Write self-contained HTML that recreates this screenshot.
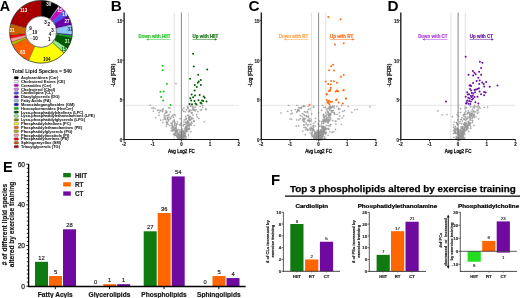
<!DOCTYPE html>
<html><head><meta charset="utf-8"><style>
html,body{margin:0;padding:0;background:#fff;}
body{width:520px;height:298px;overflow:hidden;}
svg{display:block;font-family:"Liberation Sans", sans-serif;filter:blur(0.3px);}
</style></head><body>
<svg width="520" height="298" viewBox="0 0 520 298">
<rect width="520" height="298" fill="#fff"/>
<text x="-0.30" y="10.80" font-size="14.3" text-anchor="start" font-weight="bold" fill="#000" >A</text>
<path d="M41.000,0.400 A31.4,31.4 0 0 1 58.875,5.985 L49.881,18.975 A15.6,15.6 0 0 0 41.000,16.200 Z" fill="#000000" stroke="#222" stroke-width="0.25"/>
<path d="M58.875,5.985 A31.4,31.4 0 0 1 59.765,6.624 L50.323,19.292 A15.6,15.6 0 0 0 49.881,18.975 Z" fill="#ffffff" stroke="#222" stroke-width="0.25"/>
<path d="M59.765,6.624 A31.4,31.4 0 0 1 63.852,10.265 L52.353,21.101 A15.6,15.6 0 0 0 50.323,19.292 Z" fill="#cc00cc" stroke="#222" stroke-width="0.25"/>
<path d="M63.852,10.265 A31.4,31.4 0 0 1 64.335,10.789 L52.593,21.362 A15.6,15.6 0 0 0 52.353,21.101 Z" fill="#e080f0" stroke="#222" stroke-width="0.25"/>
<path d="M64.335,10.789 A31.4,31.4 0 0 1 67.830,15.487 L54.330,23.696 A15.6,15.6 0 0 0 52.593,21.362 Z" fill="#5050ff" stroke="#222" stroke-width="0.25"/>
<path d="M67.830,15.487 A31.4,31.4 0 0 1 71.595,24.737 L56.200,28.291 A15.6,15.6 0 0 0 54.330,23.696 Z" fill="#6a00a8" stroke="#222" stroke-width="0.25"/>
<path d="M71.595,24.737 A31.4,31.4 0 0 1 72.255,34.810 L56.528,33.295 A15.6,15.6 0 0 0 56.200,28.291 Z" fill="#90c4f8" stroke="#222" stroke-width="0.25"/>
<path d="M72.266,34.700 A31.4,31.4 0 0 1 72.138,35.844 L56.470,33.809 A15.6,15.6 0 0 0 56.533,33.241 Z" fill="#1414c8" stroke="#222" stroke-width="0.25"/>
<path d="M72.138,35.844 A31.4,31.4 0 0 1 71.834,37.738 L56.319,34.750 A15.6,15.6 0 0 0 56.470,33.809 Z" fill="#00c400" stroke="#222" stroke-width="0.25"/>
<path d="M71.834,37.738 A31.4,31.4 0 0 1 67.629,48.439 L54.230,40.067 A15.6,15.6 0 0 0 56.319,34.750 Z" fill="#005a00" stroke="#222" stroke-width="0.25"/>
<path d="M67.629,48.439 A31.4,31.4 0 0 1 64.113,53.054 L52.483,42.359 A15.6,15.6 0 0 0 54.230,40.067 Z" fill="#90ee90" stroke="#222" stroke-width="0.25"/>
<path d="M64.113,53.054 A31.4,31.4 0 0 1 63.852,53.335 L52.353,42.499 A15.6,15.6 0 0 0 52.483,42.359 Z" fill="#8a8a00" stroke="#222" stroke-width="0.25"/>
<path d="M63.852,53.335 A31.4,31.4 0 0 1 28.479,60.596 L34.780,46.106 A15.6,15.6 0 0 0 52.353,42.499 Z" fill="#ffff00" stroke="#222" stroke-width="0.25"/>
<path d="M28.479,60.596 A31.4,31.4 0 0 1 12.542,45.070 L26.862,38.393 A15.6,15.6 0 0 0 34.780,46.106 Z" fill="#ff6000" stroke="#222" stroke-width="0.25"/>
<path d="M12.542,45.070 A31.4,31.4 0 0 1 11.258,41.867 L26.224,36.802 A15.6,15.6 0 0 0 26.862,38.393 Z" fill="#b8b800" stroke="#222" stroke-width="0.25"/>
<path d="M11.258,41.867 A31.4,31.4 0 0 1 10.286,38.328 L25.741,35.043 A15.6,15.6 0 0 0 26.224,36.802 Z" fill="#ff9aa8" stroke="#222" stroke-width="0.25"/>
<path d="M10.286,38.328 A31.4,31.4 0 0 1 9.772,35.082 L25.485,33.431 A15.6,15.6 0 0 0 25.741,35.043 Z" fill="#ff0000" stroke="#222" stroke-width="0.25"/>
<path d="M9.772,35.082 A31.4,31.4 0 0 1 10.628,23.832 L25.911,27.841 A15.6,15.6 0 0 0 25.485,33.431 Z" fill="#c86400" stroke="#222" stroke-width="0.25"/>
<path d="M10.628,23.832 A31.4,31.4 0 0 1 41.000,0.400 L41.000,16.200 A15.6,15.6 0 0 0 25.911,27.841 Z" fill="#a80000" stroke="#222" stroke-width="0.25"/>
<circle cx="41.0" cy="31.8" r="31.4" fill="none" stroke="#111" stroke-width="0.5"/>
<circle cx="41.0" cy="31.8" r="15.6" fill="#fff" stroke="#111" stroke-width="0.5"/>
<text x="23.60" y="12.10" font-size="4.5" text-anchor="middle" font-weight="bold" fill="#fff" >113</text>
<text x="48.80" y="6.00" font-size="4.5" text-anchor="middle" font-weight="bold" fill="#fff" >30</text>
<text x="60.00" y="12.00" font-size="4.5" text-anchor="middle" font-weight="bold" fill="#fff" >15</text>
<text x="64.70" y="16.10" font-size="4.5" text-anchor="middle" font-weight="bold" fill="#fff" >16</text>
<text x="67.00" y="22.50" font-size="4.5" text-anchor="middle" font-weight="bold" fill="#fff" >27</text>
<text x="70.00" y="31.40" font-size="4.5" text-anchor="middle" font-weight="bold" fill="#1a2a5a" >31</text>
<text x="67.30" y="43.40" font-size="4.5" text-anchor="middle" font-weight="bold" fill="#b8f0b8" >31</text>
<text x="63.80" y="51.10" font-size="4.5" text-anchor="middle" font-weight="bold" fill="#1a5a1a" >15</text>
<text x="46.70" y="60.50" font-size="4.5" text-anchor="middle" font-weight="bold" fill="#000" >104</text>
<text x="22.50" y="54.00" font-size="4.5" text-anchor="middle" font-weight="bold" fill="#fff" >63</text>
<text x="12.00" y="31.50" font-size="4.5" text-anchor="middle" font-weight="bold" fill="#fff" >31</text>
<text x="45.50" y="24.05" font-size="4.5" text-anchor="middle" font-weight="bold" fill="#111" stroke="#111" stroke-width="0.04" >3</text>
<text x="48.70" y="26.25" font-size="4.5" text-anchor="middle" font-weight="bold" fill="#111" stroke="#111" stroke-width="0.04" >2</text>
<text x="52.50" y="32.05" font-size="4.5" text-anchor="middle" font-weight="bold" fill="#111" stroke="#111" stroke-width="0.04" >3</text>
<text x="50.10" y="35.65" font-size="4.5" text-anchor="middle" font-weight="bold" fill="#111" stroke="#111" stroke-width="0.04" >4</text>
<text x="49.20" y="40.75" font-size="4.5" text-anchor="middle" font-weight="bold" fill="#111" stroke="#111" stroke-width="0.04" >1</text>
<text x="30.50" y="30.35" font-size="4.5" text-anchor="middle" font-weight="bold" fill="#111" stroke="#111" stroke-width="0.04" >9</text>
<text x="34.70" y="34.15" font-size="4.5" text-anchor="middle" font-weight="bold" fill="#111" stroke="#111" stroke-width="0.04" >10</text>
<text x="35.30" y="39.95" font-size="4.5" text-anchor="middle" font-weight="bold" fill="#111" stroke="#111" stroke-width="0.04" >10</text>
<line x1="46.50" y1="21.40" x2="50.30" y2="18.10" stroke="#777" stroke-width="0.35" />
<line x1="49.80" y1="23.50" x2="52.40" y2="20.80" stroke="#777" stroke-width="0.35" />
<line x1="53.50" y1="31.00" x2="56.20" y2="31.60" stroke="#777" stroke-width="0.35" />
<line x1="51.40" y1="34.20" x2="56.20" y2="33.70" stroke="#777" stroke-width="0.35" />
<line x1="50.30" y1="39.10" x2="54.00" y2="42.30" stroke="#777" stroke-width="0.35" />
<line x1="29.40" y1="30.00" x2="26.10" y2="32.10" stroke="#777" stroke-width="0.35" />
<line x1="32.60" y1="33.70" x2="27.20" y2="35.80" stroke="#777" stroke-width="0.35" />
<line x1="32.60" y1="38.50" x2="28.30" y2="38.00" stroke="#777" stroke-width="0.35" />
<text x="42.00" y="72.70" font-size="5.05" text-anchor="middle" font-weight="bold" fill="#111" stroke="#111" stroke-width="0.05" >Total Lipid Species = 540</text>
<rect x="14.2" y="76.50" width="4.2" height="2.4" rx="0.6" fill="#000000" stroke="#333" stroke-width="0.35"/>
<text x="21.00" y="79.05" font-size="3.95" text-anchor="start" font-weight="bold" fill="#111" stroke="#111" stroke-width="0.04" >Acylcarnitines (Car)</text>
<rect x="14.2" y="80.33" width="4.2" height="2.4" rx="0.6" fill="#ffffff" stroke="#333" stroke-width="0.35"/>
<text x="21.00" y="82.88" font-size="3.95" text-anchor="start" font-weight="bold" fill="#111" stroke="#111" stroke-width="0.04" >Cholesterol Esters (CE)</text>
<rect x="14.2" y="84.16" width="4.2" height="2.4" rx="0.6" fill="#cc00cc" stroke="#333" stroke-width="0.35"/>
<text x="21.00" y="86.71" font-size="3.95" text-anchor="start" font-weight="bold" fill="#111" stroke="#111" stroke-width="0.04" >Ceramides (Cer)</text>
<rect x="14.2" y="87.99" width="4.2" height="2.4" rx="0.6" fill="#e080f0" stroke="#333" stroke-width="0.35"/>
<text x="21.00" y="90.54" font-size="3.95" text-anchor="start" font-weight="bold" fill="#111" stroke="#111" stroke-width="0.04" >Cholesterol (Chol)</text>
<rect x="14.2" y="91.82" width="4.2" height="2.4" rx="0.6" fill="#5050ff" stroke="#333" stroke-width="0.35"/>
<text x="21.00" y="94.37" font-size="3.95" text-anchor="start" font-weight="bold" fill="#111" stroke="#111" stroke-width="0.04" >Cardiolipins (CL)</text>
<rect x="14.2" y="95.65" width="4.2" height="2.4" rx="0.6" fill="#6a00a8" stroke="#333" stroke-width="0.35"/>
<text x="21.00" y="98.20" font-size="3.95" text-anchor="start" font-weight="bold" fill="#111" stroke="#111" stroke-width="0.04" >Diacylglycerols (DG)</text>
<rect x="14.2" y="99.48" width="4.2" height="2.4" rx="0.6" fill="#90c4f8" stroke="#333" stroke-width="0.35"/>
<text x="21.00" y="102.03" font-size="3.95" text-anchor="start" font-weight="bold" fill="#111" stroke="#111" stroke-width="0.04" >Fatty Acids (FA)</text>
<rect x="14.2" y="103.31" width="4.2" height="2.4" rx="0.6" fill="#1414c8" stroke="#333" stroke-width="0.35"/>
<text x="21.00" y="105.86" font-size="3.95" text-anchor="start" font-weight="bold" fill="#111" stroke="#111" stroke-width="0.04" >Monosialogangliosides (GM)</text>
<rect x="14.2" y="107.14" width="4.2" height="2.4" rx="0.6" fill="#00c400" stroke="#333" stroke-width="0.35"/>
<text x="21.00" y="109.69" font-size="3.95" text-anchor="start" font-weight="bold" fill="#111" stroke="#111" stroke-width="0.04" >Hexosylceramides (HexCer)</text>
<rect x="14.2" y="110.97" width="4.2" height="2.4" rx="0.6" fill="#005a00" stroke="#333" stroke-width="0.35"/>
<text x="21.00" y="113.52" font-size="3.95" text-anchor="start" font-weight="bold" fill="#111" stroke="#111" stroke-width="0.04" >Lyso-phosphatidylcholines (LPC)</text>
<rect x="14.2" y="114.80" width="4.2" height="2.4" rx="0.6" fill="#90ee90" stroke="#333" stroke-width="0.35"/>
<text x="21.00" y="117.35" font-size="3.95" text-anchor="start" font-weight="bold" fill="#111" stroke="#111" stroke-width="0.04" >Lyso-phosphatidylethanolamines (LPE)</text>
<rect x="14.2" y="118.63" width="4.2" height="2.4" rx="0.6" fill="#8a8a00" stroke="#333" stroke-width="0.35"/>
<text x="21.00" y="121.18" font-size="3.95" text-anchor="start" font-weight="bold" fill="#111" stroke="#111" stroke-width="0.04" >Lyso-phosphatidylglycerols (LPG)</text>
<rect x="14.2" y="122.46" width="4.2" height="2.4" rx="0.6" fill="#ffff00" stroke="#333" stroke-width="0.35"/>
<text x="21.00" y="125.01" font-size="3.95" text-anchor="start" font-weight="bold" fill="#111" stroke="#111" stroke-width="0.04" >Phosphatidylcholines (PC)</text>
<rect x="14.2" y="126.29" width="4.2" height="2.4" rx="0.6" fill="#ff6000" stroke="#333" stroke-width="0.35"/>
<text x="21.00" y="128.84" font-size="3.95" text-anchor="start" font-weight="bold" fill="#111" stroke="#111" stroke-width="0.04" >Phosphatidylethanolamines (PE)</text>
<rect x="14.2" y="130.12" width="4.2" height="2.4" rx="0.6" fill="#b8b800" stroke="#333" stroke-width="0.35"/>
<text x="21.00" y="132.67" font-size="3.95" text-anchor="start" font-weight="bold" fill="#111" stroke="#111" stroke-width="0.04" >Phosphatidylglycerols (PG)</text>
<rect x="14.2" y="133.95" width="4.2" height="2.4" rx="0.6" fill="#ff9aa8" stroke="#333" stroke-width="0.35"/>
<text x="21.00" y="136.50" font-size="3.95" text-anchor="start" font-weight="bold" fill="#111" stroke="#111" stroke-width="0.04" >Phosphatidylinositols (PI)</text>
<rect x="14.2" y="137.78" width="4.2" height="2.4" rx="0.6" fill="#ff0000" stroke="#333" stroke-width="0.35"/>
<text x="21.00" y="140.33" font-size="3.95" text-anchor="start" font-weight="bold" fill="#111" stroke="#111" stroke-width="0.04" >Phosphatidylserines (PS)</text>
<rect x="14.2" y="141.61" width="4.2" height="2.4" rx="0.6" fill="#c86400" stroke="#333" stroke-width="0.35"/>
<text x="21.00" y="144.16" font-size="3.95" text-anchor="start" font-weight="bold" fill="#111" stroke="#111" stroke-width="0.04" >Sphingomyelins (SM)</text>
<rect x="14.2" y="145.44" width="4.2" height="2.4" rx="0.6" fill="#a80000" stroke="#333" stroke-width="0.35"/>
<text x="21.00" y="147.99" font-size="3.95" text-anchor="start" font-weight="bold" fill="#111" stroke="#111" stroke-width="0.04" >Triacylglycerols (TG)</text>
<text x="110.70" y="11.40" font-size="15.3" text-anchor="start" font-weight="bold" fill="#000" >B</text>
<line x1="174.24" y1="12.60" x2="174.24" y2="139.50" stroke="#d4d4d4" stroke-width="0.7" />
<line x1="188.56" y1="12.60" x2="188.56" y2="139.50" stroke="#d4d4d4" stroke-width="0.7" />
<line x1="124.10" y1="105.30" x2="238.70" y2="105.30" stroke="#c8c8c8" stroke-width="0.5" />
<circle cx="182.42" cy="129.12" r="0.62" fill="#b0b0b0" stroke="#858585" stroke-width="0.32"/>
<circle cx="184.72" cy="128.66" r="0.62" fill="#b0b0b0" stroke="#858585" stroke-width="0.32"/>
<circle cx="185.68" cy="127.16" r="0.62" fill="#b0b0b0" stroke="#858585" stroke-width="0.32"/>
<circle cx="186.13" cy="127.01" r="0.62" fill="#b0b0b0" stroke="#858585" stroke-width="0.32"/>
<circle cx="188.71" cy="122.45" r="0.62" fill="#b0b0b0" stroke="#858585" stroke-width="0.32"/>
<circle cx="183.81" cy="133.80" r="0.62" fill="#b0b0b0" stroke="#858585" stroke-width="0.32"/>
<circle cx="182.98" cy="138.57" r="0.62" fill="#b0b0b0" stroke="#858585" stroke-width="0.32"/>
<circle cx="181.50" cy="139.21" r="0.62" fill="#b0b0b0" stroke="#858585" stroke-width="0.32"/>
<circle cx="200.18" cy="106.31" r="0.62" fill="#b0b0b0" stroke="#858585" stroke-width="0.32"/>
<circle cx="187.45" cy="123.03" r="0.62" fill="#b0b0b0" stroke="#858585" stroke-width="0.32"/>
<circle cx="184.01" cy="137.37" r="0.62" fill="#b0b0b0" stroke="#858585" stroke-width="0.32"/>
<circle cx="182.51" cy="139.00" r="0.62" fill="#b0b0b0" stroke="#858585" stroke-width="0.32"/>
<circle cx="183.29" cy="136.67" r="0.62" fill="#b0b0b0" stroke="#858585" stroke-width="0.32"/>
<circle cx="186.58" cy="128.72" r="0.62" fill="#b0b0b0" stroke="#858585" stroke-width="0.32"/>
<circle cx="186.96" cy="129.53" r="0.62" fill="#b0b0b0" stroke="#858585" stroke-width="0.32"/>
<circle cx="186.08" cy="122.03" r="0.62" fill="#b0b0b0" stroke="#858585" stroke-width="0.32"/>
<circle cx="185.53" cy="127.45" r="0.62" fill="#b0b0b0" stroke="#858585" stroke-width="0.32"/>
<circle cx="183.02" cy="134.50" r="0.62" fill="#b0b0b0" stroke="#858585" stroke-width="0.32"/>
<circle cx="202.68" cy="105.52" r="0.62" fill="#b0b0b0" stroke="#858585" stroke-width="0.32"/>
<circle cx="189.45" cy="119.19" r="0.62" fill="#b0b0b0" stroke="#858585" stroke-width="0.32"/>
<circle cx="184.57" cy="133.46" r="0.62" fill="#b0b0b0" stroke="#858585" stroke-width="0.32"/>
<circle cx="183.01" cy="138.87" r="0.62" fill="#b0b0b0" stroke="#858585" stroke-width="0.32"/>
<circle cx="185.73" cy="116.63" r="0.62" fill="#b0b0b0" stroke="#858585" stroke-width="0.32"/>
<circle cx="186.88" cy="131.31" r="0.62" fill="#b0b0b0" stroke="#858585" stroke-width="0.32"/>
<circle cx="193.89" cy="107.52" r="0.62" fill="#b0b0b0" stroke="#858585" stroke-width="0.32"/>
<circle cx="183.42" cy="136.23" r="0.62" fill="#b0b0b0" stroke="#858585" stroke-width="0.32"/>
<circle cx="182.54" cy="109.89" r="0.62" fill="#b0b0b0" stroke="#858585" stroke-width="0.32"/>
<circle cx="186.13" cy="130.96" r="0.62" fill="#b0b0b0" stroke="#858585" stroke-width="0.32"/>
<circle cx="181.73" cy="138.83" r="0.62" fill="#b0b0b0" stroke="#858585" stroke-width="0.32"/>
<circle cx="182.61" cy="134.72" r="0.62" fill="#b0b0b0" stroke="#858585" stroke-width="0.32"/>
<circle cx="181.72" cy="138.62" r="0.62" fill="#b0b0b0" stroke="#858585" stroke-width="0.32"/>
<circle cx="197.14" cy="116.99" r="0.62" fill="#b0b0b0" stroke="#858585" stroke-width="0.32"/>
<circle cx="182.77" cy="138.12" r="0.62" fill="#b0b0b0" stroke="#858585" stroke-width="0.32"/>
<circle cx="182.73" cy="139.00" r="0.62" fill="#b0b0b0" stroke="#858585" stroke-width="0.32"/>
<circle cx="192.83" cy="115.24" r="0.62" fill="#b0b0b0" stroke="#858585" stroke-width="0.32"/>
<circle cx="187.88" cy="129.29" r="0.62" fill="#b0b0b0" stroke="#858585" stroke-width="0.32"/>
<circle cx="183.23" cy="136.66" r="0.62" fill="#b0b0b0" stroke="#858585" stroke-width="0.32"/>
<circle cx="187.32" cy="121.89" r="0.62" fill="#b0b0b0" stroke="#858585" stroke-width="0.32"/>
<circle cx="182.31" cy="138.14" r="0.62" fill="#b0b0b0" stroke="#858585" stroke-width="0.32"/>
<circle cx="184.35" cy="134.72" r="0.62" fill="#b0b0b0" stroke="#858585" stroke-width="0.32"/>
<circle cx="195.20" cy="106.88" r="0.62" fill="#b0b0b0" stroke="#858585" stroke-width="0.32"/>
<circle cx="189.58" cy="111.12" r="0.62" fill="#b0b0b0" stroke="#858585" stroke-width="0.32"/>
<circle cx="182.01" cy="136.20" r="0.62" fill="#b0b0b0" stroke="#858585" stroke-width="0.32"/>
<circle cx="191.59" cy="121.97" r="0.62" fill="#b0b0b0" stroke="#858585" stroke-width="0.32"/>
<circle cx="183.13" cy="138.42" r="0.62" fill="#b0b0b0" stroke="#858585" stroke-width="0.32"/>
<circle cx="183.83" cy="135.02" r="0.62" fill="#b0b0b0" stroke="#858585" stroke-width="0.32"/>
<circle cx="189.40" cy="116.34" r="0.62" fill="#b0b0b0" stroke="#858585" stroke-width="0.32"/>
<circle cx="182.98" cy="138.82" r="0.62" fill="#b0b0b0" stroke="#858585" stroke-width="0.32"/>
<circle cx="182.16" cy="138.58" r="0.62" fill="#b0b0b0" stroke="#858585" stroke-width="0.32"/>
<circle cx="187.15" cy="123.60" r="0.62" fill="#b0b0b0" stroke="#858585" stroke-width="0.32"/>
<circle cx="181.64" cy="131.77" r="0.62" fill="#b0b0b0" stroke="#858585" stroke-width="0.32"/>
<circle cx="187.74" cy="128.03" r="0.62" fill="#b0b0b0" stroke="#858585" stroke-width="0.32"/>
<circle cx="188.55" cy="124.65" r="0.62" fill="#b0b0b0" stroke="#858585" stroke-width="0.32"/>
<circle cx="182.63" cy="137.44" r="0.62" fill="#b0b0b0" stroke="#858585" stroke-width="0.32"/>
<circle cx="194.11" cy="109.98" r="0.62" fill="#b0b0b0" stroke="#858585" stroke-width="0.32"/>
<circle cx="182.67" cy="136.68" r="0.62" fill="#b0b0b0" stroke="#858585" stroke-width="0.32"/>
<circle cx="191.89" cy="117.82" r="0.62" fill="#b0b0b0" stroke="#858585" stroke-width="0.32"/>
<circle cx="192.70" cy="107.92" r="0.62" fill="#b0b0b0" stroke="#858585" stroke-width="0.32"/>
<circle cx="189.44" cy="111.25" r="0.62" fill="#b0b0b0" stroke="#858585" stroke-width="0.32"/>
<circle cx="182.23" cy="138.36" r="0.62" fill="#b0b0b0" stroke="#858585" stroke-width="0.32"/>
<circle cx="182.78" cy="139.24" r="0.62" fill="#b0b0b0" stroke="#858585" stroke-width="0.32"/>
<circle cx="189.07" cy="119.33" r="0.62" fill="#b0b0b0" stroke="#858585" stroke-width="0.32"/>
<circle cx="184.50" cy="135.06" r="0.62" fill="#b0b0b0" stroke="#858585" stroke-width="0.32"/>
<circle cx="182.82" cy="134.08" r="0.62" fill="#b0b0b0" stroke="#858585" stroke-width="0.32"/>
<circle cx="183.11" cy="136.99" r="0.62" fill="#b0b0b0" stroke="#858585" stroke-width="0.32"/>
<circle cx="183.24" cy="135.78" r="0.62" fill="#b0b0b0" stroke="#858585" stroke-width="0.32"/>
<circle cx="189.17" cy="125.23" r="0.62" fill="#b0b0b0" stroke="#858585" stroke-width="0.32"/>
<circle cx="182.85" cy="134.44" r="0.62" fill="#b0b0b0" stroke="#858585" stroke-width="0.32"/>
<circle cx="193.28" cy="109.54" r="0.62" fill="#b0b0b0" stroke="#858585" stroke-width="0.32"/>
<circle cx="184.17" cy="134.74" r="0.62" fill="#b0b0b0" stroke="#858585" stroke-width="0.32"/>
<circle cx="186.89" cy="129.35" r="0.62" fill="#b0b0b0" stroke="#858585" stroke-width="0.32"/>
<circle cx="185.34" cy="131.86" r="0.62" fill="#b0b0b0" stroke="#858585" stroke-width="0.32"/>
<circle cx="188.99" cy="124.74" r="0.62" fill="#b0b0b0" stroke="#858585" stroke-width="0.32"/>
<circle cx="195.19" cy="110.82" r="0.62" fill="#b0b0b0" stroke="#858585" stroke-width="0.32"/>
<circle cx="190.70" cy="106.39" r="0.62" fill="#b0b0b0" stroke="#858585" stroke-width="0.32"/>
<circle cx="184.92" cy="124.26" r="0.62" fill="#b0b0b0" stroke="#858585" stroke-width="0.32"/>
<circle cx="183.05" cy="137.71" r="0.62" fill="#b0b0b0" stroke="#858585" stroke-width="0.32"/>
<circle cx="193.11" cy="109.89" r="0.62" fill="#b0b0b0" stroke="#858585" stroke-width="0.32"/>
<circle cx="190.04" cy="119.49" r="0.62" fill="#b0b0b0" stroke="#858585" stroke-width="0.32"/>
<circle cx="188.39" cy="122.20" r="0.62" fill="#b0b0b0" stroke="#858585" stroke-width="0.32"/>
<circle cx="186.19" cy="128.08" r="0.62" fill="#b0b0b0" stroke="#858585" stroke-width="0.32"/>
<circle cx="190.86" cy="105.43" r="0.62" fill="#b0b0b0" stroke="#858585" stroke-width="0.32"/>
<circle cx="181.50" cy="138.80" r="0.62" fill="#b0b0b0" stroke="#858585" stroke-width="0.32"/>
<circle cx="191.04" cy="110.38" r="0.62" fill="#b0b0b0" stroke="#858585" stroke-width="0.32"/>
<circle cx="188.57" cy="117.92" r="0.62" fill="#b0b0b0" stroke="#858585" stroke-width="0.32"/>
<circle cx="186.57" cy="109.65" r="0.62" fill="#b0b0b0" stroke="#858585" stroke-width="0.32"/>
<circle cx="183.69" cy="132.38" r="0.62" fill="#b0b0b0" stroke="#858585" stroke-width="0.32"/>
<circle cx="185.21" cy="111.78" r="0.62" fill="#b0b0b0" stroke="#858585" stroke-width="0.32"/>
<circle cx="186.37" cy="130.31" r="0.62" fill="#b0b0b0" stroke="#858585" stroke-width="0.32"/>
<circle cx="183.40" cy="124.72" r="0.62" fill="#b0b0b0" stroke="#858585" stroke-width="0.32"/>
<circle cx="186.00" cy="122.65" r="0.62" fill="#b0b0b0" stroke="#858585" stroke-width="0.32"/>
<circle cx="190.19" cy="123.30" r="0.62" fill="#b0b0b0" stroke="#858585" stroke-width="0.32"/>
<circle cx="181.21" cy="138.73" r="0.62" fill="#b0b0b0" stroke="#858585" stroke-width="0.32"/>
<circle cx="183.62" cy="111.36" r="0.62" fill="#b0b0b0" stroke="#858585" stroke-width="0.32"/>
<circle cx="186.34" cy="118.31" r="0.62" fill="#b0b0b0" stroke="#858585" stroke-width="0.32"/>
<circle cx="190.04" cy="124.40" r="0.62" fill="#b0b0b0" stroke="#858585" stroke-width="0.32"/>
<circle cx="186.23" cy="129.53" r="0.62" fill="#b0b0b0" stroke="#858585" stroke-width="0.32"/>
<circle cx="189.21" cy="117.34" r="0.62" fill="#b0b0b0" stroke="#858585" stroke-width="0.32"/>
<circle cx="181.78" cy="139.32" r="0.62" fill="#b0b0b0" stroke="#858585" stroke-width="0.32"/>
<circle cx="182.95" cy="135.73" r="0.62" fill="#b0b0b0" stroke="#858585" stroke-width="0.32"/>
<circle cx="185.68" cy="119.60" r="0.62" fill="#b0b0b0" stroke="#858585" stroke-width="0.32"/>
<circle cx="193.23" cy="109.39" r="0.62" fill="#b0b0b0" stroke="#858585" stroke-width="0.32"/>
<circle cx="184.74" cy="135.09" r="0.62" fill="#b0b0b0" stroke="#858585" stroke-width="0.32"/>
<circle cx="189.30" cy="120.46" r="0.62" fill="#b0b0b0" stroke="#858585" stroke-width="0.32"/>
<circle cx="184.34" cy="136.39" r="0.62" fill="#b0b0b0" stroke="#858585" stroke-width="0.32"/>
<circle cx="193.72" cy="121.22" r="0.62" fill="#b0b0b0" stroke="#858585" stroke-width="0.32"/>
<circle cx="187.03" cy="129.48" r="0.62" fill="#b0b0b0" stroke="#858585" stroke-width="0.32"/>
<circle cx="187.51" cy="120.97" r="0.62" fill="#b0b0b0" stroke="#858585" stroke-width="0.32"/>
<circle cx="181.87" cy="136.48" r="0.62" fill="#b0b0b0" stroke="#858585" stroke-width="0.32"/>
<circle cx="195.93" cy="109.69" r="0.62" fill="#b0b0b0" stroke="#858585" stroke-width="0.32"/>
<circle cx="188.85" cy="111.34" r="0.62" fill="#b0b0b0" stroke="#858585" stroke-width="0.32"/>
<circle cx="185.53" cy="133.43" r="0.62" fill="#b0b0b0" stroke="#858585" stroke-width="0.32"/>
<circle cx="181.43" cy="137.79" r="0.62" fill="#b0b0b0" stroke="#858585" stroke-width="0.32"/>
<circle cx="192.04" cy="112.84" r="0.62" fill="#b0b0b0" stroke="#858585" stroke-width="0.32"/>
<circle cx="191.78" cy="119.05" r="0.62" fill="#b0b0b0" stroke="#858585" stroke-width="0.32"/>
<circle cx="182.91" cy="137.13" r="0.62" fill="#b0b0b0" stroke="#858585" stroke-width="0.32"/>
<circle cx="185.80" cy="129.18" r="0.62" fill="#b0b0b0" stroke="#858585" stroke-width="0.32"/>
<circle cx="186.61" cy="130.42" r="0.62" fill="#b0b0b0" stroke="#858585" stroke-width="0.32"/>
<circle cx="186.27" cy="122.62" r="0.62" fill="#b0b0b0" stroke="#858585" stroke-width="0.32"/>
<circle cx="191.84" cy="113.29" r="0.62" fill="#b0b0b0" stroke="#858585" stroke-width="0.32"/>
<circle cx="192.68" cy="106.32" r="0.62" fill="#b0b0b0" stroke="#858585" stroke-width="0.32"/>
<circle cx="182.40" cy="139.31" r="0.62" fill="#b0b0b0" stroke="#858585" stroke-width="0.32"/>
<circle cx="197.75" cy="111.69" r="0.62" fill="#b0b0b0" stroke="#858585" stroke-width="0.32"/>
<circle cx="188.45" cy="124.80" r="0.62" fill="#b0b0b0" stroke="#858585" stroke-width="0.32"/>
<circle cx="184.44" cy="133.64" r="0.62" fill="#b0b0b0" stroke="#858585" stroke-width="0.32"/>
<circle cx="182.73" cy="137.79" r="0.62" fill="#b0b0b0" stroke="#858585" stroke-width="0.32"/>
<circle cx="189.21" cy="129.04" r="0.62" fill="#b0b0b0" stroke="#858585" stroke-width="0.32"/>
<circle cx="183.98" cy="135.56" r="0.62" fill="#b0b0b0" stroke="#858585" stroke-width="0.32"/>
<circle cx="183.95" cy="137.70" r="0.62" fill="#b0b0b0" stroke="#858585" stroke-width="0.32"/>
<circle cx="186.62" cy="129.33" r="0.62" fill="#b0b0b0" stroke="#858585" stroke-width="0.32"/>
<circle cx="185.95" cy="122.45" r="0.62" fill="#b0b0b0" stroke="#858585" stroke-width="0.32"/>
<circle cx="187.75" cy="107.50" r="0.62" fill="#b0b0b0" stroke="#858585" stroke-width="0.32"/>
<circle cx="190.18" cy="120.19" r="0.62" fill="#b0b0b0" stroke="#858585" stroke-width="0.32"/>
<circle cx="184.11" cy="136.92" r="0.62" fill="#b0b0b0" stroke="#858585" stroke-width="0.32"/>
<circle cx="181.37" cy="139.46" r="0.62" fill="#b0b0b0" stroke="#858585" stroke-width="0.32"/>
<circle cx="183.43" cy="136.92" r="0.62" fill="#b0b0b0" stroke="#858585" stroke-width="0.32"/>
<circle cx="183.05" cy="134.65" r="0.62" fill="#b0b0b0" stroke="#858585" stroke-width="0.32"/>
<circle cx="189.38" cy="126.70" r="0.62" fill="#b0b0b0" stroke="#858585" stroke-width="0.32"/>
<circle cx="188.28" cy="123.08" r="0.62" fill="#b0b0b0" stroke="#858585" stroke-width="0.32"/>
<circle cx="187.77" cy="115.47" r="0.62" fill="#b0b0b0" stroke="#858585" stroke-width="0.32"/>
<circle cx="200.34" cy="110.08" r="0.62" fill="#b0b0b0" stroke="#858585" stroke-width="0.32"/>
<circle cx="193.26" cy="118.56" r="0.62" fill="#b0b0b0" stroke="#858585" stroke-width="0.32"/>
<circle cx="181.83" cy="137.90" r="0.62" fill="#b0b0b0" stroke="#858585" stroke-width="0.32"/>
<circle cx="194.48" cy="109.90" r="0.62" fill="#b0b0b0" stroke="#858585" stroke-width="0.32"/>
<circle cx="182.44" cy="131.61" r="0.62" fill="#b0b0b0" stroke="#858585" stroke-width="0.32"/>
<circle cx="188.26" cy="115.25" r="0.62" fill="#b0b0b0" stroke="#858585" stroke-width="0.32"/>
<circle cx="187.96" cy="108.21" r="0.62" fill="#b0b0b0" stroke="#858585" stroke-width="0.32"/>
<circle cx="183.70" cy="136.34" r="0.62" fill="#b0b0b0" stroke="#858585" stroke-width="0.32"/>
<circle cx="191.51" cy="118.58" r="0.62" fill="#b0b0b0" stroke="#858585" stroke-width="0.32"/>
<circle cx="186.08" cy="118.77" r="0.62" fill="#b0b0b0" stroke="#858585" stroke-width="0.32"/>
<circle cx="185.60" cy="136.14" r="0.62" fill="#b0b0b0" stroke="#858585" stroke-width="0.32"/>
<circle cx="187.33" cy="106.55" r="0.62" fill="#b0b0b0" stroke="#858585" stroke-width="0.32"/>
<circle cx="187.56" cy="126.08" r="0.62" fill="#b0b0b0" stroke="#858585" stroke-width="0.32"/>
<circle cx="189.74" cy="109.90" r="0.62" fill="#b0b0b0" stroke="#858585" stroke-width="0.32"/>
<circle cx="191.17" cy="112.50" r="0.62" fill="#b0b0b0" stroke="#858585" stroke-width="0.32"/>
<circle cx="186.43" cy="129.52" r="0.62" fill="#b0b0b0" stroke="#858585" stroke-width="0.32"/>
<circle cx="187.56" cy="125.58" r="0.62" fill="#b0b0b0" stroke="#858585" stroke-width="0.32"/>
<circle cx="181.64" cy="139.34" r="0.62" fill="#b0b0b0" stroke="#858585" stroke-width="0.32"/>
<circle cx="196.61" cy="114.68" r="0.62" fill="#b0b0b0" stroke="#858585" stroke-width="0.32"/>
<circle cx="183.73" cy="137.05" r="0.62" fill="#b0b0b0" stroke="#858585" stroke-width="0.32"/>
<circle cx="184.82" cy="132.89" r="0.62" fill="#b0b0b0" stroke="#858585" stroke-width="0.32"/>
<circle cx="182.55" cy="137.55" r="0.62" fill="#b0b0b0" stroke="#858585" stroke-width="0.32"/>
<circle cx="186.22" cy="126.84" r="0.62" fill="#b0b0b0" stroke="#858585" stroke-width="0.32"/>
<circle cx="184.24" cy="119.98" r="0.62" fill="#b0b0b0" stroke="#858585" stroke-width="0.32"/>
<circle cx="183.91" cy="108.14" r="0.62" fill="#b0b0b0" stroke="#858585" stroke-width="0.32"/>
<circle cx="182.65" cy="138.64" r="0.62" fill="#b0b0b0" stroke="#858585" stroke-width="0.32"/>
<circle cx="182.76" cy="135.95" r="0.62" fill="#b0b0b0" stroke="#858585" stroke-width="0.32"/>
<circle cx="189.53" cy="118.28" r="0.62" fill="#b0b0b0" stroke="#858585" stroke-width="0.32"/>
<circle cx="183.86" cy="122.09" r="0.62" fill="#b0b0b0" stroke="#858585" stroke-width="0.32"/>
<circle cx="186.84" cy="125.21" r="0.62" fill="#b0b0b0" stroke="#858585" stroke-width="0.32"/>
<circle cx="181.75" cy="132.01" r="0.62" fill="#b0b0b0" stroke="#858585" stroke-width="0.32"/>
<circle cx="206.07" cy="109.74" r="0.62" fill="#b0b0b0" stroke="#858585" stroke-width="0.32"/>
<circle cx="188.48" cy="135.07" r="0.62" fill="#b0b0b0" stroke="#858585" stroke-width="0.32"/>
<circle cx="179.42" cy="124.77" r="0.62" fill="#b0b0b0" stroke="#858585" stroke-width="0.32"/>
<circle cx="191.88" cy="122.97" r="0.62" fill="#b0b0b0" stroke="#858585" stroke-width="0.32"/>
<circle cx="194.15" cy="125.54" r="0.62" fill="#b0b0b0" stroke="#858585" stroke-width="0.32"/>
<circle cx="204.26" cy="121.75" r="0.62" fill="#b0b0b0" stroke="#858585" stroke-width="0.32"/>
<circle cx="191.18" cy="125.07" r="0.62" fill="#b0b0b0" stroke="#858585" stroke-width="0.32"/>
<circle cx="188.83" cy="129.12" r="0.62" fill="#b0b0b0" stroke="#858585" stroke-width="0.32"/>
<circle cx="183.37" cy="125.97" r="0.62" fill="#b0b0b0" stroke="#858585" stroke-width="0.32"/>
<circle cx="198.81" cy="118.41" r="0.62" fill="#b0b0b0" stroke="#858585" stroke-width="0.32"/>
<circle cx="189.42" cy="128.67" r="0.62" fill="#b0b0b0" stroke="#858585" stroke-width="0.32"/>
<circle cx="202.70" cy="107.30" r="0.62" fill="#b0b0b0" stroke="#858585" stroke-width="0.32"/>
<circle cx="186.87" cy="126.61" r="0.62" fill="#b0b0b0" stroke="#858585" stroke-width="0.32"/>
<circle cx="180.58" cy="137.17" r="0.62" fill="#b0b0b0" stroke="#858585" stroke-width="0.32"/>
<circle cx="201.60" cy="109.74" r="0.62" fill="#b0b0b0" stroke="#858585" stroke-width="0.32"/>
<circle cx="187.34" cy="126.49" r="0.62" fill="#b0b0b0" stroke="#858585" stroke-width="0.32"/>
<circle cx="193.94" cy="121.26" r="0.62" fill="#b0b0b0" stroke="#858585" stroke-width="0.32"/>
<circle cx="205.89" cy="108.68" r="0.62" fill="#b0b0b0" stroke="#858585" stroke-width="0.32"/>
<circle cx="184.82" cy="139.25" r="0.62" fill="#b0b0b0" stroke="#858585" stroke-width="0.32"/>
<circle cx="185.09" cy="135.45" r="0.62" fill="#b0b0b0" stroke="#858585" stroke-width="0.32"/>
<circle cx="190.94" cy="131.68" r="0.62" fill="#b0b0b0" stroke="#858585" stroke-width="0.32"/>
<circle cx="185.53" cy="130.62" r="0.62" fill="#b0b0b0" stroke="#858585" stroke-width="0.32"/>
<circle cx="190.62" cy="116.81" r="0.62" fill="#b0b0b0" stroke="#858585" stroke-width="0.32"/>
<circle cx="182.35" cy="137.27" r="0.62" fill="#b0b0b0" stroke="#858585" stroke-width="0.32"/>
<circle cx="184.51" cy="135.35" r="0.62" fill="#b0b0b0" stroke="#858585" stroke-width="0.32"/>
<circle cx="185.13" cy="124.55" r="0.62" fill="#b0b0b0" stroke="#858585" stroke-width="0.32"/>
<circle cx="188.94" cy="128.69" r="0.62" fill="#b0b0b0" stroke="#858585" stroke-width="0.32"/>
<circle cx="190.99" cy="124.59" r="0.62" fill="#b0b0b0" stroke="#858585" stroke-width="0.32"/>
<circle cx="194.10" cy="120.75" r="0.62" fill="#b0b0b0" stroke="#858585" stroke-width="0.32"/>
<circle cx="177.54" cy="121.80" r="0.62" fill="#b0b0b0" stroke="#858585" stroke-width="0.32"/>
<circle cx="172.19" cy="122.76" r="0.62" fill="#b0b0b0" stroke="#858585" stroke-width="0.32"/>
<circle cx="165.00" cy="113.56" r="0.62" fill="#b0b0b0" stroke="#858585" stroke-width="0.32"/>
<circle cx="159.07" cy="115.36" r="0.62" fill="#b0b0b0" stroke="#858585" stroke-width="0.32"/>
<circle cx="166.80" cy="111.73" r="0.62" fill="#b0b0b0" stroke="#858585" stroke-width="0.32"/>
<circle cx="160.10" cy="110.93" r="0.62" fill="#b0b0b0" stroke="#858585" stroke-width="0.32"/>
<circle cx="174.31" cy="135.12" r="0.62" fill="#b0b0b0" stroke="#858585" stroke-width="0.32"/>
<circle cx="178.73" cy="137.18" r="0.62" fill="#b0b0b0" stroke="#858585" stroke-width="0.32"/>
<circle cx="177.48" cy="134.56" r="0.62" fill="#b0b0b0" stroke="#858585" stroke-width="0.32"/>
<circle cx="179.99" cy="137.97" r="0.62" fill="#b0b0b0" stroke="#858585" stroke-width="0.32"/>
<circle cx="174.09" cy="114.52" r="0.62" fill="#b0b0b0" stroke="#858585" stroke-width="0.32"/>
<circle cx="177.79" cy="137.35" r="0.62" fill="#b0b0b0" stroke="#858585" stroke-width="0.32"/>
<circle cx="174.88" cy="129.77" r="0.62" fill="#b0b0b0" stroke="#858585" stroke-width="0.32"/>
<circle cx="178.09" cy="135.56" r="0.62" fill="#b0b0b0" stroke="#858585" stroke-width="0.32"/>
<circle cx="160.59" cy="120.20" r="0.62" fill="#b0b0b0" stroke="#858585" stroke-width="0.32"/>
<circle cx="180.56" cy="137.58" r="0.62" fill="#b0b0b0" stroke="#858585" stroke-width="0.32"/>
<circle cx="172.70" cy="126.43" r="0.62" fill="#b0b0b0" stroke="#858585" stroke-width="0.32"/>
<circle cx="174.18" cy="120.08" r="0.62" fill="#b0b0b0" stroke="#858585" stroke-width="0.32"/>
<circle cx="177.38" cy="135.86" r="0.62" fill="#b0b0b0" stroke="#858585" stroke-width="0.32"/>
<circle cx="179.54" cy="139.06" r="0.62" fill="#b0b0b0" stroke="#858585" stroke-width="0.32"/>
<circle cx="176.22" cy="124.86" r="0.62" fill="#b0b0b0" stroke="#858585" stroke-width="0.32"/>
<circle cx="178.71" cy="136.89" r="0.62" fill="#b0b0b0" stroke="#858585" stroke-width="0.32"/>
<circle cx="177.27" cy="135.97" r="0.62" fill="#b0b0b0" stroke="#858585" stroke-width="0.32"/>
<circle cx="152.07" cy="108.18" r="0.62" fill="#b0b0b0" stroke="#858585" stroke-width="0.32"/>
<circle cx="162.76" cy="110.76" r="0.62" fill="#b0b0b0" stroke="#858585" stroke-width="0.32"/>
<circle cx="162.71" cy="109.77" r="0.62" fill="#b0b0b0" stroke="#858585" stroke-width="0.32"/>
<circle cx="173.44" cy="127.87" r="0.62" fill="#b0b0b0" stroke="#858585" stroke-width="0.32"/>
<circle cx="176.04" cy="127.71" r="0.62" fill="#b0b0b0" stroke="#858585" stroke-width="0.32"/>
<circle cx="176.43" cy="126.10" r="0.62" fill="#b0b0b0" stroke="#858585" stroke-width="0.32"/>
<circle cx="179.40" cy="139.39" r="0.62" fill="#b0b0b0" stroke="#858585" stroke-width="0.32"/>
<circle cx="167.68" cy="119.51" r="0.62" fill="#b0b0b0" stroke="#858585" stroke-width="0.32"/>
<circle cx="175.23" cy="128.14" r="0.62" fill="#b0b0b0" stroke="#858585" stroke-width="0.32"/>
<circle cx="170.73" cy="118.08" r="0.62" fill="#b0b0b0" stroke="#858585" stroke-width="0.32"/>
<circle cx="177.81" cy="136.45" r="0.62" fill="#b0b0b0" stroke="#858585" stroke-width="0.32"/>
<circle cx="166.39" cy="126.20" r="0.62" fill="#b0b0b0" stroke="#858585" stroke-width="0.32"/>
<circle cx="166.10" cy="115.70" r="0.62" fill="#b0b0b0" stroke="#858585" stroke-width="0.32"/>
<circle cx="165.33" cy="119.38" r="0.62" fill="#b0b0b0" stroke="#858585" stroke-width="0.32"/>
<circle cx="177.32" cy="129.72" r="0.62" fill="#b0b0b0" stroke="#858585" stroke-width="0.32"/>
<circle cx="181.12" cy="123.19" r="0.62" fill="#b0b0b0" stroke="#858585" stroke-width="0.32"/>
<circle cx="167.37" cy="115.58" r="0.62" fill="#b0b0b0" stroke="#858585" stroke-width="0.32"/>
<circle cx="174.56" cy="134.04" r="0.62" fill="#b0b0b0" stroke="#858585" stroke-width="0.32"/>
<circle cx="171.57" cy="116.61" r="0.62" fill="#b0b0b0" stroke="#858585" stroke-width="0.32"/>
<circle cx="175.30" cy="115.20" r="0.62" fill="#b0b0b0" stroke="#858585" stroke-width="0.32"/>
<circle cx="159.19" cy="112.64" r="0.62" fill="#b0b0b0" stroke="#858585" stroke-width="0.32"/>
<circle cx="168.51" cy="119.74" r="0.62" fill="#b0b0b0" stroke="#858585" stroke-width="0.32"/>
<circle cx="178.80" cy="129.68" r="0.62" fill="#b0b0b0" stroke="#858585" stroke-width="0.32"/>
<circle cx="165.20" cy="118.71" r="0.62" fill="#b0b0b0" stroke="#858585" stroke-width="0.32"/>
<circle cx="172.45" cy="127.65" r="0.62" fill="#b0b0b0" stroke="#858585" stroke-width="0.32"/>
<circle cx="180.69" cy="139.41" r="0.62" fill="#b0b0b0" stroke="#858585" stroke-width="0.32"/>
<circle cx="166.55" cy="122.32" r="0.62" fill="#b0b0b0" stroke="#858585" stroke-width="0.32"/>
<circle cx="175.12" cy="134.75" r="0.62" fill="#b0b0b0" stroke="#858585" stroke-width="0.32"/>
<circle cx="176.84" cy="131.76" r="0.62" fill="#b0b0b0" stroke="#858585" stroke-width="0.32"/>
<circle cx="174.28" cy="121.03" r="0.62" fill="#b0b0b0" stroke="#858585" stroke-width="0.32"/>
<circle cx="176.16" cy="130.19" r="0.62" fill="#b0b0b0" stroke="#858585" stroke-width="0.32"/>
<circle cx="168.64" cy="107.78" r="0.62" fill="#b0b0b0" stroke="#858585" stroke-width="0.32"/>
<circle cx="173.33" cy="117.23" r="0.62" fill="#b0b0b0" stroke="#858585" stroke-width="0.32"/>
<circle cx="155.17" cy="108.60" r="0.62" fill="#b0b0b0" stroke="#858585" stroke-width="0.32"/>
<circle cx="167.51" cy="118.10" r="0.62" fill="#b0b0b0" stroke="#858585" stroke-width="0.32"/>
<circle cx="177.49" cy="134.09" r="0.62" fill="#b0b0b0" stroke="#858585" stroke-width="0.32"/>
<circle cx="177.63" cy="135.70" r="0.62" fill="#b0b0b0" stroke="#858585" stroke-width="0.32"/>
<circle cx="173.73" cy="130.62" r="0.62" fill="#b0b0b0" stroke="#858585" stroke-width="0.32"/>
<circle cx="162.48" cy="111.61" r="0.62" fill="#b0b0b0" stroke="#858585" stroke-width="0.32"/>
<circle cx="180.50" cy="124.92" r="0.62" fill="#b0b0b0" stroke="#858585" stroke-width="0.32"/>
<circle cx="172.16" cy="124.30" r="0.62" fill="#b0b0b0" stroke="#858585" stroke-width="0.32"/>
<circle cx="169.94" cy="107.98" r="0.62" fill="#b0b0b0" stroke="#858585" stroke-width="0.32"/>
<circle cx="180.81" cy="138.38" r="0.62" fill="#b0b0b0" stroke="#858585" stroke-width="0.32"/>
<circle cx="171.10" cy="123.26" r="0.62" fill="#b0b0b0" stroke="#858585" stroke-width="0.32"/>
<circle cx="166.01" cy="110.63" r="0.62" fill="#b0b0b0" stroke="#858585" stroke-width="0.32"/>
<circle cx="179.18" cy="136.57" r="0.62" fill="#b0b0b0" stroke="#858585" stroke-width="0.32"/>
<circle cx="172.75" cy="126.77" r="0.62" fill="#b0b0b0" stroke="#858585" stroke-width="0.32"/>
<circle cx="162.86" cy="122.78" r="0.62" fill="#b0b0b0" stroke="#858585" stroke-width="0.32"/>
<circle cx="172.19" cy="129.21" r="0.62" fill="#b0b0b0" stroke="#858585" stroke-width="0.32"/>
<circle cx="174.91" cy="125.71" r="0.62" fill="#b0b0b0" stroke="#858585" stroke-width="0.32"/>
<circle cx="177.62" cy="133.28" r="0.62" fill="#b0b0b0" stroke="#858585" stroke-width="0.32"/>
<circle cx="172.96" cy="121.20" r="0.62" fill="#b0b0b0" stroke="#858585" stroke-width="0.32"/>
<circle cx="170.10" cy="118.93" r="0.62" fill="#b0b0b0" stroke="#858585" stroke-width="0.32"/>
<circle cx="175.00" cy="132.98" r="0.62" fill="#b0b0b0" stroke="#858585" stroke-width="0.32"/>
<circle cx="179.62" cy="138.97" r="0.62" fill="#b0b0b0" stroke="#858585" stroke-width="0.32"/>
<circle cx="178.39" cy="136.65" r="0.62" fill="#b0b0b0" stroke="#858585" stroke-width="0.32"/>
<circle cx="170.34" cy="111.94" r="0.62" fill="#b0b0b0" stroke="#858585" stroke-width="0.32"/>
<circle cx="155.65" cy="117.74" r="0.62" fill="#b0b0b0" stroke="#858585" stroke-width="0.32"/>
<circle cx="158.76" cy="110.05" r="0.62" fill="#b0b0b0" stroke="#858585" stroke-width="0.32"/>
<circle cx="178.48" cy="138.43" r="0.62" fill="#b0b0b0" stroke="#858585" stroke-width="0.32"/>
<circle cx="175.07" cy="127.36" r="0.62" fill="#b0b0b0" stroke="#858585" stroke-width="0.32"/>
<circle cx="163.09" cy="108.88" r="0.62" fill="#b0b0b0" stroke="#858585" stroke-width="0.32"/>
<circle cx="157.35" cy="110.34" r="0.62" fill="#b0b0b0" stroke="#858585" stroke-width="0.32"/>
<circle cx="180.24" cy="118.70" r="0.62" fill="#b0b0b0" stroke="#858585" stroke-width="0.32"/>
<circle cx="164.11" cy="115.12" r="0.62" fill="#b0b0b0" stroke="#858585" stroke-width="0.32"/>
<circle cx="167.34" cy="123.04" r="0.62" fill="#b0b0b0" stroke="#858585" stroke-width="0.32"/>
<circle cx="171.26" cy="128.08" r="0.62" fill="#b0b0b0" stroke="#858585" stroke-width="0.32"/>
<circle cx="176.04" cy="135.49" r="0.62" fill="#b0b0b0" stroke="#858585" stroke-width="0.32"/>
<circle cx="178.35" cy="137.39" r="0.62" fill="#b0b0b0" stroke="#858585" stroke-width="0.32"/>
<circle cx="175.45" cy="128.50" r="0.62" fill="#b0b0b0" stroke="#858585" stroke-width="0.32"/>
<circle cx="178.64" cy="133.94" r="0.62" fill="#b0b0b0" stroke="#858585" stroke-width="0.32"/>
<circle cx="176.64" cy="123.80" r="0.62" fill="#b0b0b0" stroke="#858585" stroke-width="0.32"/>
<circle cx="169.80" cy="125.58" r="0.62" fill="#b0b0b0" stroke="#858585" stroke-width="0.32"/>
<circle cx="153.49" cy="107.88" r="0.62" fill="#b0b0b0" stroke="#858585" stroke-width="0.32"/>
<circle cx="178.09" cy="134.58" r="0.62" fill="#b0b0b0" stroke="#858585" stroke-width="0.32"/>
<circle cx="177.35" cy="137.62" r="0.62" fill="#b0b0b0" stroke="#858585" stroke-width="0.32"/>
<circle cx="174.64" cy="122.28" r="0.62" fill="#b0b0b0" stroke="#858585" stroke-width="0.32"/>
<circle cx="175.88" cy="131.12" r="0.62" fill="#b0b0b0" stroke="#858585" stroke-width="0.32"/>
<circle cx="166.79" cy="124.40" r="0.62" fill="#b0b0b0" stroke="#858585" stroke-width="0.32"/>
<circle cx="175.17" cy="123.47" r="0.62" fill="#b0b0b0" stroke="#858585" stroke-width="0.32"/>
<circle cx="179.79" cy="135.84" r="0.62" fill="#b0b0b0" stroke="#858585" stroke-width="0.32"/>
<circle cx="173.38" cy="134.30" r="0.62" fill="#b0b0b0" stroke="#858585" stroke-width="0.32"/>
<circle cx="166.91" cy="112.69" r="0.62" fill="#b0b0b0" stroke="#858585" stroke-width="0.32"/>
<circle cx="179.02" cy="139.02" r="0.62" fill="#b0b0b0" stroke="#858585" stroke-width="0.32"/>
<circle cx="173.56" cy="129.06" r="0.62" fill="#b0b0b0" stroke="#858585" stroke-width="0.32"/>
<circle cx="167.02" cy="122.34" r="0.62" fill="#b0b0b0" stroke="#858585" stroke-width="0.32"/>
<circle cx="178.63" cy="138.45" r="0.62" fill="#b0b0b0" stroke="#858585" stroke-width="0.32"/>
<circle cx="179.86" cy="138.18" r="0.62" fill="#b0b0b0" stroke="#858585" stroke-width="0.32"/>
<circle cx="174.70" cy="122.06" r="0.62" fill="#b0b0b0" stroke="#858585" stroke-width="0.32"/>
<circle cx="176.76" cy="130.69" r="0.62" fill="#b0b0b0" stroke="#858585" stroke-width="0.32"/>
<circle cx="175.48" cy="131.59" r="0.62" fill="#b0b0b0" stroke="#858585" stroke-width="0.32"/>
<circle cx="167.34" cy="117.87" r="0.62" fill="#b0b0b0" stroke="#858585" stroke-width="0.32"/>
<circle cx="179.27" cy="137.49" r="0.62" fill="#b0b0b0" stroke="#858585" stroke-width="0.32"/>
<circle cx="172.74" cy="115.41" r="0.62" fill="#b0b0b0" stroke="#858585" stroke-width="0.32"/>
<circle cx="179.52" cy="135.25" r="0.62" fill="#b0b0b0" stroke="#858585" stroke-width="0.32"/>
<circle cx="174.56" cy="129.09" r="0.62" fill="#b0b0b0" stroke="#858585" stroke-width="0.32"/>
<circle cx="171.13" cy="130.82" r="0.62" fill="#b0b0b0" stroke="#858585" stroke-width="0.32"/>
<circle cx="166.69" cy="121.25" r="0.62" fill="#b0b0b0" stroke="#858585" stroke-width="0.32"/>
<circle cx="172.29" cy="124.97" r="0.62" fill="#b0b0b0" stroke="#858585" stroke-width="0.32"/>
<circle cx="164.15" cy="117.82" r="0.62" fill="#b0b0b0" stroke="#858585" stroke-width="0.32"/>
<circle cx="176.41" cy="130.81" r="0.62" fill="#b0b0b0" stroke="#858585" stroke-width="0.32"/>
<circle cx="178.82" cy="137.97" r="0.62" fill="#b0b0b0" stroke="#858585" stroke-width="0.32"/>
<circle cx="179.59" cy="138.25" r="0.62" fill="#b0b0b0" stroke="#858585" stroke-width="0.32"/>
<circle cx="176.81" cy="124.43" r="0.62" fill="#b0b0b0" stroke="#858585" stroke-width="0.32"/>
<circle cx="176.11" cy="132.90" r="0.62" fill="#b0b0b0" stroke="#858585" stroke-width="0.32"/>
<circle cx="164.81" cy="116.71" r="0.62" fill="#b0b0b0" stroke="#858585" stroke-width="0.32"/>
<circle cx="168.68" cy="120.94" r="0.62" fill="#b0b0b0" stroke="#858585" stroke-width="0.32"/>
<circle cx="179.87" cy="138.28" r="0.62" fill="#b0b0b0" stroke="#858585" stroke-width="0.32"/>
<circle cx="163.11" cy="119.77" r="0.62" fill="#b0b0b0" stroke="#858585" stroke-width="0.32"/>
<circle cx="175.55" cy="133.36" r="0.62" fill="#b0b0b0" stroke="#858585" stroke-width="0.32"/>
<circle cx="165.50" cy="118.58" r="0.62" fill="#b0b0b0" stroke="#858585" stroke-width="0.32"/>
<circle cx="172.68" cy="130.90" r="0.62" fill="#b0b0b0" stroke="#858585" stroke-width="0.32"/>
<circle cx="168.17" cy="124.25" r="0.62" fill="#b0b0b0" stroke="#858585" stroke-width="0.32"/>
<circle cx="153.31" cy="111.10" r="0.62" fill="#b0b0b0" stroke="#858585" stroke-width="0.32"/>
<circle cx="176.23" cy="128.65" r="0.62" fill="#b0b0b0" stroke="#858585" stroke-width="0.32"/>
<circle cx="168.44" cy="115.65" r="0.62" fill="#b0b0b0" stroke="#858585" stroke-width="0.32"/>
<circle cx="172.76" cy="129.87" r="0.62" fill="#b0b0b0" stroke="#858585" stroke-width="0.32"/>
<circle cx="160.89" cy="110.45" r="0.62" fill="#b0b0b0" stroke="#858585" stroke-width="0.32"/>
<circle cx="176.42" cy="131.04" r="0.62" fill="#b0b0b0" stroke="#858585" stroke-width="0.32"/>
<circle cx="176.80" cy="130.93" r="0.62" fill="#b0b0b0" stroke="#858585" stroke-width="0.32"/>
<circle cx="173.16" cy="130.25" r="0.62" fill="#b0b0b0" stroke="#858585" stroke-width="0.32"/>
<circle cx="180.34" cy="135.71" r="0.62" fill="#b0b0b0" stroke="#858585" stroke-width="0.32"/>
<circle cx="174.46" cy="125.24" r="0.62" fill="#b0b0b0" stroke="#858585" stroke-width="0.32"/>
<circle cx="169.19" cy="114.35" r="0.62" fill="#b0b0b0" stroke="#858585" stroke-width="0.32"/>
<circle cx="169.03" cy="117.34" r="0.62" fill="#b0b0b0" stroke="#858585" stroke-width="0.32"/>
<circle cx="165.61" cy="112.60" r="0.62" fill="#b0b0b0" stroke="#858585" stroke-width="0.32"/>
<circle cx="172.07" cy="126.09" r="0.62" fill="#b0b0b0" stroke="#858585" stroke-width="0.32"/>
<circle cx="175.56" cy="134.32" r="0.62" fill="#b0b0b0" stroke="#858585" stroke-width="0.32"/>
<circle cx="178.92" cy="133.30" r="0.62" fill="#b0b0b0" stroke="#858585" stroke-width="0.32"/>
<circle cx="184.67" cy="131.85" r="0.62" fill="#b0b0b0" stroke="#858585" stroke-width="0.32"/>
<circle cx="182.96" cy="132.00" r="0.62" fill="#b0b0b0" stroke="#858585" stroke-width="0.32"/>
<circle cx="185.36" cy="138.70" r="0.62" fill="#b0b0b0" stroke="#858585" stroke-width="0.32"/>
<circle cx="183.76" cy="130.94" r="0.62" fill="#b0b0b0" stroke="#858585" stroke-width="0.32"/>
<circle cx="180.73" cy="138.69" r="0.62" fill="#b0b0b0" stroke="#858585" stroke-width="0.32"/>
<circle cx="180.61" cy="132.40" r="0.62" fill="#b0b0b0" stroke="#858585" stroke-width="0.32"/>
<circle cx="181.74" cy="133.32" r="0.62" fill="#b0b0b0" stroke="#858585" stroke-width="0.32"/>
<circle cx="183.51" cy="132.22" r="0.62" fill="#b0b0b0" stroke="#858585" stroke-width="0.32"/>
<circle cx="181.92" cy="134.54" r="0.62" fill="#b0b0b0" stroke="#858585" stroke-width="0.32"/>
<circle cx="179.12" cy="136.29" r="0.62" fill="#b0b0b0" stroke="#858585" stroke-width="0.32"/>
<circle cx="180.28" cy="130.29" r="0.62" fill="#b0b0b0" stroke="#858585" stroke-width="0.32"/>
<circle cx="179.03" cy="134.39" r="0.62" fill="#b0b0b0" stroke="#858585" stroke-width="0.32"/>
<circle cx="180.20" cy="132.64" r="0.62" fill="#b0b0b0" stroke="#858585" stroke-width="0.32"/>
<circle cx="176.16" cy="135.59" r="0.62" fill="#b0b0b0" stroke="#858585" stroke-width="0.32"/>
<circle cx="179.16" cy="131.64" r="0.62" fill="#b0b0b0" stroke="#858585" stroke-width="0.32"/>
<circle cx="177.31" cy="131.83" r="0.62" fill="#b0b0b0" stroke="#858585" stroke-width="0.32"/>
<circle cx="186.65" cy="131.57" r="0.62" fill="#b0b0b0" stroke="#858585" stroke-width="0.32"/>
<circle cx="177.51" cy="133.41" r="0.62" fill="#b0b0b0" stroke="#858585" stroke-width="0.32"/>
<circle cx="180.53" cy="134.51" r="0.62" fill="#b0b0b0" stroke="#858585" stroke-width="0.32"/>
<circle cx="177.19" cy="135.49" r="0.62" fill="#b0b0b0" stroke="#858585" stroke-width="0.32"/>
<circle cx="184.26" cy="135.50" r="0.62" fill="#b0b0b0" stroke="#858585" stroke-width="0.32"/>
<circle cx="185.06" cy="130.07" r="0.62" fill="#b0b0b0" stroke="#858585" stroke-width="0.32"/>
<circle cx="182.55" cy="135.93" r="0.62" fill="#b0b0b0" stroke="#858585" stroke-width="0.32"/>
<circle cx="183.20" cy="135.46" r="0.62" fill="#b0b0b0" stroke="#858585" stroke-width="0.32"/>
<circle cx="182.57" cy="136.72" r="0.62" fill="#b0b0b0" stroke="#858585" stroke-width="0.32"/>
<circle cx="181.52" cy="136.56" r="0.62" fill="#b0b0b0" stroke="#858585" stroke-width="0.32"/>
<circle cx="179.02" cy="138.41" r="0.62" fill="#b0b0b0" stroke="#858585" stroke-width="0.32"/>
<circle cx="178.11" cy="137.79" r="0.62" fill="#b0b0b0" stroke="#858585" stroke-width="0.32"/>
<circle cx="178.39" cy="138.91" r="0.62" fill="#b0b0b0" stroke="#858585" stroke-width="0.32"/>
<circle cx="182.56" cy="130.85" r="0.62" fill="#b0b0b0" stroke="#858585" stroke-width="0.32"/>
<circle cx="182.96" cy="139.15" r="0.62" fill="#b0b0b0" stroke="#858585" stroke-width="0.32"/>
<circle cx="182.73" cy="137.43" r="0.62" fill="#b0b0b0" stroke="#858585" stroke-width="0.32"/>
<circle cx="180.98" cy="137.26" r="0.62" fill="#b0b0b0" stroke="#858585" stroke-width="0.32"/>
<circle cx="178.29" cy="137.37" r="0.62" fill="#b0b0b0" stroke="#858585" stroke-width="0.32"/>
<circle cx="181.38" cy="137.74" r="0.62" fill="#b0b0b0" stroke="#858585" stroke-width="0.32"/>
<circle cx="183.24" cy="132.29" r="0.62" fill="#b0b0b0" stroke="#858585" stroke-width="0.32"/>
<circle cx="177.15" cy="136.53" r="0.62" fill="#b0b0b0" stroke="#858585" stroke-width="0.32"/>
<circle cx="180.27" cy="134.94" r="0.62" fill="#b0b0b0" stroke="#858585" stroke-width="0.32"/>
<circle cx="186.03" cy="137.02" r="0.62" fill="#b0b0b0" stroke="#858585" stroke-width="0.32"/>
<circle cx="177.97" cy="136.24" r="0.62" fill="#b0b0b0" stroke="#858585" stroke-width="0.32"/>
<circle cx="184.54" cy="134.29" r="0.62" fill="#b0b0b0" stroke="#858585" stroke-width="0.32"/>
<circle cx="180.90" cy="137.40" r="0.62" fill="#b0b0b0" stroke="#858585" stroke-width="0.32"/>
<circle cx="186.07" cy="139.03" r="0.62" fill="#b0b0b0" stroke="#858585" stroke-width="0.32"/>
<circle cx="176.00" cy="83.70" r="0.62" fill="#b0b0b0" stroke="#858585" stroke-width="0.32"/>
<circle cx="150.20" cy="105.20" r="0.62" fill="#b0b0b0" stroke="#858585" stroke-width="0.32"/>
<line x1="181.40" y1="12.60" x2="181.40" y2="139.50" stroke="#6a6a6a" stroke-width="0.8" />
<circle cx="193.10" cy="53.70" r="1.0" fill="#005c00"/>
<circle cx="193.80" cy="66.60" r="1.0" fill="#005c00"/>
<circle cx="207.20" cy="69.60" r="1.0" fill="#005c00"/>
<circle cx="198.20" cy="74.70" r="1.0" fill="#005c00"/>
<circle cx="190.10" cy="78.70" r="1.0" fill="#005c00"/>
<circle cx="200.80" cy="79.90" r="1.0" fill="#005c00"/>
<circle cx="198.80" cy="81.50" r="1.0" fill="#005c00"/>
<circle cx="197.80" cy="82.70" r="1.0" fill="#005c00"/>
<circle cx="194.80" cy="84.90" r="1.0" fill="#005c00"/>
<circle cx="200.80" cy="84.90" r="1.0" fill="#005c00"/>
<circle cx="196.80" cy="87.10" r="1.0" fill="#005c00"/>
<circle cx="194.60" cy="90.60" r="1.0" fill="#005c00"/>
<circle cx="191.60" cy="94.50" r="1.0" fill="#005c00"/>
<circle cx="199.70" cy="95.00" r="1.0" fill="#005c00"/>
<circle cx="195.00" cy="95.60" r="1.0" fill="#005c00"/>
<circle cx="193.10" cy="97.30" r="1.0" fill="#005c00"/>
<circle cx="190.30" cy="98.30" r="1.0" fill="#005c00"/>
<circle cx="203.70" cy="96.60" r="1.0" fill="#005c00"/>
<circle cx="204.70" cy="97.80" r="1.0" fill="#005c00"/>
<circle cx="191.20" cy="100.50" r="1.0" fill="#005c00"/>
<circle cx="194.50" cy="101.00" r="1.0" fill="#005c00"/>
<circle cx="198.50" cy="100.20" r="1.0" fill="#005c00"/>
<circle cx="202.00" cy="100.50" r="1.0" fill="#005c00"/>
<circle cx="189.50" cy="104.00" r="1.0" fill="#005c00"/>
<circle cx="195.50" cy="103.50" r="1.0" fill="#005c00"/>
<circle cx="192.00" cy="104.20" r="1.0" fill="#005c00"/>
<circle cx="196.50" cy="104.50" r="1.0" fill="#005c00"/>
<circle cx="206.50" cy="101.50" r="1.0" fill="#005c00"/>
<circle cx="203.20" cy="101.00" r="1.0" fill="#005c00"/>
<circle cx="200.50" cy="102.70" r="1.0" fill="#005c00"/>
<circle cx="201.50" cy="103.50" r="1.0" fill="#005c00"/>
<circle cx="162.60" cy="65.80" r="1.0" fill="#14c814"/>
<circle cx="162.60" cy="70.30" r="1.0" fill="#14c814"/>
<circle cx="166.90" cy="83.70" r="1.0" fill="#14c814"/>
<circle cx="160.40" cy="91.80" r="1.0" fill="#14c814"/>
<circle cx="163.60" cy="91.40" r="1.0" fill="#14c814"/>
<circle cx="161.10" cy="97.10" r="1.0" fill="#14c814"/>
<circle cx="163.20" cy="100.50" r="1.0" fill="#14c814"/>
<circle cx="170.50" cy="105.00" r="1.0" fill="#14c814"/>
<line x1="124.10" y1="12.60" x2="124.10" y2="140.10" stroke="#1a1a1a" stroke-width="1.35" />
<line x1="123.60" y1="139.50" x2="239.00" y2="139.50" stroke="#111" stroke-width="1.2" />
<line x1="122.40" y1="139.50" x2="124.10" y2="139.50" stroke="#222" stroke-width="0.75" />
<text x="122.20" y="141.80" font-size="4.5" text-anchor="end" font-weight="bold" fill="#333" stroke="#333" stroke-width="0.16" >0</text>
<line x1="122.40" y1="99.85" x2="124.10" y2="99.85" stroke="#222" stroke-width="0.75" />
<text x="122.20" y="102.15" font-size="4.5" text-anchor="end" font-weight="bold" fill="#333" stroke="#333" stroke-width="0.16" >5</text>
<line x1="122.40" y1="60.20" x2="124.10" y2="60.20" stroke="#222" stroke-width="0.75" />
<text x="122.20" y="62.50" font-size="4.5" text-anchor="end" font-weight="bold" fill="#333" stroke="#333" stroke-width="0.16" >10</text>
<line x1="122.40" y1="20.55" x2="124.10" y2="20.55" stroke="#222" stroke-width="0.75" />
<text x="122.20" y="22.85" font-size="4.5" text-anchor="end" font-weight="bold" fill="#333" stroke="#333" stroke-width="0.16" >15</text>
<line x1="124.10" y1="139.50" x2="124.10" y2="141.50" stroke="#222" stroke-width="0.9" />
<text x="124.10" y="146.20" font-size="4.5" text-anchor="middle" font-weight="bold" fill="#222" stroke="#222" stroke-width="0.15" >-2</text>
<line x1="152.75" y1="139.50" x2="152.75" y2="141.50" stroke="#222" stroke-width="0.9" />
<text x="152.75" y="146.20" font-size="4.5" text-anchor="middle" font-weight="bold" fill="#222" stroke="#222" stroke-width="0.15" >-1</text>
<line x1="181.40" y1="139.50" x2="181.40" y2="141.50" stroke="#222" stroke-width="0.9" />
<text x="181.40" y="146.20" font-size="4.5" text-anchor="middle" font-weight="bold" fill="#222" stroke="#222" stroke-width="0.15" >0</text>
<line x1="210.05" y1="139.50" x2="210.05" y2="141.50" stroke="#222" stroke-width="0.9" />
<text x="210.05" y="146.20" font-size="4.5" text-anchor="middle" font-weight="bold" fill="#222" stroke="#222" stroke-width="0.15" >1</text>
<line x1="238.70" y1="139.50" x2="238.70" y2="141.50" stroke="#222" stroke-width="0.9" />
<text x="238.70" y="146.20" font-size="4.5" text-anchor="middle" font-weight="bold" fill="#222" stroke="#222" stroke-width="0.15" >2</text>
<text x="181.40" y="153.10" font-size="4.6" text-anchor="middle" font-weight="normal" fill="#111" stroke="#111" stroke-width="0.3" >Avg Log2 FC</text>
<text transform="translate(114.50,75.3) rotate(-90)" font-size="4.6" text-anchor="middle" font-weight="normal" fill="#111" stroke="#111" stroke-width="0.28">-Log (FDR)</text>
<text x="170.40" y="37.80" font-size="4.45" text-anchor="end" font-weight="bold" fill="#2ac42a" stroke="#2ac42a" stroke-width="0.16" >Down with HIIT</text>
<line x1="147.80" y1="39.40" x2="170.40" y2="39.40" stroke="#2ac42a" stroke-width="0.55" />
<path d="M146.30,39.4 l2.4,-1.2 l0,2.4 z" fill="#2ac42a"/>
<text x="192.60" y="37.80" font-size="4.45" text-anchor="start" font-weight="bold" fill="#127212" stroke="#127212" stroke-width="0.16" >Up with HIIT</text>
<line x1="192.60" y1="39.40" x2="215.70" y2="39.40" stroke="#127212" stroke-width="0.55" />
<path d="M217.20,39.4 l-2.4,-1.2 l0,2.4 z" fill="#127212"/>
<text x="248.40" y="11.40" font-size="15.3" text-anchor="start" font-weight="bold" fill="#000" >C</text>
<line x1="311.44" y1="12.60" x2="311.44" y2="139.50" stroke="#d4d4d4" stroke-width="0.7" />
<line x1="325.76" y1="12.60" x2="325.76" y2="139.50" stroke="#d4d4d4" stroke-width="0.7" />
<line x1="261.30" y1="105.30" x2="375.90" y2="105.30" stroke="#c8c8c8" stroke-width="0.5" />
<circle cx="321.95" cy="129.15" r="0.62" fill="#b0b0b0" stroke="#858585" stroke-width="0.32"/>
<circle cx="319.35" cy="137.99" r="0.62" fill="#b0b0b0" stroke="#858585" stroke-width="0.32"/>
<circle cx="319.43" cy="139.48" r="0.62" fill="#b0b0b0" stroke="#858585" stroke-width="0.32"/>
<circle cx="330.62" cy="115.14" r="0.62" fill="#b0b0b0" stroke="#858585" stroke-width="0.32"/>
<circle cx="323.52" cy="120.64" r="0.62" fill="#b0b0b0" stroke="#858585" stroke-width="0.32"/>
<circle cx="323.97" cy="121.90" r="0.62" fill="#b0b0b0" stroke="#858585" stroke-width="0.32"/>
<circle cx="319.88" cy="137.94" r="0.62" fill="#b0b0b0" stroke="#858585" stroke-width="0.32"/>
<circle cx="331.20" cy="110.38" r="0.62" fill="#b0b0b0" stroke="#858585" stroke-width="0.32"/>
<circle cx="319.98" cy="139.13" r="0.62" fill="#b0b0b0" stroke="#858585" stroke-width="0.32"/>
<circle cx="325.45" cy="120.80" r="0.62" fill="#b0b0b0" stroke="#858585" stroke-width="0.32"/>
<circle cx="319.80" cy="133.52" r="0.62" fill="#b0b0b0" stroke="#858585" stroke-width="0.32"/>
<circle cx="320.40" cy="139.44" r="0.62" fill="#b0b0b0" stroke="#858585" stroke-width="0.32"/>
<circle cx="320.52" cy="139.11" r="0.62" fill="#b0b0b0" stroke="#858585" stroke-width="0.32"/>
<circle cx="319.61" cy="138.76" r="0.62" fill="#b0b0b0" stroke="#858585" stroke-width="0.32"/>
<circle cx="334.03" cy="106.10" r="0.62" fill="#b0b0b0" stroke="#858585" stroke-width="0.32"/>
<circle cx="322.59" cy="130.89" r="0.62" fill="#b0b0b0" stroke="#858585" stroke-width="0.32"/>
<circle cx="319.85" cy="138.11" r="0.62" fill="#b0b0b0" stroke="#858585" stroke-width="0.32"/>
<circle cx="321.47" cy="137.62" r="0.62" fill="#b0b0b0" stroke="#858585" stroke-width="0.32"/>
<circle cx="328.40" cy="120.37" r="0.62" fill="#b0b0b0" stroke="#858585" stroke-width="0.32"/>
<circle cx="329.36" cy="114.89" r="0.62" fill="#b0b0b0" stroke="#858585" stroke-width="0.32"/>
<circle cx="320.75" cy="131.61" r="0.62" fill="#b0b0b0" stroke="#858585" stroke-width="0.32"/>
<circle cx="324.75" cy="129.08" r="0.62" fill="#b0b0b0" stroke="#858585" stroke-width="0.32"/>
<circle cx="324.80" cy="132.11" r="0.62" fill="#b0b0b0" stroke="#858585" stroke-width="0.32"/>
<circle cx="332.86" cy="107.16" r="0.62" fill="#b0b0b0" stroke="#858585" stroke-width="0.32"/>
<circle cx="329.31" cy="106.68" r="0.62" fill="#b0b0b0" stroke="#858585" stroke-width="0.32"/>
<circle cx="321.04" cy="132.76" r="0.62" fill="#b0b0b0" stroke="#858585" stroke-width="0.32"/>
<circle cx="325.88" cy="120.66" r="0.62" fill="#b0b0b0" stroke="#858585" stroke-width="0.32"/>
<circle cx="320.52" cy="136.14" r="0.62" fill="#b0b0b0" stroke="#858585" stroke-width="0.32"/>
<circle cx="319.59" cy="132.75" r="0.62" fill="#b0b0b0" stroke="#858585" stroke-width="0.32"/>
<circle cx="323.55" cy="128.25" r="0.62" fill="#b0b0b0" stroke="#858585" stroke-width="0.32"/>
<circle cx="320.06" cy="139.39" r="0.62" fill="#b0b0b0" stroke="#858585" stroke-width="0.32"/>
<circle cx="322.08" cy="127.56" r="0.62" fill="#b0b0b0" stroke="#858585" stroke-width="0.32"/>
<circle cx="320.00" cy="136.43" r="0.62" fill="#b0b0b0" stroke="#858585" stroke-width="0.32"/>
<circle cx="329.39" cy="116.97" r="0.62" fill="#b0b0b0" stroke="#858585" stroke-width="0.32"/>
<circle cx="319.66" cy="138.61" r="0.62" fill="#b0b0b0" stroke="#858585" stroke-width="0.32"/>
<circle cx="326.07" cy="120.41" r="0.62" fill="#b0b0b0" stroke="#858585" stroke-width="0.32"/>
<circle cx="319.72" cy="139.33" r="0.62" fill="#b0b0b0" stroke="#858585" stroke-width="0.32"/>
<circle cx="328.15" cy="122.93" r="0.62" fill="#b0b0b0" stroke="#858585" stroke-width="0.32"/>
<circle cx="319.45" cy="139.20" r="0.62" fill="#b0b0b0" stroke="#858585" stroke-width="0.32"/>
<circle cx="321.57" cy="135.00" r="0.62" fill="#b0b0b0" stroke="#858585" stroke-width="0.32"/>
<circle cx="325.60" cy="129.09" r="0.62" fill="#b0b0b0" stroke="#858585" stroke-width="0.32"/>
<circle cx="329.86" cy="107.78" r="0.62" fill="#b0b0b0" stroke="#858585" stroke-width="0.32"/>
<circle cx="321.15" cy="137.54" r="0.62" fill="#b0b0b0" stroke="#858585" stroke-width="0.32"/>
<circle cx="320.22" cy="137.12" r="0.62" fill="#b0b0b0" stroke="#858585" stroke-width="0.32"/>
<circle cx="327.82" cy="118.05" r="0.62" fill="#b0b0b0" stroke="#858585" stroke-width="0.32"/>
<circle cx="321.18" cy="135.35" r="0.62" fill="#b0b0b0" stroke="#858585" stroke-width="0.32"/>
<circle cx="326.48" cy="117.02" r="0.62" fill="#b0b0b0" stroke="#858585" stroke-width="0.32"/>
<circle cx="320.11" cy="139.48" r="0.62" fill="#b0b0b0" stroke="#858585" stroke-width="0.32"/>
<circle cx="318.56" cy="139.30" r="0.62" fill="#b0b0b0" stroke="#858585" stroke-width="0.32"/>
<circle cx="322.51" cy="105.48" r="0.62" fill="#b0b0b0" stroke="#858585" stroke-width="0.32"/>
<circle cx="325.61" cy="128.12" r="0.62" fill="#b0b0b0" stroke="#858585" stroke-width="0.32"/>
<circle cx="328.61" cy="116.24" r="0.62" fill="#b0b0b0" stroke="#858585" stroke-width="0.32"/>
<circle cx="327.17" cy="114.10" r="0.62" fill="#b0b0b0" stroke="#858585" stroke-width="0.32"/>
<circle cx="322.99" cy="127.26" r="0.62" fill="#b0b0b0" stroke="#858585" stroke-width="0.32"/>
<circle cx="322.49" cy="129.05" r="0.62" fill="#b0b0b0" stroke="#858585" stroke-width="0.32"/>
<circle cx="328.50" cy="108.26" r="0.62" fill="#b0b0b0" stroke="#858585" stroke-width="0.32"/>
<circle cx="331.87" cy="110.98" r="0.62" fill="#b0b0b0" stroke="#858585" stroke-width="0.32"/>
<circle cx="332.52" cy="112.05" r="0.62" fill="#b0b0b0" stroke="#858585" stroke-width="0.32"/>
<circle cx="322.61" cy="135.09" r="0.62" fill="#b0b0b0" stroke="#858585" stroke-width="0.32"/>
<circle cx="325.40" cy="120.41" r="0.62" fill="#b0b0b0" stroke="#858585" stroke-width="0.32"/>
<circle cx="327.34" cy="120.02" r="0.62" fill="#b0b0b0" stroke="#858585" stroke-width="0.32"/>
<circle cx="321.97" cy="135.67" r="0.62" fill="#b0b0b0" stroke="#858585" stroke-width="0.32"/>
<circle cx="325.91" cy="120.96" r="0.62" fill="#b0b0b0" stroke="#858585" stroke-width="0.32"/>
<circle cx="327.84" cy="111.38" r="0.62" fill="#b0b0b0" stroke="#858585" stroke-width="0.32"/>
<circle cx="322.92" cy="130.98" r="0.62" fill="#b0b0b0" stroke="#858585" stroke-width="0.32"/>
<circle cx="336.73" cy="106.51" r="0.62" fill="#b0b0b0" stroke="#858585" stroke-width="0.32"/>
<circle cx="320.99" cy="126.02" r="0.62" fill="#b0b0b0" stroke="#858585" stroke-width="0.32"/>
<circle cx="323.99" cy="107.45" r="0.62" fill="#b0b0b0" stroke="#858585" stroke-width="0.32"/>
<circle cx="323.81" cy="117.50" r="0.62" fill="#b0b0b0" stroke="#858585" stroke-width="0.32"/>
<circle cx="332.95" cy="110.64" r="0.62" fill="#b0b0b0" stroke="#858585" stroke-width="0.32"/>
<circle cx="325.33" cy="116.15" r="0.62" fill="#b0b0b0" stroke="#858585" stroke-width="0.32"/>
<circle cx="321.59" cy="132.60" r="0.62" fill="#b0b0b0" stroke="#858585" stroke-width="0.32"/>
<circle cx="326.74" cy="118.63" r="0.62" fill="#b0b0b0" stroke="#858585" stroke-width="0.32"/>
<circle cx="326.65" cy="119.78" r="0.62" fill="#b0b0b0" stroke="#858585" stroke-width="0.32"/>
<circle cx="332.90" cy="110.50" r="0.62" fill="#b0b0b0" stroke="#858585" stroke-width="0.32"/>
<circle cx="321.61" cy="110.15" r="0.62" fill="#b0b0b0" stroke="#858585" stroke-width="0.32"/>
<circle cx="324.79" cy="126.97" r="0.62" fill="#b0b0b0" stroke="#858585" stroke-width="0.32"/>
<circle cx="319.40" cy="138.67" r="0.62" fill="#b0b0b0" stroke="#858585" stroke-width="0.32"/>
<circle cx="320.84" cy="133.05" r="0.62" fill="#b0b0b0" stroke="#858585" stroke-width="0.32"/>
<circle cx="332.90" cy="120.71" r="0.62" fill="#b0b0b0" stroke="#858585" stroke-width="0.32"/>
<circle cx="323.55" cy="126.72" r="0.62" fill="#b0b0b0" stroke="#858585" stroke-width="0.32"/>
<circle cx="323.49" cy="126.99" r="0.62" fill="#b0b0b0" stroke="#858585" stroke-width="0.32"/>
<circle cx="324.94" cy="120.20" r="0.62" fill="#b0b0b0" stroke="#858585" stroke-width="0.32"/>
<circle cx="323.41" cy="131.41" r="0.62" fill="#b0b0b0" stroke="#858585" stroke-width="0.32"/>
<circle cx="321.49" cy="133.89" r="0.62" fill="#b0b0b0" stroke="#858585" stroke-width="0.32"/>
<circle cx="319.67" cy="138.77" r="0.62" fill="#b0b0b0" stroke="#858585" stroke-width="0.32"/>
<circle cx="320.96" cy="134.20" r="0.62" fill="#b0b0b0" stroke="#858585" stroke-width="0.32"/>
<circle cx="321.64" cy="121.99" r="0.62" fill="#b0b0b0" stroke="#858585" stroke-width="0.32"/>
<circle cx="330.08" cy="108.89" r="0.62" fill="#b0b0b0" stroke="#858585" stroke-width="0.32"/>
<circle cx="324.01" cy="128.69" r="0.62" fill="#b0b0b0" stroke="#858585" stroke-width="0.32"/>
<circle cx="324.22" cy="130.21" r="0.62" fill="#b0b0b0" stroke="#858585" stroke-width="0.32"/>
<circle cx="323.75" cy="133.39" r="0.62" fill="#b0b0b0" stroke="#858585" stroke-width="0.32"/>
<circle cx="319.86" cy="136.06" r="0.62" fill="#b0b0b0" stroke="#858585" stroke-width="0.32"/>
<circle cx="320.97" cy="139.49" r="0.62" fill="#b0b0b0" stroke="#858585" stroke-width="0.32"/>
<circle cx="321.98" cy="132.84" r="0.62" fill="#b0b0b0" stroke="#858585" stroke-width="0.32"/>
<circle cx="324.09" cy="130.58" r="0.62" fill="#b0b0b0" stroke="#858585" stroke-width="0.32"/>
<circle cx="321.83" cy="136.47" r="0.62" fill="#b0b0b0" stroke="#858585" stroke-width="0.32"/>
<circle cx="324.95" cy="120.31" r="0.62" fill="#b0b0b0" stroke="#858585" stroke-width="0.32"/>
<circle cx="319.34" cy="137.64" r="0.62" fill="#b0b0b0" stroke="#858585" stroke-width="0.32"/>
<circle cx="330.28" cy="113.56" r="0.62" fill="#b0b0b0" stroke="#858585" stroke-width="0.32"/>
<circle cx="319.10" cy="135.79" r="0.62" fill="#b0b0b0" stroke="#858585" stroke-width="0.32"/>
<circle cx="330.78" cy="114.11" r="0.62" fill="#b0b0b0" stroke="#858585" stroke-width="0.32"/>
<circle cx="319.29" cy="136.31" r="0.62" fill="#b0b0b0" stroke="#858585" stroke-width="0.32"/>
<circle cx="321.92" cy="131.78" r="0.62" fill="#b0b0b0" stroke="#858585" stroke-width="0.32"/>
<circle cx="322.31" cy="121.39" r="0.62" fill="#b0b0b0" stroke="#858585" stroke-width="0.32"/>
<circle cx="319.38" cy="126.25" r="0.62" fill="#b0b0b0" stroke="#858585" stroke-width="0.32"/>
<circle cx="323.63" cy="121.07" r="0.62" fill="#b0b0b0" stroke="#858585" stroke-width="0.32"/>
<circle cx="323.43" cy="133.93" r="0.62" fill="#b0b0b0" stroke="#858585" stroke-width="0.32"/>
<circle cx="322.71" cy="128.26" r="0.62" fill="#b0b0b0" stroke="#858585" stroke-width="0.32"/>
<circle cx="320.74" cy="138.10" r="0.62" fill="#b0b0b0" stroke="#858585" stroke-width="0.32"/>
<circle cx="320.17" cy="136.35" r="0.62" fill="#b0b0b0" stroke="#858585" stroke-width="0.32"/>
<circle cx="319.71" cy="139.25" r="0.62" fill="#b0b0b0" stroke="#858585" stroke-width="0.32"/>
<circle cx="326.55" cy="115.47" r="0.62" fill="#b0b0b0" stroke="#858585" stroke-width="0.32"/>
<circle cx="330.82" cy="124.49" r="0.62" fill="#b0b0b0" stroke="#858585" stroke-width="0.32"/>
<circle cx="324.74" cy="131.97" r="0.62" fill="#b0b0b0" stroke="#858585" stroke-width="0.32"/>
<circle cx="319.80" cy="133.97" r="0.62" fill="#b0b0b0" stroke="#858585" stroke-width="0.32"/>
<circle cx="319.31" cy="138.26" r="0.62" fill="#b0b0b0" stroke="#858585" stroke-width="0.32"/>
<circle cx="321.56" cy="124.10" r="0.62" fill="#b0b0b0" stroke="#858585" stroke-width="0.32"/>
<circle cx="323.96" cy="116.38" r="0.62" fill="#b0b0b0" stroke="#858585" stroke-width="0.32"/>
<circle cx="321.99" cy="135.47" r="0.62" fill="#b0b0b0" stroke="#858585" stroke-width="0.32"/>
<circle cx="321.52" cy="131.41" r="0.62" fill="#b0b0b0" stroke="#858585" stroke-width="0.32"/>
<circle cx="323.64" cy="131.64" r="0.62" fill="#b0b0b0" stroke="#858585" stroke-width="0.32"/>
<circle cx="329.68" cy="115.30" r="0.62" fill="#b0b0b0" stroke="#858585" stroke-width="0.32"/>
<circle cx="321.75" cy="135.68" r="0.62" fill="#b0b0b0" stroke="#858585" stroke-width="0.32"/>
<circle cx="329.97" cy="106.97" r="0.62" fill="#b0b0b0" stroke="#858585" stroke-width="0.32"/>
<circle cx="328.81" cy="113.93" r="0.62" fill="#b0b0b0" stroke="#858585" stroke-width="0.32"/>
<circle cx="331.32" cy="112.03" r="0.62" fill="#b0b0b0" stroke="#858585" stroke-width="0.32"/>
<circle cx="324.54" cy="118.68" r="0.62" fill="#b0b0b0" stroke="#858585" stroke-width="0.32"/>
<circle cx="323.18" cy="134.39" r="0.62" fill="#b0b0b0" stroke="#858585" stroke-width="0.32"/>
<circle cx="334.71" cy="114.04" r="0.62" fill="#b0b0b0" stroke="#858585" stroke-width="0.32"/>
<circle cx="320.92" cy="136.67" r="0.62" fill="#b0b0b0" stroke="#858585" stroke-width="0.32"/>
<circle cx="321.43" cy="134.31" r="0.62" fill="#b0b0b0" stroke="#858585" stroke-width="0.32"/>
<circle cx="319.92" cy="139.47" r="0.62" fill="#b0b0b0" stroke="#858585" stroke-width="0.32"/>
<circle cx="328.59" cy="119.53" r="0.62" fill="#b0b0b0" stroke="#858585" stroke-width="0.32"/>
<circle cx="321.79" cy="134.62" r="0.62" fill="#b0b0b0" stroke="#858585" stroke-width="0.32"/>
<circle cx="322.39" cy="134.21" r="0.62" fill="#b0b0b0" stroke="#858585" stroke-width="0.32"/>
<circle cx="328.02" cy="112.60" r="0.62" fill="#b0b0b0" stroke="#858585" stroke-width="0.32"/>
<circle cx="325.62" cy="120.89" r="0.62" fill="#b0b0b0" stroke="#858585" stroke-width="0.32"/>
<circle cx="321.78" cy="126.92" r="0.62" fill="#b0b0b0" stroke="#858585" stroke-width="0.32"/>
<circle cx="327.02" cy="122.32" r="0.62" fill="#b0b0b0" stroke="#858585" stroke-width="0.32"/>
<circle cx="323.27" cy="115.61" r="0.62" fill="#b0b0b0" stroke="#858585" stroke-width="0.32"/>
<circle cx="323.31" cy="129.41" r="0.62" fill="#b0b0b0" stroke="#858585" stroke-width="0.32"/>
<circle cx="323.59" cy="123.05" r="0.62" fill="#b0b0b0" stroke="#858585" stroke-width="0.32"/>
<circle cx="325.41" cy="127.65" r="0.62" fill="#b0b0b0" stroke="#858585" stroke-width="0.32"/>
<circle cx="325.69" cy="119.56" r="0.62" fill="#b0b0b0" stroke="#858585" stroke-width="0.32"/>
<circle cx="328.08" cy="128.55" r="0.62" fill="#b0b0b0" stroke="#858585" stroke-width="0.32"/>
<circle cx="325.74" cy="112.94" r="0.62" fill="#b0b0b0" stroke="#858585" stroke-width="0.32"/>
<circle cx="319.65" cy="121.00" r="0.62" fill="#b0b0b0" stroke="#858585" stroke-width="0.32"/>
<circle cx="321.00" cy="130.77" r="0.62" fill="#b0b0b0" stroke="#858585" stroke-width="0.32"/>
<circle cx="330.11" cy="117.80" r="0.62" fill="#b0b0b0" stroke="#858585" stroke-width="0.32"/>
<circle cx="329.99" cy="113.75" r="0.62" fill="#b0b0b0" stroke="#858585" stroke-width="0.32"/>
<circle cx="320.28" cy="138.53" r="0.62" fill="#b0b0b0" stroke="#858585" stroke-width="0.32"/>
<circle cx="320.06" cy="138.85" r="0.62" fill="#b0b0b0" stroke="#858585" stroke-width="0.32"/>
<circle cx="321.13" cy="135.80" r="0.62" fill="#b0b0b0" stroke="#858585" stroke-width="0.32"/>
<circle cx="319.74" cy="138.46" r="0.62" fill="#b0b0b0" stroke="#858585" stroke-width="0.32"/>
<circle cx="325.49" cy="107.26" r="0.62" fill="#b0b0b0" stroke="#858585" stroke-width="0.32"/>
<circle cx="331.06" cy="107.53" r="0.62" fill="#b0b0b0" stroke="#858585" stroke-width="0.32"/>
<circle cx="318.35" cy="139.39" r="0.62" fill="#b0b0b0" stroke="#858585" stroke-width="0.32"/>
<circle cx="321.90" cy="136.30" r="0.62" fill="#b0b0b0" stroke="#858585" stroke-width="0.32"/>
<circle cx="320.27" cy="136.77" r="0.62" fill="#b0b0b0" stroke="#858585" stroke-width="0.32"/>
<circle cx="323.93" cy="117.67" r="0.62" fill="#b0b0b0" stroke="#858585" stroke-width="0.32"/>
<circle cx="322.42" cy="134.10" r="0.62" fill="#b0b0b0" stroke="#858585" stroke-width="0.32"/>
<circle cx="322.20" cy="135.98" r="0.62" fill="#b0b0b0" stroke="#858585" stroke-width="0.32"/>
<circle cx="334.39" cy="107.94" r="0.62" fill="#b0b0b0" stroke="#858585" stroke-width="0.32"/>
<circle cx="332.87" cy="106.12" r="0.62" fill="#b0b0b0" stroke="#858585" stroke-width="0.32"/>
<circle cx="318.88" cy="132.78" r="0.62" fill="#b0b0b0" stroke="#858585" stroke-width="0.32"/>
<circle cx="322.96" cy="134.58" r="0.62" fill="#b0b0b0" stroke="#858585" stroke-width="0.32"/>
<circle cx="324.45" cy="121.57" r="0.62" fill="#b0b0b0" stroke="#858585" stroke-width="0.32"/>
<circle cx="319.85" cy="139.47" r="0.62" fill="#b0b0b0" stroke="#858585" stroke-width="0.32"/>
<circle cx="330.83" cy="118.85" r="0.62" fill="#b0b0b0" stroke="#858585" stroke-width="0.32"/>
<circle cx="328.97" cy="114.40" r="0.62" fill="#b0b0b0" stroke="#858585" stroke-width="0.32"/>
<circle cx="321.02" cy="132.20" r="0.62" fill="#b0b0b0" stroke="#858585" stroke-width="0.32"/>
<circle cx="334.04" cy="112.59" r="0.62" fill="#b0b0b0" stroke="#858585" stroke-width="0.32"/>
<circle cx="320.58" cy="137.01" r="0.62" fill="#b0b0b0" stroke="#858585" stroke-width="0.32"/>
<circle cx="323.14" cy="123.45" r="0.62" fill="#b0b0b0" stroke="#858585" stroke-width="0.32"/>
<circle cx="320.71" cy="136.24" r="0.62" fill="#b0b0b0" stroke="#858585" stroke-width="0.32"/>
<circle cx="321.83" cy="132.09" r="0.62" fill="#b0b0b0" stroke="#858585" stroke-width="0.32"/>
<circle cx="323.62" cy="126.74" r="0.62" fill="#b0b0b0" stroke="#858585" stroke-width="0.32"/>
<circle cx="331.03" cy="107.97" r="0.62" fill="#b0b0b0" stroke="#858585" stroke-width="0.32"/>
<circle cx="321.55" cy="131.04" r="0.62" fill="#b0b0b0" stroke="#858585" stroke-width="0.32"/>
<circle cx="319.99" cy="138.61" r="0.62" fill="#b0b0b0" stroke="#858585" stroke-width="0.32"/>
<circle cx="319.31" cy="137.44" r="0.62" fill="#b0b0b0" stroke="#858585" stroke-width="0.32"/>
<circle cx="322.05" cy="126.47" r="0.62" fill="#b0b0b0" stroke="#858585" stroke-width="0.32"/>
<circle cx="321.25" cy="132.30" r="0.62" fill="#b0b0b0" stroke="#858585" stroke-width="0.32"/>
<circle cx="319.01" cy="134.27" r="0.62" fill="#b0b0b0" stroke="#858585" stroke-width="0.32"/>
<circle cx="325.42" cy="133.70" r="0.62" fill="#b0b0b0" stroke="#858585" stroke-width="0.32"/>
<circle cx="322.64" cy="128.16" r="0.62" fill="#b0b0b0" stroke="#858585" stroke-width="0.32"/>
<circle cx="322.83" cy="131.64" r="0.62" fill="#b0b0b0" stroke="#858585" stroke-width="0.32"/>
<circle cx="320.34" cy="136.80" r="0.62" fill="#b0b0b0" stroke="#858585" stroke-width="0.32"/>
<circle cx="323.22" cy="133.15" r="0.62" fill="#b0b0b0" stroke="#858585" stroke-width="0.32"/>
<circle cx="329.70" cy="108.72" r="0.62" fill="#b0b0b0" stroke="#858585" stroke-width="0.32"/>
<circle cx="328.43" cy="122.06" r="0.62" fill="#b0b0b0" stroke="#858585" stroke-width="0.32"/>
<circle cx="320.32" cy="131.72" r="0.62" fill="#b0b0b0" stroke="#858585" stroke-width="0.32"/>
<circle cx="319.84" cy="138.97" r="0.62" fill="#b0b0b0" stroke="#858585" stroke-width="0.32"/>
<circle cx="328.00" cy="121.47" r="0.62" fill="#b0b0b0" stroke="#858585" stroke-width="0.32"/>
<circle cx="330.18" cy="115.17" r="0.62" fill="#b0b0b0" stroke="#858585" stroke-width="0.32"/>
<circle cx="330.50" cy="105.97" r="0.62" fill="#b0b0b0" stroke="#858585" stroke-width="0.32"/>
<circle cx="322.10" cy="130.39" r="0.62" fill="#b0b0b0" stroke="#858585" stroke-width="0.32"/>
<circle cx="321.83" cy="134.98" r="0.62" fill="#b0b0b0" stroke="#858585" stroke-width="0.32"/>
<circle cx="320.11" cy="136.98" r="0.62" fill="#b0b0b0" stroke="#858585" stroke-width="0.32"/>
<circle cx="325.18" cy="120.49" r="0.62" fill="#b0b0b0" stroke="#858585" stroke-width="0.32"/>
<circle cx="322.70" cy="126.41" r="0.62" fill="#b0b0b0" stroke="#858585" stroke-width="0.32"/>
<circle cx="313.93" cy="107.20" r="0.62" fill="#b0b0b0" stroke="#858585" stroke-width="0.32"/>
<circle cx="329.00" cy="129.42" r="0.62" fill="#b0b0b0" stroke="#858585" stroke-width="0.32"/>
<circle cx="322.62" cy="126.89" r="0.62" fill="#b0b0b0" stroke="#858585" stroke-width="0.32"/>
<circle cx="343.72" cy="115.98" r="0.62" fill="#b0b0b0" stroke="#858585" stroke-width="0.32"/>
<circle cx="319.06" cy="134.19" r="0.62" fill="#b0b0b0" stroke="#858585" stroke-width="0.32"/>
<circle cx="327.00" cy="125.60" r="0.62" fill="#b0b0b0" stroke="#858585" stroke-width="0.32"/>
<circle cx="323.21" cy="119.54" r="0.62" fill="#b0b0b0" stroke="#858585" stroke-width="0.32"/>
<circle cx="321.48" cy="130.62" r="0.62" fill="#b0b0b0" stroke="#858585" stroke-width="0.32"/>
<circle cx="332.24" cy="132.17" r="0.62" fill="#b0b0b0" stroke="#858585" stroke-width="0.32"/>
<circle cx="337.31" cy="114.41" r="0.62" fill="#b0b0b0" stroke="#858585" stroke-width="0.32"/>
<circle cx="335.48" cy="129.46" r="0.62" fill="#b0b0b0" stroke="#858585" stroke-width="0.32"/>
<circle cx="321.47" cy="136.57" r="0.62" fill="#b0b0b0" stroke="#858585" stroke-width="0.32"/>
<circle cx="328.49" cy="112.46" r="0.62" fill="#b0b0b0" stroke="#858585" stroke-width="0.32"/>
<circle cx="325.38" cy="133.61" r="0.62" fill="#b0b0b0" stroke="#858585" stroke-width="0.32"/>
<circle cx="328.15" cy="128.67" r="0.62" fill="#b0b0b0" stroke="#858585" stroke-width="0.32"/>
<circle cx="322.24" cy="137.41" r="0.62" fill="#b0b0b0" stroke="#858585" stroke-width="0.32"/>
<circle cx="325.86" cy="132.15" r="0.62" fill="#b0b0b0" stroke="#858585" stroke-width="0.32"/>
<circle cx="339.37" cy="112.66" r="0.62" fill="#b0b0b0" stroke="#858585" stroke-width="0.32"/>
<circle cx="320.41" cy="129.82" r="0.62" fill="#b0b0b0" stroke="#858585" stroke-width="0.32"/>
<circle cx="338.64" cy="108.34" r="0.62" fill="#b0b0b0" stroke="#858585" stroke-width="0.32"/>
<circle cx="323.02" cy="136.70" r="0.62" fill="#b0b0b0" stroke="#858585" stroke-width="0.32"/>
<circle cx="357.17" cy="109.35" r="0.62" fill="#b0b0b0" stroke="#858585" stroke-width="0.32"/>
<circle cx="327.94" cy="108.39" r="0.62" fill="#b0b0b0" stroke="#858585" stroke-width="0.32"/>
<circle cx="322.57" cy="135.60" r="0.62" fill="#b0b0b0" stroke="#858585" stroke-width="0.32"/>
<circle cx="338.49" cy="109.31" r="0.62" fill="#b0b0b0" stroke="#858585" stroke-width="0.32"/>
<circle cx="323.55" cy="114.34" r="0.62" fill="#b0b0b0" stroke="#858585" stroke-width="0.32"/>
<circle cx="317.41" cy="133.56" r="0.62" fill="#b0b0b0" stroke="#858585" stroke-width="0.32"/>
<circle cx="321.01" cy="137.60" r="0.62" fill="#b0b0b0" stroke="#858585" stroke-width="0.32"/>
<circle cx="335.81" cy="121.28" r="0.62" fill="#b0b0b0" stroke="#858585" stroke-width="0.32"/>
<circle cx="351.87" cy="112.35" r="0.62" fill="#b0b0b0" stroke="#858585" stroke-width="0.32"/>
<circle cx="329.98" cy="120.25" r="0.62" fill="#b0b0b0" stroke="#858585" stroke-width="0.32"/>
<circle cx="328.72" cy="125.87" r="0.62" fill="#b0b0b0" stroke="#858585" stroke-width="0.32"/>
<circle cx="324.46" cy="130.49" r="0.62" fill="#b0b0b0" stroke="#858585" stroke-width="0.32"/>
<circle cx="339.91" cy="108.89" r="0.62" fill="#b0b0b0" stroke="#858585" stroke-width="0.32"/>
<circle cx="318.75" cy="124.85" r="0.62" fill="#b0b0b0" stroke="#858585" stroke-width="0.32"/>
<circle cx="329.67" cy="109.92" r="0.62" fill="#b0b0b0" stroke="#858585" stroke-width="0.32"/>
<circle cx="318.27" cy="123.84" r="0.62" fill="#b0b0b0" stroke="#858585" stroke-width="0.32"/>
<circle cx="323.81" cy="130.05" r="0.62" fill="#b0b0b0" stroke="#858585" stroke-width="0.32"/>
<circle cx="354.70" cy="109.75" r="0.62" fill="#b0b0b0" stroke="#858585" stroke-width="0.32"/>
<circle cx="330.50" cy="124.64" r="0.62" fill="#b0b0b0" stroke="#858585" stroke-width="0.32"/>
<circle cx="335.62" cy="121.09" r="0.62" fill="#b0b0b0" stroke="#858585" stroke-width="0.32"/>
<circle cx="326.45" cy="128.89" r="0.62" fill="#b0b0b0" stroke="#858585" stroke-width="0.32"/>
<circle cx="334.49" cy="114.00" r="0.62" fill="#b0b0b0" stroke="#858585" stroke-width="0.32"/>
<circle cx="323.81" cy="114.94" r="0.62" fill="#b0b0b0" stroke="#858585" stroke-width="0.32"/>
<circle cx="339.30" cy="118.95" r="0.62" fill="#b0b0b0" stroke="#858585" stroke-width="0.32"/>
<circle cx="321.52" cy="130.36" r="0.62" fill="#b0b0b0" stroke="#858585" stroke-width="0.32"/>
<circle cx="326.04" cy="132.78" r="0.62" fill="#b0b0b0" stroke="#858585" stroke-width="0.32"/>
<circle cx="321.60" cy="138.94" r="0.62" fill="#b0b0b0" stroke="#858585" stroke-width="0.32"/>
<circle cx="348.25" cy="106.48" r="0.62" fill="#b0b0b0" stroke="#858585" stroke-width="0.32"/>
<circle cx="324.51" cy="137.00" r="0.62" fill="#b0b0b0" stroke="#858585" stroke-width="0.32"/>
<circle cx="331.93" cy="106.89" r="0.62" fill="#b0b0b0" stroke="#858585" stroke-width="0.32"/>
<circle cx="334.15" cy="112.88" r="0.62" fill="#b0b0b0" stroke="#858585" stroke-width="0.32"/>
<circle cx="342.80" cy="111.47" r="0.62" fill="#b0b0b0" stroke="#858585" stroke-width="0.32"/>
<circle cx="326.12" cy="129.05" r="0.62" fill="#b0b0b0" stroke="#858585" stroke-width="0.32"/>
<circle cx="329.78" cy="119.60" r="0.62" fill="#b0b0b0" stroke="#858585" stroke-width="0.32"/>
<circle cx="342.25" cy="118.01" r="0.62" fill="#b0b0b0" stroke="#858585" stroke-width="0.32"/>
<circle cx="339.79" cy="115.98" r="0.62" fill="#b0b0b0" stroke="#858585" stroke-width="0.32"/>
<circle cx="319.50" cy="132.82" r="0.62" fill="#b0b0b0" stroke="#858585" stroke-width="0.32"/>
<circle cx="329.12" cy="115.81" r="0.62" fill="#b0b0b0" stroke="#858585" stroke-width="0.32"/>
<circle cx="321.38" cy="139.28" r="0.62" fill="#b0b0b0" stroke="#858585" stroke-width="0.32"/>
<circle cx="328.98" cy="121.10" r="0.62" fill="#b0b0b0" stroke="#858585" stroke-width="0.32"/>
<circle cx="330.05" cy="126.01" r="0.62" fill="#b0b0b0" stroke="#858585" stroke-width="0.32"/>
<circle cx="324.09" cy="128.63" r="0.62" fill="#b0b0b0" stroke="#858585" stroke-width="0.32"/>
<circle cx="335.89" cy="124.24" r="0.62" fill="#b0b0b0" stroke="#858585" stroke-width="0.32"/>
<circle cx="341.41" cy="124.57" r="0.62" fill="#b0b0b0" stroke="#858585" stroke-width="0.32"/>
<circle cx="324.13" cy="132.41" r="0.62" fill="#b0b0b0" stroke="#858585" stroke-width="0.32"/>
<circle cx="327.30" cy="110.96" r="0.62" fill="#b0b0b0" stroke="#858585" stroke-width="0.32"/>
<circle cx="324.95" cy="138.67" r="0.62" fill="#b0b0b0" stroke="#858585" stroke-width="0.32"/>
<circle cx="329.95" cy="131.81" r="0.62" fill="#b0b0b0" stroke="#858585" stroke-width="0.32"/>
<circle cx="327.95" cy="117.79" r="0.62" fill="#b0b0b0" stroke="#858585" stroke-width="0.32"/>
<circle cx="328.15" cy="135.17" r="0.62" fill="#b0b0b0" stroke="#858585" stroke-width="0.32"/>
<circle cx="324.45" cy="138.51" r="0.62" fill="#b0b0b0" stroke="#858585" stroke-width="0.32"/>
<circle cx="318.69" cy="135.95" r="0.62" fill="#b0b0b0" stroke="#858585" stroke-width="0.32"/>
<circle cx="337.83" cy="118.88" r="0.62" fill="#b0b0b0" stroke="#858585" stroke-width="0.32"/>
<circle cx="341.54" cy="105.47" r="0.62" fill="#b0b0b0" stroke="#858585" stroke-width="0.32"/>
<circle cx="326.55" cy="109.27" r="0.62" fill="#b0b0b0" stroke="#858585" stroke-width="0.32"/>
<circle cx="333.78" cy="131.85" r="0.62" fill="#b0b0b0" stroke="#858585" stroke-width="0.32"/>
<circle cx="344.45" cy="110.57" r="0.62" fill="#b0b0b0" stroke="#858585" stroke-width="0.32"/>
<circle cx="310.04" cy="121.20" r="0.62" fill="#b0b0b0" stroke="#858585" stroke-width="0.32"/>
<circle cx="315.14" cy="136.00" r="0.62" fill="#b0b0b0" stroke="#858585" stroke-width="0.32"/>
<circle cx="315.93" cy="138.90" r="0.62" fill="#b0b0b0" stroke="#858585" stroke-width="0.32"/>
<circle cx="297.62" cy="110.57" r="0.62" fill="#b0b0b0" stroke="#858585" stroke-width="0.32"/>
<circle cx="310.08" cy="108.81" r="0.62" fill="#b0b0b0" stroke="#858585" stroke-width="0.32"/>
<circle cx="311.63" cy="128.59" r="0.62" fill="#b0b0b0" stroke="#858585" stroke-width="0.32"/>
<circle cx="308.51" cy="116.18" r="0.62" fill="#b0b0b0" stroke="#858585" stroke-width="0.32"/>
<circle cx="318.54" cy="112.98" r="0.62" fill="#b0b0b0" stroke="#858585" stroke-width="0.32"/>
<circle cx="309.06" cy="120.47" r="0.62" fill="#b0b0b0" stroke="#858585" stroke-width="0.32"/>
<circle cx="312.12" cy="128.46" r="0.62" fill="#b0b0b0" stroke="#858585" stroke-width="0.32"/>
<circle cx="310.61" cy="129.29" r="0.62" fill="#b0b0b0" stroke="#858585" stroke-width="0.32"/>
<circle cx="310.92" cy="130.50" r="0.62" fill="#b0b0b0" stroke="#858585" stroke-width="0.32"/>
<circle cx="316.64" cy="136.99" r="0.62" fill="#b0b0b0" stroke="#858585" stroke-width="0.32"/>
<circle cx="303.36" cy="106.02" r="0.62" fill="#b0b0b0" stroke="#858585" stroke-width="0.32"/>
<circle cx="311.32" cy="120.21" r="0.62" fill="#b0b0b0" stroke="#858585" stroke-width="0.32"/>
<circle cx="312.90" cy="131.14" r="0.62" fill="#b0b0b0" stroke="#858585" stroke-width="0.32"/>
<circle cx="312.47" cy="136.44" r="0.62" fill="#b0b0b0" stroke="#858585" stroke-width="0.32"/>
<circle cx="309.57" cy="121.63" r="0.62" fill="#b0b0b0" stroke="#858585" stroke-width="0.32"/>
<circle cx="304.33" cy="121.63" r="0.62" fill="#b0b0b0" stroke="#858585" stroke-width="0.32"/>
<circle cx="314.65" cy="137.17" r="0.62" fill="#b0b0b0" stroke="#858585" stroke-width="0.32"/>
<circle cx="314.80" cy="133.20" r="0.62" fill="#b0b0b0" stroke="#858585" stroke-width="0.32"/>
<circle cx="315.58" cy="135.66" r="0.62" fill="#b0b0b0" stroke="#858585" stroke-width="0.32"/>
<circle cx="315.46" cy="118.21" r="0.62" fill="#b0b0b0" stroke="#858585" stroke-width="0.32"/>
<circle cx="315.74" cy="137.33" r="0.62" fill="#b0b0b0" stroke="#858585" stroke-width="0.32"/>
<circle cx="315.38" cy="138.60" r="0.62" fill="#b0b0b0" stroke="#858585" stroke-width="0.32"/>
<circle cx="308.78" cy="119.81" r="0.62" fill="#b0b0b0" stroke="#858585" stroke-width="0.32"/>
<circle cx="303.90" cy="125.35" r="0.62" fill="#b0b0b0" stroke="#858585" stroke-width="0.32"/>
<circle cx="304.05" cy="127.61" r="0.62" fill="#b0b0b0" stroke="#858585" stroke-width="0.32"/>
<circle cx="298.13" cy="109.94" r="0.62" fill="#b0b0b0" stroke="#858585" stroke-width="0.32"/>
<circle cx="307.50" cy="125.63" r="0.62" fill="#b0b0b0" stroke="#858585" stroke-width="0.32"/>
<circle cx="314.09" cy="135.30" r="0.62" fill="#b0b0b0" stroke="#858585" stroke-width="0.32"/>
<circle cx="317.35" cy="138.74" r="0.62" fill="#b0b0b0" stroke="#858585" stroke-width="0.32"/>
<circle cx="316.37" cy="137.26" r="0.62" fill="#b0b0b0" stroke="#858585" stroke-width="0.32"/>
<circle cx="287.68" cy="111.43" r="0.62" fill="#b0b0b0" stroke="#858585" stroke-width="0.32"/>
<circle cx="308.14" cy="120.81" r="0.62" fill="#b0b0b0" stroke="#858585" stroke-width="0.32"/>
<circle cx="302.44" cy="113.64" r="0.62" fill="#b0b0b0" stroke="#858585" stroke-width="0.32"/>
<circle cx="315.97" cy="137.98" r="0.62" fill="#b0b0b0" stroke="#858585" stroke-width="0.32"/>
<circle cx="296.48" cy="112.19" r="0.62" fill="#b0b0b0" stroke="#858585" stroke-width="0.32"/>
<circle cx="313.02" cy="136.83" r="0.62" fill="#b0b0b0" stroke="#858585" stroke-width="0.32"/>
<circle cx="316.43" cy="139.47" r="0.62" fill="#b0b0b0" stroke="#858585" stroke-width="0.32"/>
<circle cx="303.01" cy="118.05" r="0.62" fill="#b0b0b0" stroke="#858585" stroke-width="0.32"/>
<circle cx="314.48" cy="136.27" r="0.62" fill="#b0b0b0" stroke="#858585" stroke-width="0.32"/>
<circle cx="307.33" cy="129.59" r="0.62" fill="#b0b0b0" stroke="#858585" stroke-width="0.32"/>
<circle cx="312.89" cy="126.12" r="0.62" fill="#b0b0b0" stroke="#858585" stroke-width="0.32"/>
<circle cx="316.30" cy="138.61" r="0.62" fill="#b0b0b0" stroke="#858585" stroke-width="0.32"/>
<circle cx="300.20" cy="115.38" r="0.62" fill="#b0b0b0" stroke="#858585" stroke-width="0.32"/>
<circle cx="295.39" cy="109.61" r="0.62" fill="#b0b0b0" stroke="#858585" stroke-width="0.32"/>
<circle cx="298.83" cy="107.42" r="0.62" fill="#b0b0b0" stroke="#858585" stroke-width="0.32"/>
<circle cx="315.24" cy="137.50" r="0.62" fill="#b0b0b0" stroke="#858585" stroke-width="0.32"/>
<circle cx="299.40" cy="110.91" r="0.62" fill="#b0b0b0" stroke="#858585" stroke-width="0.32"/>
<circle cx="314.83" cy="134.90" r="0.62" fill="#b0b0b0" stroke="#858585" stroke-width="0.32"/>
<circle cx="309.36" cy="121.30" r="0.62" fill="#b0b0b0" stroke="#858585" stroke-width="0.32"/>
<circle cx="317.64" cy="137.13" r="0.62" fill="#b0b0b0" stroke="#858585" stroke-width="0.32"/>
<circle cx="307.44" cy="111.42" r="0.62" fill="#b0b0b0" stroke="#858585" stroke-width="0.32"/>
<circle cx="309.17" cy="129.68" r="0.62" fill="#b0b0b0" stroke="#858585" stroke-width="0.32"/>
<circle cx="300.71" cy="107.95" r="0.62" fill="#b0b0b0" stroke="#858585" stroke-width="0.32"/>
<circle cx="298.07" cy="109.71" r="0.62" fill="#b0b0b0" stroke="#858585" stroke-width="0.32"/>
<circle cx="314.53" cy="134.62" r="0.62" fill="#b0b0b0" stroke="#858585" stroke-width="0.32"/>
<circle cx="303.86" cy="119.70" r="0.62" fill="#b0b0b0" stroke="#858585" stroke-width="0.32"/>
<circle cx="307.27" cy="116.54" r="0.62" fill="#b0b0b0" stroke="#858585" stroke-width="0.32"/>
<circle cx="309.86" cy="128.27" r="0.62" fill="#b0b0b0" stroke="#858585" stroke-width="0.32"/>
<circle cx="317.15" cy="139.48" r="0.62" fill="#b0b0b0" stroke="#858585" stroke-width="0.32"/>
<circle cx="313.04" cy="135.77" r="0.62" fill="#b0b0b0" stroke="#858585" stroke-width="0.32"/>
<circle cx="305.94" cy="112.16" r="0.62" fill="#b0b0b0" stroke="#858585" stroke-width="0.32"/>
<circle cx="308.51" cy="109.59" r="0.62" fill="#b0b0b0" stroke="#858585" stroke-width="0.32"/>
<circle cx="303.41" cy="121.44" r="0.62" fill="#b0b0b0" stroke="#858585" stroke-width="0.32"/>
<circle cx="298.82" cy="119.87" r="0.62" fill="#b0b0b0" stroke="#858585" stroke-width="0.32"/>
<circle cx="314.59" cy="137.38" r="0.62" fill="#b0b0b0" stroke="#858585" stroke-width="0.32"/>
<circle cx="313.37" cy="129.36" r="0.62" fill="#b0b0b0" stroke="#858585" stroke-width="0.32"/>
<circle cx="311.66" cy="113.89" r="0.62" fill="#b0b0b0" stroke="#858585" stroke-width="0.32"/>
<circle cx="314.87" cy="133.55" r="0.62" fill="#b0b0b0" stroke="#858585" stroke-width="0.32"/>
<circle cx="315.56" cy="139.15" r="0.62" fill="#b0b0b0" stroke="#858585" stroke-width="0.32"/>
<circle cx="304.43" cy="111.66" r="0.62" fill="#b0b0b0" stroke="#858585" stroke-width="0.32"/>
<circle cx="312.16" cy="133.53" r="0.62" fill="#b0b0b0" stroke="#858585" stroke-width="0.32"/>
<circle cx="304.89" cy="118.94" r="0.62" fill="#b0b0b0" stroke="#858585" stroke-width="0.32"/>
<circle cx="316.39" cy="138.92" r="0.62" fill="#b0b0b0" stroke="#858585" stroke-width="0.32"/>
<circle cx="318.77" cy="137.88" r="0.62" fill="#b0b0b0" stroke="#858585" stroke-width="0.32"/>
<circle cx="318.97" cy="139.48" r="0.62" fill="#b0b0b0" stroke="#858585" stroke-width="0.32"/>
<circle cx="312.84" cy="128.78" r="0.62" fill="#b0b0b0" stroke="#858585" stroke-width="0.32"/>
<circle cx="312.02" cy="132.63" r="0.62" fill="#b0b0b0" stroke="#858585" stroke-width="0.32"/>
<circle cx="317.26" cy="138.29" r="0.62" fill="#b0b0b0" stroke="#858585" stroke-width="0.32"/>
<circle cx="316.55" cy="139.00" r="0.62" fill="#b0b0b0" stroke="#858585" stroke-width="0.32"/>
<circle cx="314.59" cy="137.81" r="0.62" fill="#b0b0b0" stroke="#858585" stroke-width="0.32"/>
<circle cx="303.93" cy="106.27" r="0.62" fill="#b0b0b0" stroke="#858585" stroke-width="0.32"/>
<circle cx="303.88" cy="114.46" r="0.62" fill="#b0b0b0" stroke="#858585" stroke-width="0.32"/>
<circle cx="317.28" cy="138.28" r="0.62" fill="#b0b0b0" stroke="#858585" stroke-width="0.32"/>
<circle cx="303.53" cy="106.21" r="0.62" fill="#b0b0b0" stroke="#858585" stroke-width="0.32"/>
<circle cx="317.92" cy="137.65" r="0.62" fill="#b0b0b0" stroke="#858585" stroke-width="0.32"/>
<circle cx="306.32" cy="115.48" r="0.62" fill="#b0b0b0" stroke="#858585" stroke-width="0.32"/>
<circle cx="315.52" cy="136.21" r="0.62" fill="#b0b0b0" stroke="#858585" stroke-width="0.32"/>
<circle cx="301.68" cy="107.04" r="0.62" fill="#b0b0b0" stroke="#858585" stroke-width="0.32"/>
<circle cx="317.05" cy="138.71" r="0.62" fill="#b0b0b0" stroke="#858585" stroke-width="0.32"/>
<circle cx="308.48" cy="117.33" r="0.62" fill="#b0b0b0" stroke="#858585" stroke-width="0.32"/>
<circle cx="315.16" cy="137.77" r="0.62" fill="#b0b0b0" stroke="#858585" stroke-width="0.32"/>
<circle cx="317.17" cy="136.94" r="0.62" fill="#b0b0b0" stroke="#858585" stroke-width="0.32"/>
<circle cx="315.66" cy="136.77" r="0.62" fill="#b0b0b0" stroke="#858585" stroke-width="0.32"/>
<circle cx="316.65" cy="137.51" r="0.62" fill="#b0b0b0" stroke="#858585" stroke-width="0.32"/>
<circle cx="316.72" cy="138.97" r="0.62" fill="#b0b0b0" stroke="#858585" stroke-width="0.32"/>
<circle cx="306.72" cy="128.39" r="0.62" fill="#b0b0b0" stroke="#858585" stroke-width="0.32"/>
<circle cx="302.16" cy="116.56" r="0.62" fill="#b0b0b0" stroke="#858585" stroke-width="0.32"/>
<circle cx="303.63" cy="119.30" r="0.62" fill="#b0b0b0" stroke="#858585" stroke-width="0.32"/>
<circle cx="312.57" cy="130.16" r="0.62" fill="#b0b0b0" stroke="#858585" stroke-width="0.32"/>
<circle cx="307.77" cy="130.39" r="0.62" fill="#b0b0b0" stroke="#858585" stroke-width="0.32"/>
<circle cx="316.22" cy="139.22" r="0.62" fill="#b0b0b0" stroke="#858585" stroke-width="0.32"/>
<circle cx="308.09" cy="106.26" r="0.62" fill="#b0b0b0" stroke="#858585" stroke-width="0.32"/>
<circle cx="319.35" cy="139.00" r="0.62" fill="#b0b0b0" stroke="#858585" stroke-width="0.32"/>
<circle cx="291.31" cy="110.70" r="0.62" fill="#b0b0b0" stroke="#858585" stroke-width="0.32"/>
<circle cx="310.41" cy="124.44" r="0.62" fill="#b0b0b0" stroke="#858585" stroke-width="0.32"/>
<circle cx="315.45" cy="121.70" r="0.62" fill="#b0b0b0" stroke="#858585" stroke-width="0.32"/>
<circle cx="308.24" cy="124.50" r="0.62" fill="#b0b0b0" stroke="#858585" stroke-width="0.32"/>
<circle cx="313.59" cy="125.69" r="0.62" fill="#b0b0b0" stroke="#858585" stroke-width="0.32"/>
<circle cx="306.00" cy="124.18" r="0.62" fill="#b0b0b0" stroke="#858585" stroke-width="0.32"/>
<circle cx="299.49" cy="108.41" r="0.62" fill="#b0b0b0" stroke="#858585" stroke-width="0.32"/>
<circle cx="309.97" cy="118.66" r="0.62" fill="#b0b0b0" stroke="#858585" stroke-width="0.32"/>
<circle cx="316.97" cy="135.65" r="0.62" fill="#b0b0b0" stroke="#858585" stroke-width="0.32"/>
<circle cx="305.05" cy="118.37" r="0.62" fill="#b0b0b0" stroke="#858585" stroke-width="0.32"/>
<circle cx="316.43" cy="138.83" r="0.62" fill="#b0b0b0" stroke="#858585" stroke-width="0.32"/>
<circle cx="306.20" cy="122.86" r="0.62" fill="#b0b0b0" stroke="#858585" stroke-width="0.32"/>
<circle cx="318.35" cy="137.10" r="0.62" fill="#b0b0b0" stroke="#858585" stroke-width="0.32"/>
<circle cx="313.95" cy="129.97" r="0.62" fill="#b0b0b0" stroke="#858585" stroke-width="0.32"/>
<circle cx="316.49" cy="135.90" r="0.62" fill="#b0b0b0" stroke="#858585" stroke-width="0.32"/>
<circle cx="313.39" cy="129.65" r="0.62" fill="#b0b0b0" stroke="#858585" stroke-width="0.32"/>
<circle cx="316.28" cy="136.93" r="0.62" fill="#b0b0b0" stroke="#858585" stroke-width="0.32"/>
<circle cx="304.87" cy="106.16" r="0.62" fill="#b0b0b0" stroke="#858585" stroke-width="0.32"/>
<circle cx="313.53" cy="127.57" r="0.62" fill="#b0b0b0" stroke="#858585" stroke-width="0.32"/>
<circle cx="313.36" cy="106.22" r="0.62" fill="#b0b0b0" stroke="#858585" stroke-width="0.32"/>
<circle cx="316.74" cy="139.39" r="0.62" fill="#b0b0b0" stroke="#858585" stroke-width="0.32"/>
<circle cx="301.43" cy="107.98" r="0.62" fill="#b0b0b0" stroke="#858585" stroke-width="0.32"/>
<circle cx="304.56" cy="115.61" r="0.62" fill="#b0b0b0" stroke="#858585" stroke-width="0.32"/>
<circle cx="303.88" cy="125.10" r="0.62" fill="#b0b0b0" stroke="#858585" stroke-width="0.32"/>
<circle cx="310.95" cy="127.26" r="0.62" fill="#b0b0b0" stroke="#858585" stroke-width="0.32"/>
<circle cx="307.62" cy="120.33" r="0.62" fill="#b0b0b0" stroke="#858585" stroke-width="0.32"/>
<circle cx="290.01" cy="119.00" r="0.62" fill="#b0b0b0" stroke="#858585" stroke-width="0.32"/>
<circle cx="300.28" cy="118.65" r="0.62" fill="#b0b0b0" stroke="#858585" stroke-width="0.32"/>
<circle cx="307.92" cy="112.79" r="0.62" fill="#b0b0b0" stroke="#858585" stroke-width="0.32"/>
<circle cx="314.21" cy="136.37" r="0.62" fill="#b0b0b0" stroke="#858585" stroke-width="0.32"/>
<circle cx="311.64" cy="135.02" r="0.62" fill="#b0b0b0" stroke="#858585" stroke-width="0.32"/>
<circle cx="297.66" cy="111.52" r="0.62" fill="#b0b0b0" stroke="#858585" stroke-width="0.32"/>
<circle cx="316.44" cy="136.92" r="0.62" fill="#b0b0b0" stroke="#858585" stroke-width="0.32"/>
<circle cx="313.67" cy="139.03" r="0.62" fill="#b0b0b0" stroke="#858585" stroke-width="0.32"/>
<circle cx="305.48" cy="127.43" r="0.62" fill="#b0b0b0" stroke="#858585" stroke-width="0.32"/>
<circle cx="315.57" cy="135.56" r="0.62" fill="#b0b0b0" stroke="#858585" stroke-width="0.32"/>
<circle cx="314.05" cy="138.42" r="0.62" fill="#b0b0b0" stroke="#858585" stroke-width="0.32"/>
<circle cx="302.68" cy="119.90" r="0.62" fill="#b0b0b0" stroke="#858585" stroke-width="0.32"/>
<circle cx="304.06" cy="121.01" r="0.62" fill="#b0b0b0" stroke="#858585" stroke-width="0.32"/>
<circle cx="291.67" cy="119.32" r="0.62" fill="#b0b0b0" stroke="#858585" stroke-width="0.32"/>
<circle cx="312.02" cy="134.68" r="0.62" fill="#b0b0b0" stroke="#858585" stroke-width="0.32"/>
<circle cx="305.20" cy="134.69" r="0.62" fill="#b0b0b0" stroke="#858585" stroke-width="0.32"/>
<circle cx="315.35" cy="126.07" r="0.62" fill="#b0b0b0" stroke="#858585" stroke-width="0.32"/>
<circle cx="292.14" cy="113.14" r="0.62" fill="#b0b0b0" stroke="#858585" stroke-width="0.32"/>
<circle cx="306.45" cy="116.55" r="0.62" fill="#b0b0b0" stroke="#858585" stroke-width="0.32"/>
<circle cx="316.42" cy="137.70" r="0.62" fill="#b0b0b0" stroke="#858585" stroke-width="0.32"/>
<circle cx="313.81" cy="123.20" r="0.62" fill="#b0b0b0" stroke="#858585" stroke-width="0.32"/>
<circle cx="305.52" cy="129.69" r="0.62" fill="#b0b0b0" stroke="#858585" stroke-width="0.32"/>
<circle cx="317.34" cy="136.96" r="0.62" fill="#b0b0b0" stroke="#858585" stroke-width="0.32"/>
<circle cx="298.68" cy="125.81" r="0.62" fill="#b0b0b0" stroke="#858585" stroke-width="0.32"/>
<circle cx="296.71" cy="119.94" r="0.62" fill="#b0b0b0" stroke="#858585" stroke-width="0.32"/>
<circle cx="310.17" cy="133.03" r="0.62" fill="#b0b0b0" stroke="#858585" stroke-width="0.32"/>
<circle cx="296.30" cy="126.21" r="0.62" fill="#b0b0b0" stroke="#858585" stroke-width="0.32"/>
<circle cx="302.84" cy="131.08" r="0.62" fill="#b0b0b0" stroke="#858585" stroke-width="0.32"/>
<circle cx="319.06" cy="139.49" r="0.62" fill="#b0b0b0" stroke="#858585" stroke-width="0.32"/>
<circle cx="321.59" cy="133.64" r="0.62" fill="#b0b0b0" stroke="#858585" stroke-width="0.32"/>
<circle cx="324.09" cy="131.75" r="0.62" fill="#b0b0b0" stroke="#858585" stroke-width="0.32"/>
<circle cx="322.04" cy="131.36" r="0.62" fill="#b0b0b0" stroke="#858585" stroke-width="0.32"/>
<circle cx="317.70" cy="134.60" r="0.62" fill="#b0b0b0" stroke="#858585" stroke-width="0.32"/>
<circle cx="317.32" cy="138.08" r="0.62" fill="#b0b0b0" stroke="#858585" stroke-width="0.32"/>
<circle cx="323.56" cy="139.40" r="0.62" fill="#b0b0b0" stroke="#858585" stroke-width="0.32"/>
<circle cx="317.73" cy="135.25" r="0.62" fill="#b0b0b0" stroke="#858585" stroke-width="0.32"/>
<circle cx="315.42" cy="133.77" r="0.62" fill="#b0b0b0" stroke="#858585" stroke-width="0.32"/>
<circle cx="319.40" cy="138.55" r="0.62" fill="#b0b0b0" stroke="#858585" stroke-width="0.32"/>
<circle cx="320.28" cy="132.32" r="0.62" fill="#b0b0b0" stroke="#858585" stroke-width="0.32"/>
<circle cx="321.62" cy="133.57" r="0.62" fill="#b0b0b0" stroke="#858585" stroke-width="0.32"/>
<circle cx="317.81" cy="131.43" r="0.62" fill="#b0b0b0" stroke="#858585" stroke-width="0.32"/>
<circle cx="317.94" cy="131.74" r="0.62" fill="#b0b0b0" stroke="#858585" stroke-width="0.32"/>
<circle cx="315.09" cy="135.94" r="0.62" fill="#b0b0b0" stroke="#858585" stroke-width="0.32"/>
<circle cx="317.29" cy="130.20" r="0.62" fill="#b0b0b0" stroke="#858585" stroke-width="0.32"/>
<circle cx="316.98" cy="138.51" r="0.62" fill="#b0b0b0" stroke="#858585" stroke-width="0.32"/>
<circle cx="319.45" cy="131.44" r="0.62" fill="#b0b0b0" stroke="#858585" stroke-width="0.32"/>
<circle cx="322.33" cy="135.72" r="0.62" fill="#b0b0b0" stroke="#858585" stroke-width="0.32"/>
<circle cx="316.71" cy="135.51" r="0.62" fill="#b0b0b0" stroke="#858585" stroke-width="0.32"/>
<circle cx="318.40" cy="132.24" r="0.62" fill="#b0b0b0" stroke="#858585" stroke-width="0.32"/>
<circle cx="317.85" cy="136.68" r="0.62" fill="#b0b0b0" stroke="#858585" stroke-width="0.32"/>
<circle cx="320.02" cy="138.21" r="0.62" fill="#b0b0b0" stroke="#858585" stroke-width="0.32"/>
<circle cx="316.89" cy="136.64" r="0.62" fill="#b0b0b0" stroke="#858585" stroke-width="0.32"/>
<circle cx="320.15" cy="132.67" r="0.62" fill="#b0b0b0" stroke="#858585" stroke-width="0.32"/>
<circle cx="318.78" cy="132.92" r="0.62" fill="#b0b0b0" stroke="#858585" stroke-width="0.32"/>
<circle cx="319.86" cy="137.33" r="0.62" fill="#b0b0b0" stroke="#858585" stroke-width="0.32"/>
<circle cx="315.22" cy="132.19" r="0.62" fill="#b0b0b0" stroke="#858585" stroke-width="0.32"/>
<circle cx="322.10" cy="133.95" r="0.62" fill="#b0b0b0" stroke="#858585" stroke-width="0.32"/>
<circle cx="322.01" cy="138.45" r="0.62" fill="#b0b0b0" stroke="#858585" stroke-width="0.32"/>
<circle cx="320.64" cy="133.98" r="0.62" fill="#b0b0b0" stroke="#858585" stroke-width="0.32"/>
<circle cx="318.43" cy="134.93" r="0.62" fill="#b0b0b0" stroke="#858585" stroke-width="0.32"/>
<circle cx="317.66" cy="133.07" r="0.62" fill="#b0b0b0" stroke="#858585" stroke-width="0.32"/>
<circle cx="317.28" cy="135.54" r="0.62" fill="#b0b0b0" stroke="#858585" stroke-width="0.32"/>
<circle cx="318.59" cy="130.97" r="0.62" fill="#b0b0b0" stroke="#858585" stroke-width="0.32"/>
<circle cx="317.50" cy="133.03" r="0.62" fill="#b0b0b0" stroke="#858585" stroke-width="0.32"/>
<circle cx="314.98" cy="131.39" r="0.62" fill="#b0b0b0" stroke="#858585" stroke-width="0.32"/>
<circle cx="315.99" cy="136.98" r="0.62" fill="#b0b0b0" stroke="#858585" stroke-width="0.32"/>
<circle cx="320.06" cy="136.74" r="0.62" fill="#b0b0b0" stroke="#858585" stroke-width="0.32"/>
<circle cx="317.57" cy="138.29" r="0.62" fill="#b0b0b0" stroke="#858585" stroke-width="0.32"/>
<circle cx="322.03" cy="138.09" r="0.62" fill="#b0b0b0" stroke="#858585" stroke-width="0.32"/>
<circle cx="316.01" cy="137.62" r="0.62" fill="#b0b0b0" stroke="#858585" stroke-width="0.32"/>
<circle cx="319.92" cy="132.44" r="0.62" fill="#b0b0b0" stroke="#858585" stroke-width="0.32"/>
<circle cx="321.91" cy="139.40" r="0.62" fill="#b0b0b0" stroke="#858585" stroke-width="0.32"/>
<circle cx="318.89" cy="134.01" r="0.62" fill="#b0b0b0" stroke="#858585" stroke-width="0.32"/>
<circle cx="316.17" cy="133.52" r="0.62" fill="#b0b0b0" stroke="#858585" stroke-width="0.32"/>
<circle cx="315.02" cy="138.38" r="0.62" fill="#b0b0b0" stroke="#858585" stroke-width="0.32"/>
<circle cx="319.94" cy="135.95" r="0.62" fill="#b0b0b0" stroke="#858585" stroke-width="0.32"/>
<circle cx="315.50" cy="132.42" r="0.62" fill="#b0b0b0" stroke="#858585" stroke-width="0.32"/>
<circle cx="316.46" cy="132.47" r="0.62" fill="#b0b0b0" stroke="#858585" stroke-width="0.32"/>
<circle cx="320.66" cy="136.60" r="0.62" fill="#b0b0b0" stroke="#858585" stroke-width="0.32"/>
<circle cx="315.06" cy="135.44" r="0.62" fill="#b0b0b0" stroke="#858585" stroke-width="0.32"/>
<circle cx="316.31" cy="132.66" r="0.62" fill="#b0b0b0" stroke="#858585" stroke-width="0.32"/>
<circle cx="320.43" cy="136.41" r="0.62" fill="#b0b0b0" stroke="#858585" stroke-width="0.32"/>
<circle cx="317.15" cy="135.11" r="0.62" fill="#b0b0b0" stroke="#858585" stroke-width="0.32"/>
<circle cx="323.42" cy="133.67" r="0.62" fill="#b0b0b0" stroke="#858585" stroke-width="0.32"/>
<circle cx="316.35" cy="133.66" r="0.62" fill="#b0b0b0" stroke="#858585" stroke-width="0.32"/>
<circle cx="318.52" cy="137.84" r="0.62" fill="#b0b0b0" stroke="#858585" stroke-width="0.32"/>
<circle cx="316.90" cy="133.34" r="0.62" fill="#b0b0b0" stroke="#858585" stroke-width="0.32"/>
<circle cx="319.59" cy="134.62" r="0.62" fill="#b0b0b0" stroke="#858585" stroke-width="0.32"/>
<circle cx="288.50" cy="105.50" r="0.62" fill="#b0b0b0" stroke="#858585" stroke-width="0.32"/>
<circle cx="297.00" cy="105.30" r="0.62" fill="#b0b0b0" stroke="#858585" stroke-width="0.32"/>
<circle cx="291.00" cy="114.00" r="0.62" fill="#b0b0b0" stroke="#858585" stroke-width="0.32"/>
<circle cx="370.00" cy="106.80" r="0.62" fill="#b0b0b0" stroke="#858585" stroke-width="0.32"/>
<circle cx="281.00" cy="113.00" r="0.62" fill="#b0b0b0" stroke="#858585" stroke-width="0.32"/>
<line x1="318.60" y1="12.60" x2="318.60" y2="139.50" stroke="#6a6a6a" stroke-width="0.8" />
<circle cx="328.30" cy="17.00" r="1.0" fill="#ff6a10"/>
<circle cx="340.50" cy="19.20" r="1.0" fill="#ff6a10"/>
<circle cx="335.00" cy="44.40" r="1.0" fill="#ff6a10"/>
<circle cx="343.70" cy="43.20" r="1.0" fill="#ff6a10"/>
<circle cx="333.10" cy="64.80" r="1.0" fill="#ff6a10"/>
<circle cx="331.10" cy="66.30" r="1.0" fill="#ff6a10"/>
<circle cx="329.10" cy="70.30" r="1.0" fill="#ff6a10"/>
<circle cx="334.00" cy="70.50" r="1.0" fill="#ff6a10"/>
<circle cx="343.70" cy="75.00" r="1.0" fill="#ff6a10"/>
<circle cx="340.80" cy="76.70" r="1.0" fill="#ff6a10"/>
<circle cx="325.70" cy="81.50" r="1.0" fill="#ff6a10"/>
<circle cx="331.10" cy="81.00" r="1.0" fill="#ff6a10"/>
<circle cx="333.80" cy="81.20" r="1.0" fill="#ff6a10"/>
<circle cx="337.00" cy="82.70" r="1.0" fill="#ff6a10"/>
<circle cx="328.10" cy="83.90" r="1.0" fill="#ff6a10"/>
<circle cx="330.80" cy="84.60" r="1.0" fill="#ff6a10"/>
<circle cx="330.80" cy="87.80" r="1.0" fill="#ff6a10"/>
<circle cx="330.30" cy="89.40" r="1.0" fill="#ff6a10"/>
<circle cx="328.90" cy="91.10" r="1.0" fill="#ff6a10"/>
<circle cx="335.60" cy="91.60" r="1.0" fill="#ff6a10"/>
<circle cx="337.00" cy="90.60" r="1.0" fill="#ff6a10"/>
<circle cx="338.20" cy="91.30" r="1.0" fill="#ff6a10"/>
<circle cx="343.40" cy="90.30" r="1.0" fill="#ff6a10"/>
<circle cx="326.90" cy="94.50" r="1.0" fill="#ff6a10"/>
<circle cx="336.60" cy="99.50" r="1.0" fill="#ff6a10"/>
<circle cx="345.90" cy="98.70" r="1.0" fill="#ff6a10"/>
<circle cx="326.60" cy="94.20" r="1.0" fill="#ff6a10"/>
<circle cx="326.90" cy="100.00" r="1.0" fill="#ff6a10"/>
<circle cx="327.80" cy="101.70" r="1.0" fill="#ff6a10"/>
<circle cx="328.60" cy="103.10" r="1.0" fill="#ff6a10"/>
<circle cx="329.40" cy="104.30" r="1.0" fill="#ff6a10"/>
<circle cx="330.30" cy="101.70" r="1.0" fill="#ff6a10"/>
<circle cx="332.00" cy="101.70" r="1.0" fill="#ff6a10"/>
<circle cx="336.10" cy="100.00" r="1.0" fill="#ff6a10"/>
<circle cx="338.70" cy="102.60" r="1.0" fill="#ff6a10"/>
<circle cx="342.90" cy="103.40" r="1.0" fill="#ff6a10"/>
<circle cx="345.90" cy="98.40" r="1.0" fill="#ff6a10"/>
<circle cx="337.00" cy="91.30" r="1.0" fill="#ff6a10"/>
<circle cx="330.00" cy="90.80" r="1.0" fill="#ff6a10"/>
<circle cx="343.70" cy="90.30" r="1.0" fill="#ff6a10"/>
<circle cx="309.60" cy="104.80" r="1.0" fill="#ff6a10"/>
<circle cx="327.50" cy="102.50" r="1.0" fill="#ff6a10"/>
<circle cx="329.00" cy="100.80" r="1.0" fill="#ff6a10"/>
<line x1="261.30" y1="12.60" x2="261.30" y2="140.10" stroke="#1a1a1a" stroke-width="1.35" />
<line x1="260.80" y1="139.50" x2="376.20" y2="139.50" stroke="#111" stroke-width="1.2" />
<line x1="259.60" y1="139.50" x2="261.30" y2="139.50" stroke="#222" stroke-width="0.75" />
<text x="259.40" y="141.80" font-size="4.5" text-anchor="end" font-weight="bold" fill="#333" stroke="#333" stroke-width="0.16" >0</text>
<line x1="259.60" y1="99.85" x2="261.30" y2="99.85" stroke="#222" stroke-width="0.75" />
<text x="259.40" y="102.15" font-size="4.5" text-anchor="end" font-weight="bold" fill="#333" stroke="#333" stroke-width="0.16" >5</text>
<line x1="259.60" y1="60.20" x2="261.30" y2="60.20" stroke="#222" stroke-width="0.75" />
<text x="259.40" y="62.50" font-size="4.5" text-anchor="end" font-weight="bold" fill="#333" stroke="#333" stroke-width="0.16" >10</text>
<line x1="259.60" y1="20.55" x2="261.30" y2="20.55" stroke="#222" stroke-width="0.75" />
<text x="259.40" y="22.85" font-size="4.5" text-anchor="end" font-weight="bold" fill="#333" stroke="#333" stroke-width="0.16" >15</text>
<line x1="261.30" y1="139.50" x2="261.30" y2="141.50" stroke="#222" stroke-width="0.9" />
<text x="261.30" y="146.20" font-size="4.5" text-anchor="middle" font-weight="bold" fill="#222" stroke="#222" stroke-width="0.15" >-2</text>
<line x1="289.95" y1="139.50" x2="289.95" y2="141.50" stroke="#222" stroke-width="0.9" />
<text x="289.95" y="146.20" font-size="4.5" text-anchor="middle" font-weight="bold" fill="#222" stroke="#222" stroke-width="0.15" >-1</text>
<line x1="318.60" y1="139.50" x2="318.60" y2="141.50" stroke="#222" stroke-width="0.9" />
<text x="318.60" y="146.20" font-size="4.5" text-anchor="middle" font-weight="bold" fill="#222" stroke="#222" stroke-width="0.15" >0</text>
<line x1="347.25" y1="139.50" x2="347.25" y2="141.50" stroke="#222" stroke-width="0.9" />
<text x="347.25" y="146.20" font-size="4.5" text-anchor="middle" font-weight="bold" fill="#222" stroke="#222" stroke-width="0.15" >1</text>
<line x1="375.90" y1="139.50" x2="375.90" y2="141.50" stroke="#222" stroke-width="0.9" />
<text x="375.90" y="146.20" font-size="4.5" text-anchor="middle" font-weight="bold" fill="#222" stroke="#222" stroke-width="0.15" >2</text>
<text x="318.60" y="153.10" font-size="4.6" text-anchor="middle" font-weight="normal" fill="#111" stroke="#111" stroke-width="0.3" >Avg Log2 FC</text>
<text transform="translate(251.70,75.3) rotate(-90)" font-size="4.6" text-anchor="middle" font-weight="normal" fill="#111" stroke="#111" stroke-width="0.28">-Log (FDR)</text>
<text x="308.20" y="37.80" font-size="4.45" text-anchor="end" font-weight="bold" fill="#fba54e" stroke="#fba54e" stroke-width="0.16" >Down with RT</text>
<line x1="285.30" y1="39.40" x2="308.20" y2="39.40" stroke="#fba54e" stroke-width="0.55" />
<path d="M283.80,39.4 l2.4,-1.2 l0,2.4 z" fill="#fba54e"/>
<text x="330.00" y="37.80" font-size="4.45" text-anchor="start" font-weight="bold" fill="#ff6a10" stroke="#ff6a10" stroke-width="0.16" >Up with RT</text>
<line x1="330.00" y1="39.40" x2="353.10" y2="39.40" stroke="#ff6a10" stroke-width="0.55" />
<path d="M354.60,39.4 l-2.4,-1.2 l0,2.4 z" fill="#ff6a10"/>
<text x="387.60" y="11.40" font-size="15.3" text-anchor="start" font-weight="bold" fill="#000" >D</text>
<line x1="450.94" y1="12.60" x2="450.94" y2="139.50" stroke="#d4d4d4" stroke-width="0.7" />
<line x1="465.26" y1="12.60" x2="465.26" y2="139.50" stroke="#d4d4d4" stroke-width="0.7" />
<line x1="400.80" y1="105.30" x2="515.40" y2="105.30" stroke="#c8c8c8" stroke-width="0.5" />
<circle cx="460.57" cy="135.01" r="0.62" fill="#b0b0b0" stroke="#858585" stroke-width="0.32"/>
<circle cx="464.53" cy="112.81" r="0.62" fill="#b0b0b0" stroke="#858585" stroke-width="0.32"/>
<circle cx="460.80" cy="136.77" r="0.62" fill="#b0b0b0" stroke="#858585" stroke-width="0.32"/>
<circle cx="461.89" cy="135.86" r="0.62" fill="#b0b0b0" stroke="#858585" stroke-width="0.32"/>
<circle cx="472.16" cy="118.06" r="0.62" fill="#b0b0b0" stroke="#858585" stroke-width="0.32"/>
<circle cx="462.21" cy="136.13" r="0.62" fill="#b0b0b0" stroke="#858585" stroke-width="0.32"/>
<circle cx="459.04" cy="134.05" r="0.62" fill="#b0b0b0" stroke="#858585" stroke-width="0.32"/>
<circle cx="469.09" cy="123.32" r="0.62" fill="#b0b0b0" stroke="#858585" stroke-width="0.32"/>
<circle cx="459.48" cy="139.44" r="0.62" fill="#b0b0b0" stroke="#858585" stroke-width="0.32"/>
<circle cx="474.26" cy="111.77" r="0.62" fill="#b0b0b0" stroke="#858585" stroke-width="0.32"/>
<circle cx="473.18" cy="114.65" r="0.62" fill="#b0b0b0" stroke="#858585" stroke-width="0.32"/>
<circle cx="461.96" cy="117.58" r="0.62" fill="#b0b0b0" stroke="#858585" stroke-width="0.32"/>
<circle cx="474.34" cy="107.96" r="0.62" fill="#b0b0b0" stroke="#858585" stroke-width="0.32"/>
<circle cx="467.62" cy="112.78" r="0.62" fill="#b0b0b0" stroke="#858585" stroke-width="0.32"/>
<circle cx="464.66" cy="127.92" r="0.62" fill="#b0b0b0" stroke="#858585" stroke-width="0.32"/>
<circle cx="460.80" cy="129.90" r="0.62" fill="#b0b0b0" stroke="#858585" stroke-width="0.32"/>
<circle cx="461.26" cy="132.01" r="0.62" fill="#b0b0b0" stroke="#858585" stroke-width="0.32"/>
<circle cx="460.52" cy="138.13" r="0.62" fill="#b0b0b0" stroke="#858585" stroke-width="0.32"/>
<circle cx="474.43" cy="114.20" r="0.62" fill="#b0b0b0" stroke="#858585" stroke-width="0.32"/>
<circle cx="457.76" cy="119.92" r="0.62" fill="#b0b0b0" stroke="#858585" stroke-width="0.32"/>
<circle cx="465.62" cy="125.43" r="0.62" fill="#b0b0b0" stroke="#858585" stroke-width="0.32"/>
<circle cx="465.82" cy="120.51" r="0.62" fill="#b0b0b0" stroke="#858585" stroke-width="0.32"/>
<circle cx="464.59" cy="129.43" r="0.62" fill="#b0b0b0" stroke="#858585" stroke-width="0.32"/>
<circle cx="466.76" cy="126.61" r="0.62" fill="#b0b0b0" stroke="#858585" stroke-width="0.32"/>
<circle cx="459.45" cy="135.15" r="0.62" fill="#b0b0b0" stroke="#858585" stroke-width="0.32"/>
<circle cx="463.93" cy="131.01" r="0.62" fill="#b0b0b0" stroke="#858585" stroke-width="0.32"/>
<circle cx="459.43" cy="137.89" r="0.62" fill="#b0b0b0" stroke="#858585" stroke-width="0.32"/>
<circle cx="461.28" cy="135.60" r="0.62" fill="#b0b0b0" stroke="#858585" stroke-width="0.32"/>
<circle cx="460.47" cy="136.58" r="0.62" fill="#b0b0b0" stroke="#858585" stroke-width="0.32"/>
<circle cx="468.30" cy="121.58" r="0.62" fill="#b0b0b0" stroke="#858585" stroke-width="0.32"/>
<circle cx="466.62" cy="107.74" r="0.62" fill="#b0b0b0" stroke="#858585" stroke-width="0.32"/>
<circle cx="478.25" cy="108.77" r="0.62" fill="#b0b0b0" stroke="#858585" stroke-width="0.32"/>
<circle cx="460.69" cy="139.19" r="0.62" fill="#b0b0b0" stroke="#858585" stroke-width="0.32"/>
<circle cx="477.41" cy="113.34" r="0.62" fill="#b0b0b0" stroke="#858585" stroke-width="0.32"/>
<circle cx="468.96" cy="122.08" r="0.62" fill="#b0b0b0" stroke="#858585" stroke-width="0.32"/>
<circle cx="475.72" cy="111.91" r="0.62" fill="#b0b0b0" stroke="#858585" stroke-width="0.32"/>
<circle cx="472.96" cy="111.05" r="0.62" fill="#b0b0b0" stroke="#858585" stroke-width="0.32"/>
<circle cx="468.17" cy="112.61" r="0.62" fill="#b0b0b0" stroke="#858585" stroke-width="0.32"/>
<circle cx="462.70" cy="131.68" r="0.62" fill="#b0b0b0" stroke="#858585" stroke-width="0.32"/>
<circle cx="470.72" cy="106.86" r="0.62" fill="#b0b0b0" stroke="#858585" stroke-width="0.32"/>
<circle cx="466.09" cy="123.51" r="0.62" fill="#b0b0b0" stroke="#858585" stroke-width="0.32"/>
<circle cx="464.49" cy="122.96" r="0.62" fill="#b0b0b0" stroke="#858585" stroke-width="0.32"/>
<circle cx="463.67" cy="124.40" r="0.62" fill="#b0b0b0" stroke="#858585" stroke-width="0.32"/>
<circle cx="466.70" cy="118.33" r="0.62" fill="#b0b0b0" stroke="#858585" stroke-width="0.32"/>
<circle cx="462.17" cy="132.70" r="0.62" fill="#b0b0b0" stroke="#858585" stroke-width="0.32"/>
<circle cx="469.99" cy="120.21" r="0.62" fill="#b0b0b0" stroke="#858585" stroke-width="0.32"/>
<circle cx="460.15" cy="138.22" r="0.62" fill="#b0b0b0" stroke="#858585" stroke-width="0.32"/>
<circle cx="468.44" cy="121.90" r="0.62" fill="#b0b0b0" stroke="#858585" stroke-width="0.32"/>
<circle cx="464.88" cy="125.36" r="0.62" fill="#b0b0b0" stroke="#858585" stroke-width="0.32"/>
<circle cx="463.67" cy="129.56" r="0.62" fill="#b0b0b0" stroke="#858585" stroke-width="0.32"/>
<circle cx="462.62" cy="132.65" r="0.62" fill="#b0b0b0" stroke="#858585" stroke-width="0.32"/>
<circle cx="474.51" cy="105.51" r="0.62" fill="#b0b0b0" stroke="#858585" stroke-width="0.32"/>
<circle cx="459.89" cy="138.06" r="0.62" fill="#b0b0b0" stroke="#858585" stroke-width="0.32"/>
<circle cx="468.71" cy="123.76" r="0.62" fill="#b0b0b0" stroke="#858585" stroke-width="0.32"/>
<circle cx="458.94" cy="138.77" r="0.62" fill="#b0b0b0" stroke="#858585" stroke-width="0.32"/>
<circle cx="471.63" cy="113.51" r="0.62" fill="#b0b0b0" stroke="#858585" stroke-width="0.32"/>
<circle cx="459.03" cy="139.49" r="0.62" fill="#b0b0b0" stroke="#858585" stroke-width="0.32"/>
<circle cx="479.27" cy="106.93" r="0.62" fill="#b0b0b0" stroke="#858585" stroke-width="0.32"/>
<circle cx="461.07" cy="126.84" r="0.62" fill="#b0b0b0" stroke="#858585" stroke-width="0.32"/>
<circle cx="462.32" cy="133.99" r="0.62" fill="#b0b0b0" stroke="#858585" stroke-width="0.32"/>
<circle cx="457.67" cy="139.31" r="0.62" fill="#b0b0b0" stroke="#858585" stroke-width="0.32"/>
<circle cx="468.84" cy="117.87" r="0.62" fill="#b0b0b0" stroke="#858585" stroke-width="0.32"/>
<circle cx="460.29" cy="135.02" r="0.62" fill="#b0b0b0" stroke="#858585" stroke-width="0.32"/>
<circle cx="458.79" cy="135.02" r="0.62" fill="#b0b0b0" stroke="#858585" stroke-width="0.32"/>
<circle cx="464.78" cy="124.12" r="0.62" fill="#b0b0b0" stroke="#858585" stroke-width="0.32"/>
<circle cx="462.76" cy="134.25" r="0.62" fill="#b0b0b0" stroke="#858585" stroke-width="0.32"/>
<circle cx="460.68" cy="136.36" r="0.62" fill="#b0b0b0" stroke="#858585" stroke-width="0.32"/>
<circle cx="463.71" cy="130.95" r="0.62" fill="#b0b0b0" stroke="#858585" stroke-width="0.32"/>
<circle cx="459.98" cy="138.63" r="0.62" fill="#b0b0b0" stroke="#858585" stroke-width="0.32"/>
<circle cx="458.37" cy="139.49" r="0.62" fill="#b0b0b0" stroke="#858585" stroke-width="0.32"/>
<circle cx="471.36" cy="116.29" r="0.62" fill="#b0b0b0" stroke="#858585" stroke-width="0.32"/>
<circle cx="468.72" cy="125.42" r="0.62" fill="#b0b0b0" stroke="#858585" stroke-width="0.32"/>
<circle cx="461.90" cy="132.95" r="0.62" fill="#b0b0b0" stroke="#858585" stroke-width="0.32"/>
<circle cx="461.43" cy="137.77" r="0.62" fill="#b0b0b0" stroke="#858585" stroke-width="0.32"/>
<circle cx="478.23" cy="112.14" r="0.62" fill="#b0b0b0" stroke="#858585" stroke-width="0.32"/>
<circle cx="462.68" cy="136.02" r="0.62" fill="#b0b0b0" stroke="#858585" stroke-width="0.32"/>
<circle cx="461.67" cy="133.80" r="0.62" fill="#b0b0b0" stroke="#858585" stroke-width="0.32"/>
<circle cx="460.39" cy="137.93" r="0.62" fill="#b0b0b0" stroke="#858585" stroke-width="0.32"/>
<circle cx="459.06" cy="132.10" r="0.62" fill="#b0b0b0" stroke="#858585" stroke-width="0.32"/>
<circle cx="478.26" cy="105.92" r="0.62" fill="#b0b0b0" stroke="#858585" stroke-width="0.32"/>
<circle cx="459.20" cy="139.19" r="0.62" fill="#b0b0b0" stroke="#858585" stroke-width="0.32"/>
<circle cx="469.68" cy="114.93" r="0.62" fill="#b0b0b0" stroke="#858585" stroke-width="0.32"/>
<circle cx="463.97" cy="133.25" r="0.62" fill="#b0b0b0" stroke="#858585" stroke-width="0.32"/>
<circle cx="459.35" cy="137.98" r="0.62" fill="#b0b0b0" stroke="#858585" stroke-width="0.32"/>
<circle cx="459.56" cy="139.49" r="0.62" fill="#b0b0b0" stroke="#858585" stroke-width="0.32"/>
<circle cx="462.69" cy="137.52" r="0.62" fill="#b0b0b0" stroke="#858585" stroke-width="0.32"/>
<circle cx="462.85" cy="128.20" r="0.62" fill="#b0b0b0" stroke="#858585" stroke-width="0.32"/>
<circle cx="473.07" cy="115.02" r="0.62" fill="#b0b0b0" stroke="#858585" stroke-width="0.32"/>
<circle cx="460.60" cy="136.13" r="0.62" fill="#b0b0b0" stroke="#858585" stroke-width="0.32"/>
<circle cx="465.18" cy="108.65" r="0.62" fill="#b0b0b0" stroke="#858585" stroke-width="0.32"/>
<circle cx="467.63" cy="126.72" r="0.62" fill="#b0b0b0" stroke="#858585" stroke-width="0.32"/>
<circle cx="464.40" cy="124.70" r="0.62" fill="#b0b0b0" stroke="#858585" stroke-width="0.32"/>
<circle cx="470.49" cy="122.83" r="0.62" fill="#b0b0b0" stroke="#858585" stroke-width="0.32"/>
<circle cx="458.21" cy="138.16" r="0.62" fill="#b0b0b0" stroke="#858585" stroke-width="0.32"/>
<circle cx="458.30" cy="137.77" r="0.62" fill="#b0b0b0" stroke="#858585" stroke-width="0.32"/>
<circle cx="464.22" cy="126.21" r="0.62" fill="#b0b0b0" stroke="#858585" stroke-width="0.32"/>
<circle cx="463.32" cy="133.91" r="0.62" fill="#b0b0b0" stroke="#858585" stroke-width="0.32"/>
<circle cx="459.71" cy="138.63" r="0.62" fill="#b0b0b0" stroke="#858585" stroke-width="0.32"/>
<circle cx="461.16" cy="139.09" r="0.62" fill="#b0b0b0" stroke="#858585" stroke-width="0.32"/>
<circle cx="460.37" cy="138.30" r="0.62" fill="#b0b0b0" stroke="#858585" stroke-width="0.32"/>
<circle cx="478.69" cy="118.83" r="0.62" fill="#b0b0b0" stroke="#858585" stroke-width="0.32"/>
<circle cx="457.14" cy="114.68" r="0.62" fill="#b0b0b0" stroke="#858585" stroke-width="0.32"/>
<circle cx="460.59" cy="130.07" r="0.62" fill="#b0b0b0" stroke="#858585" stroke-width="0.32"/>
<circle cx="463.44" cy="118.84" r="0.62" fill="#b0b0b0" stroke="#858585" stroke-width="0.32"/>
<circle cx="461.91" cy="134.16" r="0.62" fill="#b0b0b0" stroke="#858585" stroke-width="0.32"/>
<circle cx="461.25" cy="133.66" r="0.62" fill="#b0b0b0" stroke="#858585" stroke-width="0.32"/>
<circle cx="469.76" cy="105.60" r="0.62" fill="#b0b0b0" stroke="#858585" stroke-width="0.32"/>
<circle cx="470.42" cy="115.79" r="0.62" fill="#b0b0b0" stroke="#858585" stroke-width="0.32"/>
<circle cx="464.57" cy="129.20" r="0.62" fill="#b0b0b0" stroke="#858585" stroke-width="0.32"/>
<circle cx="461.49" cy="135.00" r="0.62" fill="#b0b0b0" stroke="#858585" stroke-width="0.32"/>
<circle cx="463.61" cy="132.98" r="0.62" fill="#b0b0b0" stroke="#858585" stroke-width="0.32"/>
<circle cx="469.75" cy="112.77" r="0.62" fill="#b0b0b0" stroke="#858585" stroke-width="0.32"/>
<circle cx="458.22" cy="112.61" r="0.62" fill="#b0b0b0" stroke="#858585" stroke-width="0.32"/>
<circle cx="475.94" cy="116.83" r="0.62" fill="#b0b0b0" stroke="#858585" stroke-width="0.32"/>
<circle cx="464.31" cy="128.02" r="0.62" fill="#b0b0b0" stroke="#858585" stroke-width="0.32"/>
<circle cx="477.83" cy="110.29" r="0.62" fill="#b0b0b0" stroke="#858585" stroke-width="0.32"/>
<circle cx="466.28" cy="126.09" r="0.62" fill="#b0b0b0" stroke="#858585" stroke-width="0.32"/>
<circle cx="466.65" cy="128.30" r="0.62" fill="#b0b0b0" stroke="#858585" stroke-width="0.32"/>
<circle cx="460.46" cy="136.66" r="0.62" fill="#b0b0b0" stroke="#858585" stroke-width="0.32"/>
<circle cx="470.01" cy="114.12" r="0.62" fill="#b0b0b0" stroke="#858585" stroke-width="0.32"/>
<circle cx="461.96" cy="136.92" r="0.62" fill="#b0b0b0" stroke="#858585" stroke-width="0.32"/>
<circle cx="463.41" cy="133.69" r="0.62" fill="#b0b0b0" stroke="#858585" stroke-width="0.32"/>
<circle cx="465.82" cy="111.10" r="0.62" fill="#b0b0b0" stroke="#858585" stroke-width="0.32"/>
<circle cx="470.91" cy="113.50" r="0.62" fill="#b0b0b0" stroke="#858585" stroke-width="0.32"/>
<circle cx="460.94" cy="136.12" r="0.62" fill="#b0b0b0" stroke="#858585" stroke-width="0.32"/>
<circle cx="460.44" cy="129.94" r="0.62" fill="#b0b0b0" stroke="#858585" stroke-width="0.32"/>
<circle cx="484.25" cy="107.46" r="0.62" fill="#b0b0b0" stroke="#858585" stroke-width="0.32"/>
<circle cx="460.65" cy="137.65" r="0.62" fill="#b0b0b0" stroke="#858585" stroke-width="0.32"/>
<circle cx="471.79" cy="113.26" r="0.62" fill="#b0b0b0" stroke="#858585" stroke-width="0.32"/>
<circle cx="465.48" cy="127.42" r="0.62" fill="#b0b0b0" stroke="#858585" stroke-width="0.32"/>
<circle cx="472.42" cy="109.12" r="0.62" fill="#b0b0b0" stroke="#858585" stroke-width="0.32"/>
<circle cx="470.23" cy="123.33" r="0.62" fill="#b0b0b0" stroke="#858585" stroke-width="0.32"/>
<circle cx="461.11" cy="135.40" r="0.62" fill="#b0b0b0" stroke="#858585" stroke-width="0.32"/>
<circle cx="463.92" cy="129.23" r="0.62" fill="#b0b0b0" stroke="#858585" stroke-width="0.32"/>
<circle cx="467.76" cy="116.92" r="0.62" fill="#b0b0b0" stroke="#858585" stroke-width="0.32"/>
<circle cx="460.25" cy="139.11" r="0.62" fill="#b0b0b0" stroke="#858585" stroke-width="0.32"/>
<circle cx="460.75" cy="119.50" r="0.62" fill="#b0b0b0" stroke="#858585" stroke-width="0.32"/>
<circle cx="472.87" cy="117.77" r="0.62" fill="#b0b0b0" stroke="#858585" stroke-width="0.32"/>
<circle cx="462.02" cy="138.42" r="0.62" fill="#b0b0b0" stroke="#858585" stroke-width="0.32"/>
<circle cx="465.09" cy="114.32" r="0.62" fill="#b0b0b0" stroke="#858585" stroke-width="0.32"/>
<circle cx="467.67" cy="113.66" r="0.62" fill="#b0b0b0" stroke="#858585" stroke-width="0.32"/>
<circle cx="462.44" cy="120.92" r="0.62" fill="#b0b0b0" stroke="#858585" stroke-width="0.32"/>
<circle cx="466.17" cy="124.02" r="0.62" fill="#b0b0b0" stroke="#858585" stroke-width="0.32"/>
<circle cx="470.77" cy="118.40" r="0.62" fill="#b0b0b0" stroke="#858585" stroke-width="0.32"/>
<circle cx="470.55" cy="123.79" r="0.62" fill="#b0b0b0" stroke="#858585" stroke-width="0.32"/>
<circle cx="468.17" cy="123.25" r="0.62" fill="#b0b0b0" stroke="#858585" stroke-width="0.32"/>
<circle cx="465.79" cy="127.02" r="0.62" fill="#b0b0b0" stroke="#858585" stroke-width="0.32"/>
<circle cx="458.93" cy="131.48" r="0.62" fill="#b0b0b0" stroke="#858585" stroke-width="0.32"/>
<circle cx="464.56" cy="114.42" r="0.62" fill="#b0b0b0" stroke="#858585" stroke-width="0.32"/>
<circle cx="463.48" cy="130.42" r="0.62" fill="#b0b0b0" stroke="#858585" stroke-width="0.32"/>
<circle cx="460.56" cy="108.77" r="0.62" fill="#b0b0b0" stroke="#858585" stroke-width="0.32"/>
<circle cx="463.98" cy="132.79" r="0.62" fill="#b0b0b0" stroke="#858585" stroke-width="0.32"/>
<circle cx="472.31" cy="120.70" r="0.62" fill="#b0b0b0" stroke="#858585" stroke-width="0.32"/>
<circle cx="461.35" cy="131.66" r="0.62" fill="#b0b0b0" stroke="#858585" stroke-width="0.32"/>
<circle cx="458.86" cy="138.76" r="0.62" fill="#b0b0b0" stroke="#858585" stroke-width="0.32"/>
<circle cx="471.02" cy="114.46" r="0.62" fill="#b0b0b0" stroke="#858585" stroke-width="0.32"/>
<circle cx="474.45" cy="115.81" r="0.62" fill="#b0b0b0" stroke="#858585" stroke-width="0.32"/>
<circle cx="463.22" cy="130.53" r="0.62" fill="#b0b0b0" stroke="#858585" stroke-width="0.32"/>
<circle cx="465.80" cy="125.05" r="0.62" fill="#b0b0b0" stroke="#858585" stroke-width="0.32"/>
<circle cx="460.46" cy="136.09" r="0.62" fill="#b0b0b0" stroke="#858585" stroke-width="0.32"/>
<circle cx="459.92" cy="137.60" r="0.62" fill="#b0b0b0" stroke="#858585" stroke-width="0.32"/>
<circle cx="477.80" cy="107.01" r="0.62" fill="#b0b0b0" stroke="#858585" stroke-width="0.32"/>
<circle cx="461.94" cy="136.27" r="0.62" fill="#b0b0b0" stroke="#858585" stroke-width="0.32"/>
<circle cx="460.45" cy="136.36" r="0.62" fill="#b0b0b0" stroke="#858585" stroke-width="0.32"/>
<circle cx="476.07" cy="106.70" r="0.62" fill="#b0b0b0" stroke="#858585" stroke-width="0.32"/>
<circle cx="460.50" cy="137.93" r="0.62" fill="#b0b0b0" stroke="#858585" stroke-width="0.32"/>
<circle cx="459.29" cy="138.91" r="0.62" fill="#b0b0b0" stroke="#858585" stroke-width="0.32"/>
<circle cx="461.00" cy="137.34" r="0.62" fill="#b0b0b0" stroke="#858585" stroke-width="0.32"/>
<circle cx="459.47" cy="139.43" r="0.62" fill="#b0b0b0" stroke="#858585" stroke-width="0.32"/>
<circle cx="460.75" cy="135.70" r="0.62" fill="#b0b0b0" stroke="#858585" stroke-width="0.32"/>
<circle cx="469.04" cy="125.00" r="0.62" fill="#b0b0b0" stroke="#858585" stroke-width="0.32"/>
<circle cx="464.63" cy="119.15" r="0.62" fill="#b0b0b0" stroke="#858585" stroke-width="0.32"/>
<circle cx="470.34" cy="119.51" r="0.62" fill="#b0b0b0" stroke="#858585" stroke-width="0.32"/>
<circle cx="458.26" cy="137.42" r="0.62" fill="#b0b0b0" stroke="#858585" stroke-width="0.32"/>
<circle cx="458.91" cy="139.07" r="0.62" fill="#b0b0b0" stroke="#858585" stroke-width="0.32"/>
<circle cx="462.83" cy="126.68" r="0.62" fill="#b0b0b0" stroke="#858585" stroke-width="0.32"/>
<circle cx="472.81" cy="115.93" r="0.62" fill="#b0b0b0" stroke="#858585" stroke-width="0.32"/>
<circle cx="466.75" cy="130.00" r="0.62" fill="#b0b0b0" stroke="#858585" stroke-width="0.32"/>
<circle cx="463.64" cy="130.16" r="0.62" fill="#b0b0b0" stroke="#858585" stroke-width="0.32"/>
<circle cx="468.51" cy="124.48" r="0.62" fill="#b0b0b0" stroke="#858585" stroke-width="0.32"/>
<circle cx="467.58" cy="125.44" r="0.62" fill="#b0b0b0" stroke="#858585" stroke-width="0.32"/>
<circle cx="466.76" cy="118.86" r="0.62" fill="#b0b0b0" stroke="#858585" stroke-width="0.32"/>
<circle cx="459.63" cy="138.47" r="0.62" fill="#b0b0b0" stroke="#858585" stroke-width="0.32"/>
<circle cx="468.97" cy="112.42" r="0.62" fill="#b0b0b0" stroke="#858585" stroke-width="0.32"/>
<circle cx="473.27" cy="107.16" r="0.62" fill="#b0b0b0" stroke="#858585" stroke-width="0.32"/>
<circle cx="463.54" cy="135.99" r="0.62" fill="#b0b0b0" stroke="#858585" stroke-width="0.32"/>
<circle cx="463.48" cy="133.75" r="0.62" fill="#b0b0b0" stroke="#858585" stroke-width="0.32"/>
<circle cx="460.70" cy="138.35" r="0.62" fill="#b0b0b0" stroke="#858585" stroke-width="0.32"/>
<circle cx="464.77" cy="119.34" r="0.62" fill="#b0b0b0" stroke="#858585" stroke-width="0.32"/>
<circle cx="466.56" cy="119.10" r="0.62" fill="#b0b0b0" stroke="#858585" stroke-width="0.32"/>
<circle cx="460.54" cy="135.66" r="0.62" fill="#b0b0b0" stroke="#858585" stroke-width="0.32"/>
<circle cx="460.25" cy="139.50" r="0.62" fill="#b0b0b0" stroke="#858585" stroke-width="0.32"/>
<circle cx="473.83" cy="111.02" r="0.62" fill="#b0b0b0" stroke="#858585" stroke-width="0.32"/>
<circle cx="471.13" cy="115.20" r="0.62" fill="#b0b0b0" stroke="#858585" stroke-width="0.32"/>
<circle cx="466.02" cy="114.25" r="0.62" fill="#b0b0b0" stroke="#858585" stroke-width="0.32"/>
<circle cx="460.68" cy="137.73" r="0.62" fill="#b0b0b0" stroke="#858585" stroke-width="0.32"/>
<circle cx="458.90" cy="139.50" r="0.62" fill="#b0b0b0" stroke="#858585" stroke-width="0.32"/>
<circle cx="460.29" cy="137.50" r="0.62" fill="#b0b0b0" stroke="#858585" stroke-width="0.32"/>
<circle cx="477.08" cy="110.11" r="0.62" fill="#b0b0b0" stroke="#858585" stroke-width="0.32"/>
<circle cx="469.63" cy="117.28" r="0.62" fill="#b0b0b0" stroke="#858585" stroke-width="0.32"/>
<circle cx="474.28" cy="117.50" r="0.62" fill="#b0b0b0" stroke="#858585" stroke-width="0.32"/>
<circle cx="468.80" cy="125.08" r="0.62" fill="#b0b0b0" stroke="#858585" stroke-width="0.32"/>
<circle cx="472.50" cy="122.45" r="0.62" fill="#b0b0b0" stroke="#858585" stroke-width="0.32"/>
<circle cx="464.43" cy="123.68" r="0.62" fill="#b0b0b0" stroke="#858585" stroke-width="0.32"/>
<circle cx="464.22" cy="116.47" r="0.62" fill="#b0b0b0" stroke="#858585" stroke-width="0.32"/>
<circle cx="470.75" cy="114.30" r="0.62" fill="#b0b0b0" stroke="#858585" stroke-width="0.32"/>
<circle cx="466.27" cy="122.88" r="0.62" fill="#b0b0b0" stroke="#858585" stroke-width="0.32"/>
<circle cx="470.52" cy="115.57" r="0.62" fill="#b0b0b0" stroke="#858585" stroke-width="0.32"/>
<circle cx="461.10" cy="132.73" r="0.62" fill="#b0b0b0" stroke="#858585" stroke-width="0.32"/>
<circle cx="466.68" cy="125.39" r="0.62" fill="#b0b0b0" stroke="#858585" stroke-width="0.32"/>
<circle cx="467.19" cy="129.11" r="0.62" fill="#b0b0b0" stroke="#858585" stroke-width="0.32"/>
<circle cx="461.65" cy="123.51" r="0.62" fill="#b0b0b0" stroke="#858585" stroke-width="0.32"/>
<circle cx="463.61" cy="114.69" r="0.62" fill="#b0b0b0" stroke="#858585" stroke-width="0.32"/>
<circle cx="473.80" cy="116.03" r="0.62" fill="#b0b0b0" stroke="#858585" stroke-width="0.32"/>
<circle cx="469.79" cy="117.15" r="0.62" fill="#b0b0b0" stroke="#858585" stroke-width="0.32"/>
<circle cx="457.03" cy="123.53" r="0.62" fill="#b0b0b0" stroke="#858585" stroke-width="0.32"/>
<circle cx="468.64" cy="123.63" r="0.62" fill="#b0b0b0" stroke="#858585" stroke-width="0.32"/>
<circle cx="467.94" cy="127.96" r="0.62" fill="#b0b0b0" stroke="#858585" stroke-width="0.32"/>
<circle cx="467.36" cy="125.69" r="0.62" fill="#b0b0b0" stroke="#858585" stroke-width="0.32"/>
<circle cx="463.33" cy="130.80" r="0.62" fill="#b0b0b0" stroke="#858585" stroke-width="0.32"/>
<circle cx="458.57" cy="116.44" r="0.62" fill="#b0b0b0" stroke="#858585" stroke-width="0.32"/>
<circle cx="462.34" cy="136.36" r="0.62" fill="#b0b0b0" stroke="#858585" stroke-width="0.32"/>
<circle cx="463.36" cy="115.18" r="0.62" fill="#b0b0b0" stroke="#858585" stroke-width="0.32"/>
<circle cx="461.08" cy="138.68" r="0.62" fill="#b0b0b0" stroke="#858585" stroke-width="0.32"/>
<circle cx="466.70" cy="129.04" r="0.62" fill="#b0b0b0" stroke="#858585" stroke-width="0.32"/>
<circle cx="459.81" cy="123.30" r="0.62" fill="#b0b0b0" stroke="#858585" stroke-width="0.32"/>
<circle cx="470.84" cy="128.36" r="0.62" fill="#b0b0b0" stroke="#858585" stroke-width="0.32"/>
<circle cx="466.94" cy="127.55" r="0.62" fill="#b0b0b0" stroke="#858585" stroke-width="0.32"/>
<circle cx="465.48" cy="117.09" r="0.62" fill="#b0b0b0" stroke="#858585" stroke-width="0.32"/>
<circle cx="468.26" cy="110.85" r="0.62" fill="#b0b0b0" stroke="#858585" stroke-width="0.32"/>
<circle cx="461.78" cy="137.04" r="0.62" fill="#b0b0b0" stroke="#858585" stroke-width="0.32"/>
<circle cx="474.27" cy="106.76" r="0.62" fill="#b0b0b0" stroke="#858585" stroke-width="0.32"/>
<circle cx="456.45" cy="122.45" r="0.62" fill="#b0b0b0" stroke="#858585" stroke-width="0.32"/>
<circle cx="469.96" cy="125.21" r="0.62" fill="#b0b0b0" stroke="#858585" stroke-width="0.32"/>
<circle cx="473.95" cy="125.35" r="0.62" fill="#b0b0b0" stroke="#858585" stroke-width="0.32"/>
<circle cx="472.43" cy="120.44" r="0.62" fill="#b0b0b0" stroke="#858585" stroke-width="0.32"/>
<circle cx="464.36" cy="134.18" r="0.62" fill="#b0b0b0" stroke="#858585" stroke-width="0.32"/>
<circle cx="480.11" cy="108.25" r="0.62" fill="#b0b0b0" stroke="#858585" stroke-width="0.32"/>
<circle cx="471.19" cy="111.02" r="0.62" fill="#b0b0b0" stroke="#858585" stroke-width="0.32"/>
<circle cx="472.79" cy="112.78" r="0.62" fill="#b0b0b0" stroke="#858585" stroke-width="0.32"/>
<circle cx="461.49" cy="135.23" r="0.62" fill="#b0b0b0" stroke="#858585" stroke-width="0.32"/>
<circle cx="465.18" cy="107.00" r="0.62" fill="#b0b0b0" stroke="#858585" stroke-width="0.32"/>
<circle cx="462.04" cy="136.66" r="0.62" fill="#b0b0b0" stroke="#858585" stroke-width="0.32"/>
<circle cx="457.64" cy="139.33" r="0.62" fill="#b0b0b0" stroke="#858585" stroke-width="0.32"/>
<circle cx="465.33" cy="123.25" r="0.62" fill="#b0b0b0" stroke="#858585" stroke-width="0.32"/>
<circle cx="487.56" cy="107.10" r="0.62" fill="#b0b0b0" stroke="#858585" stroke-width="0.32"/>
<circle cx="461.39" cy="119.39" r="0.62" fill="#b0b0b0" stroke="#858585" stroke-width="0.32"/>
<circle cx="462.58" cy="133.92" r="0.62" fill="#b0b0b0" stroke="#858585" stroke-width="0.32"/>
<circle cx="470.75" cy="126.81" r="0.62" fill="#b0b0b0" stroke="#858585" stroke-width="0.32"/>
<circle cx="462.04" cy="138.51" r="0.62" fill="#b0b0b0" stroke="#858585" stroke-width="0.32"/>
<circle cx="455.23" cy="131.91" r="0.62" fill="#b0b0b0" stroke="#858585" stroke-width="0.32"/>
<circle cx="456.40" cy="139.08" r="0.62" fill="#b0b0b0" stroke="#858585" stroke-width="0.32"/>
<circle cx="458.49" cy="139.34" r="0.62" fill="#b0b0b0" stroke="#858585" stroke-width="0.32"/>
<circle cx="457.62" cy="124.54" r="0.62" fill="#b0b0b0" stroke="#858585" stroke-width="0.32"/>
<circle cx="454.52" cy="128.99" r="0.62" fill="#b0b0b0" stroke="#858585" stroke-width="0.32"/>
<circle cx="455.83" cy="129.95" r="0.62" fill="#b0b0b0" stroke="#858585" stroke-width="0.32"/>
<circle cx="455.30" cy="129.81" r="0.62" fill="#b0b0b0" stroke="#858585" stroke-width="0.32"/>
<circle cx="456.47" cy="136.76" r="0.62" fill="#b0b0b0" stroke="#858585" stroke-width="0.32"/>
<circle cx="455.56" cy="131.98" r="0.62" fill="#b0b0b0" stroke="#858585" stroke-width="0.32"/>
<circle cx="458.72" cy="131.06" r="0.62" fill="#b0b0b0" stroke="#858585" stroke-width="0.32"/>
<circle cx="457.61" cy="138.87" r="0.62" fill="#b0b0b0" stroke="#858585" stroke-width="0.32"/>
<circle cx="458.45" cy="137.76" r="0.62" fill="#b0b0b0" stroke="#858585" stroke-width="0.32"/>
<circle cx="455.80" cy="130.16" r="0.62" fill="#b0b0b0" stroke="#858585" stroke-width="0.32"/>
<circle cx="455.09" cy="133.30" r="0.62" fill="#b0b0b0" stroke="#858585" stroke-width="0.32"/>
<circle cx="453.52" cy="127.47" r="0.62" fill="#b0b0b0" stroke="#858585" stroke-width="0.32"/>
<circle cx="456.28" cy="136.84" r="0.62" fill="#b0b0b0" stroke="#858585" stroke-width="0.32"/>
<circle cx="455.03" cy="129.11" r="0.62" fill="#b0b0b0" stroke="#858585" stroke-width="0.32"/>
<circle cx="456.97" cy="128.12" r="0.62" fill="#b0b0b0" stroke="#858585" stroke-width="0.32"/>
<circle cx="456.11" cy="133.07" r="0.62" fill="#b0b0b0" stroke="#858585" stroke-width="0.32"/>
<circle cx="454.78" cy="131.71" r="0.62" fill="#b0b0b0" stroke="#858585" stroke-width="0.32"/>
<circle cx="455.20" cy="126.30" r="0.62" fill="#b0b0b0" stroke="#858585" stroke-width="0.32"/>
<circle cx="455.28" cy="126.84" r="0.62" fill="#b0b0b0" stroke="#858585" stroke-width="0.32"/>
<circle cx="457.15" cy="130.90" r="0.62" fill="#b0b0b0" stroke="#858585" stroke-width="0.32"/>
<circle cx="455.92" cy="133.49" r="0.62" fill="#b0b0b0" stroke="#858585" stroke-width="0.32"/>
<circle cx="455.72" cy="128.69" r="0.62" fill="#b0b0b0" stroke="#858585" stroke-width="0.32"/>
<circle cx="453.53" cy="124.75" r="0.62" fill="#b0b0b0" stroke="#858585" stroke-width="0.32"/>
<circle cx="453.56" cy="133.46" r="0.62" fill="#b0b0b0" stroke="#858585" stroke-width="0.32"/>
<circle cx="456.48" cy="138.52" r="0.62" fill="#b0b0b0" stroke="#858585" stroke-width="0.32"/>
<circle cx="458.16" cy="134.80" r="0.62" fill="#b0b0b0" stroke="#858585" stroke-width="0.32"/>
<circle cx="457.30" cy="124.31" r="0.62" fill="#b0b0b0" stroke="#858585" stroke-width="0.32"/>
<circle cx="453.98" cy="137.41" r="0.62" fill="#b0b0b0" stroke="#858585" stroke-width="0.32"/>
<circle cx="457.40" cy="133.94" r="0.62" fill="#b0b0b0" stroke="#858585" stroke-width="0.32"/>
<circle cx="455.05" cy="131.00" r="0.62" fill="#b0b0b0" stroke="#858585" stroke-width="0.32"/>
<circle cx="461.53" cy="128.10" r="0.62" fill="#b0b0b0" stroke="#858585" stroke-width="0.32"/>
<circle cx="460.14" cy="135.46" r="0.62" fill="#b0b0b0" stroke="#858585" stroke-width="0.32"/>
<circle cx="457.24" cy="128.94" r="0.62" fill="#b0b0b0" stroke="#858585" stroke-width="0.32"/>
<circle cx="464.78" cy="130.41" r="0.62" fill="#b0b0b0" stroke="#858585" stroke-width="0.32"/>
<circle cx="454.94" cy="132.42" r="0.62" fill="#b0b0b0" stroke="#858585" stroke-width="0.32"/>
<circle cx="462.91" cy="128.19" r="0.62" fill="#b0b0b0" stroke="#858585" stroke-width="0.32"/>
<circle cx="464.11" cy="138.62" r="0.62" fill="#b0b0b0" stroke="#858585" stroke-width="0.32"/>
<circle cx="459.31" cy="132.56" r="0.62" fill="#b0b0b0" stroke="#858585" stroke-width="0.32"/>
<circle cx="457.79" cy="129.84" r="0.62" fill="#b0b0b0" stroke="#858585" stroke-width="0.32"/>
<circle cx="461.12" cy="134.54" r="0.62" fill="#b0b0b0" stroke="#858585" stroke-width="0.32"/>
<circle cx="462.52" cy="132.62" r="0.62" fill="#b0b0b0" stroke="#858585" stroke-width="0.32"/>
<circle cx="463.20" cy="134.93" r="0.62" fill="#b0b0b0" stroke="#858585" stroke-width="0.32"/>
<circle cx="461.24" cy="127.91" r="0.62" fill="#b0b0b0" stroke="#858585" stroke-width="0.32"/>
<circle cx="458.91" cy="133.88" r="0.62" fill="#b0b0b0" stroke="#858585" stroke-width="0.32"/>
<circle cx="457.08" cy="138.65" r="0.62" fill="#b0b0b0" stroke="#858585" stroke-width="0.32"/>
<circle cx="460.83" cy="132.22" r="0.62" fill="#b0b0b0" stroke="#858585" stroke-width="0.32"/>
<circle cx="462.09" cy="132.16" r="0.62" fill="#b0b0b0" stroke="#858585" stroke-width="0.32"/>
<circle cx="468.68" cy="131.46" r="0.62" fill="#b0b0b0" stroke="#858585" stroke-width="0.32"/>
<circle cx="460.95" cy="139.25" r="0.62" fill="#b0b0b0" stroke="#858585" stroke-width="0.32"/>
<circle cx="457.48" cy="137.53" r="0.62" fill="#b0b0b0" stroke="#858585" stroke-width="0.32"/>
<circle cx="465.80" cy="130.67" r="0.62" fill="#b0b0b0" stroke="#858585" stroke-width="0.32"/>
<circle cx="453.54" cy="130.66" r="0.62" fill="#b0b0b0" stroke="#858585" stroke-width="0.32"/>
<circle cx="463.63" cy="137.91" r="0.62" fill="#b0b0b0" stroke="#858585" stroke-width="0.32"/>
<circle cx="462.28" cy="128.07" r="0.62" fill="#b0b0b0" stroke="#858585" stroke-width="0.32"/>
<circle cx="461.01" cy="130.57" r="0.62" fill="#b0b0b0" stroke="#858585" stroke-width="0.32"/>
<circle cx="459.18" cy="130.34" r="0.62" fill="#b0b0b0" stroke="#858585" stroke-width="0.32"/>
<circle cx="458.09" cy="129.19" r="0.62" fill="#b0b0b0" stroke="#858585" stroke-width="0.32"/>
<circle cx="460.81" cy="133.37" r="0.62" fill="#b0b0b0" stroke="#858585" stroke-width="0.32"/>
<circle cx="461.88" cy="127.74" r="0.62" fill="#b0b0b0" stroke="#858585" stroke-width="0.32"/>
<circle cx="461.00" cy="138.84" r="0.62" fill="#b0b0b0" stroke="#858585" stroke-width="0.32"/>
<circle cx="463.56" cy="128.87" r="0.62" fill="#b0b0b0" stroke="#858585" stroke-width="0.32"/>
<circle cx="463.04" cy="129.62" r="0.62" fill="#b0b0b0" stroke="#858585" stroke-width="0.32"/>
<circle cx="456.32" cy="139.36" r="0.62" fill="#b0b0b0" stroke="#858585" stroke-width="0.32"/>
<circle cx="463.44" cy="130.72" r="0.62" fill="#b0b0b0" stroke="#858585" stroke-width="0.32"/>
<circle cx="468.16" cy="127.96" r="0.62" fill="#b0b0b0" stroke="#858585" stroke-width="0.32"/>
<circle cx="460.09" cy="138.72" r="0.62" fill="#b0b0b0" stroke="#858585" stroke-width="0.32"/>
<circle cx="457.85" cy="138.26" r="0.62" fill="#b0b0b0" stroke="#858585" stroke-width="0.32"/>
<circle cx="457.71" cy="129.09" r="0.62" fill="#b0b0b0" stroke="#858585" stroke-width="0.32"/>
<circle cx="461.41" cy="132.84" r="0.62" fill="#b0b0b0" stroke="#858585" stroke-width="0.32"/>
<circle cx="455.97" cy="138.73" r="0.62" fill="#b0b0b0" stroke="#858585" stroke-width="0.32"/>
<circle cx="462.69" cy="129.22" r="0.62" fill="#b0b0b0" stroke="#858585" stroke-width="0.32"/>
<circle cx="461.67" cy="138.04" r="0.62" fill="#b0b0b0" stroke="#858585" stroke-width="0.32"/>
<circle cx="459.39" cy="137.04" r="0.62" fill="#b0b0b0" stroke="#858585" stroke-width="0.32"/>
<circle cx="461.12" cy="135.53" r="0.62" fill="#b0b0b0" stroke="#858585" stroke-width="0.32"/>
<circle cx="461.70" cy="131.70" r="0.62" fill="#b0b0b0" stroke="#858585" stroke-width="0.32"/>
<circle cx="461.92" cy="134.76" r="0.62" fill="#b0b0b0" stroke="#858585" stroke-width="0.32"/>
<circle cx="464.23" cy="138.03" r="0.62" fill="#b0b0b0" stroke="#858585" stroke-width="0.32"/>
<circle cx="464.15" cy="131.40" r="0.62" fill="#b0b0b0" stroke="#858585" stroke-width="0.32"/>
<circle cx="459.53" cy="134.48" r="0.62" fill="#b0b0b0" stroke="#858585" stroke-width="0.32"/>
<circle cx="458.02" cy="134.76" r="0.62" fill="#b0b0b0" stroke="#858585" stroke-width="0.32"/>
<circle cx="463.03" cy="137.38" r="0.62" fill="#b0b0b0" stroke="#858585" stroke-width="0.32"/>
<circle cx="458.96" cy="135.98" r="0.62" fill="#b0b0b0" stroke="#858585" stroke-width="0.32"/>
<circle cx="456.73" cy="138.69" r="0.62" fill="#b0b0b0" stroke="#858585" stroke-width="0.32"/>
<circle cx="462.13" cy="137.77" r="0.62" fill="#b0b0b0" stroke="#858585" stroke-width="0.32"/>
<circle cx="457.69" cy="129.63" r="0.62" fill="#b0b0b0" stroke="#858585" stroke-width="0.32"/>
<circle cx="458.12" cy="132.16" r="0.62" fill="#b0b0b0" stroke="#858585" stroke-width="0.32"/>
<circle cx="458.11" cy="132.60" r="0.62" fill="#b0b0b0" stroke="#858585" stroke-width="0.32"/>
<circle cx="437.90" cy="110.90" r="0.62" fill="#b0b0b0" stroke="#858585" stroke-width="0.32"/>
<circle cx="442.10" cy="114.80" r="0.62" fill="#b0b0b0" stroke="#858585" stroke-width="0.32"/>
<circle cx="447.00" cy="114.60" r="0.62" fill="#b0b0b0" stroke="#858585" stroke-width="0.32"/>
<circle cx="452.40" cy="116.60" r="0.62" fill="#b0b0b0" stroke="#858585" stroke-width="0.32"/>
<circle cx="454.20" cy="122.00" r="0.62" fill="#b0b0b0" stroke="#858585" stroke-width="0.32"/>
<circle cx="460.70" cy="112.60" r="0.62" fill="#b0b0b0" stroke="#858585" stroke-width="0.32"/>
<circle cx="460.20" cy="121.40" r="0.62" fill="#b0b0b0" stroke="#858585" stroke-width="0.32"/>
<line x1="458.10" y1="12.60" x2="458.10" y2="139.50" stroke="#6a6a6a" stroke-width="0.8" />
<circle cx="465.70" cy="56.70" r="1.0" fill="#6a0aa6"/>
<circle cx="479.90" cy="61.70" r="1.0" fill="#6a0aa6"/>
<circle cx="482.40" cy="62.80" r="1.0" fill="#6a0aa6"/>
<circle cx="481.10" cy="68.10" r="1.0" fill="#6a0aa6"/>
<circle cx="472.90" cy="71.00" r="1.0" fill="#6a0aa6"/>
<circle cx="474.40" cy="72.70" r="1.0" fill="#6a0aa6"/>
<circle cx="479.10" cy="71.80" r="1.0" fill="#6a0aa6"/>
<circle cx="468.50" cy="74.80" r="1.0" fill="#6a0aa6"/>
<circle cx="473.20" cy="75.50" r="1.0" fill="#6a0aa6"/>
<circle cx="475.70" cy="74.30" r="1.0" fill="#6a0aa6"/>
<circle cx="481.10" cy="74.80" r="1.0" fill="#6a0aa6"/>
<circle cx="478.30" cy="77.70" r="1.0" fill="#6a0aa6"/>
<circle cx="446.00" cy="101.60" r="1.0" fill="#6a0aa6"/>
<circle cx="497.50" cy="85.60" r="1.0" fill="#6a0aa6"/>
<circle cx="470.20" cy="85.20" r="1.0" fill="#6a0aa6"/>
<circle cx="476.70" cy="81.00" r="1.0" fill="#6a0aa6"/>
<circle cx="479.70" cy="80.50" r="1.0" fill="#6a0aa6"/>
<circle cx="482.20" cy="82.50" r="1.0" fill="#6a0aa6"/>
<circle cx="486.20" cy="82.00" r="1.0" fill="#6a0aa6"/>
<circle cx="483.70" cy="84.00" r="1.0" fill="#6a0aa6"/>
<circle cx="479.20" cy="84.00" r="1.0" fill="#6a0aa6"/>
<circle cx="473.10" cy="83.00" r="1.0" fill="#6a0aa6"/>
<circle cx="469.60" cy="85.50" r="1.0" fill="#6a0aa6"/>
<circle cx="471.10" cy="86.00" r="1.0" fill="#6a0aa6"/>
<circle cx="484.20" cy="86.50" r="1.0" fill="#6a0aa6"/>
<circle cx="489.70" cy="86.80" r="1.0" fill="#6a0aa6"/>
<circle cx="470.00" cy="88.90" r="1.0" fill="#6a0aa6"/>
<circle cx="471.20" cy="90.40" r="1.0" fill="#6a0aa6"/>
<circle cx="474.50" cy="90.10" r="1.0" fill="#6a0aa6"/>
<circle cx="476.00" cy="89.50" r="1.0" fill="#6a0aa6"/>
<circle cx="477.50" cy="88.90" r="1.0" fill="#6a0aa6"/>
<circle cx="479.00" cy="88.30" r="1.0" fill="#6a0aa6"/>
<circle cx="475.10" cy="92.20" r="1.0" fill="#6a0aa6"/>
<circle cx="473.30" cy="93.40" r="1.0" fill="#6a0aa6"/>
<circle cx="471.80" cy="93.10" r="1.0" fill="#6a0aa6"/>
<circle cx="467.20" cy="92.20" r="1.0" fill="#6a0aa6"/>
<circle cx="467.80" cy="94.60" r="1.0" fill="#6a0aa6"/>
<circle cx="469.10" cy="94.30" r="1.0" fill="#6a0aa6"/>
<circle cx="470.90" cy="95.80" r="1.0" fill="#6a0aa6"/>
<circle cx="472.70" cy="95.80" r="1.0" fill="#6a0aa6"/>
<circle cx="474.50" cy="97.10" r="1.0" fill="#6a0aa6"/>
<circle cx="465.70" cy="96.80" r="1.0" fill="#6a0aa6"/>
<circle cx="468.40" cy="97.70" r="1.0" fill="#6a0aa6"/>
<circle cx="469.70" cy="98.60" r="1.0" fill="#6a0aa6"/>
<circle cx="472.10" cy="99.50" r="1.0" fill="#6a0aa6"/>
<circle cx="473.00" cy="98.60" r="1.0" fill="#6a0aa6"/>
<circle cx="467.20" cy="100.40" r="1.0" fill="#6a0aa6"/>
<circle cx="469.10" cy="101.00" r="1.0" fill="#6a0aa6"/>
<circle cx="470.90" cy="101.60" r="1.0" fill="#6a0aa6"/>
<circle cx="466.00" cy="103.40" r="1.0" fill="#6a0aa6"/>
<circle cx="468.40" cy="103.70" r="1.0" fill="#6a0aa6"/>
<circle cx="470.30" cy="104.00" r="1.0" fill="#6a0aa6"/>
<circle cx="475.40" cy="102.20" r="1.0" fill="#6a0aa6"/>
<circle cx="478.40" cy="103.40" r="1.0" fill="#6a0aa6"/>
<circle cx="477.50" cy="96.80" r="1.0" fill="#6a0aa6"/>
<circle cx="479.60" cy="91.60" r="1.0" fill="#6a0aa6"/>
<circle cx="481.10" cy="94.30" r="1.0" fill="#6a0aa6"/>
<circle cx="484.10" cy="95.20" r="1.0" fill="#6a0aa6"/>
<circle cx="484.10" cy="91.90" r="1.0" fill="#6a0aa6"/>
<circle cx="485.60" cy="92.50" r="1.0" fill="#6a0aa6"/>
<circle cx="466.80" cy="102.20" r="1.0" fill="#6a0aa6"/>
<circle cx="471.50" cy="97.00" r="1.0" fill="#6a0aa6"/>
<line x1="400.80" y1="12.60" x2="400.80" y2="140.10" stroke="#1a1a1a" stroke-width="1.35" />
<line x1="400.30" y1="139.50" x2="515.70" y2="139.50" stroke="#111" stroke-width="1.2" />
<line x1="399.10" y1="139.50" x2="400.80" y2="139.50" stroke="#222" stroke-width="0.75" />
<text x="398.90" y="141.80" font-size="4.5" text-anchor="end" font-weight="bold" fill="#333" stroke="#333" stroke-width="0.16" >0</text>
<line x1="399.10" y1="99.85" x2="400.80" y2="99.85" stroke="#222" stroke-width="0.75" />
<text x="398.90" y="102.15" font-size="4.5" text-anchor="end" font-weight="bold" fill="#333" stroke="#333" stroke-width="0.16" >5</text>
<line x1="399.10" y1="60.20" x2="400.80" y2="60.20" stroke="#222" stroke-width="0.75" />
<text x="398.90" y="62.50" font-size="4.5" text-anchor="end" font-weight="bold" fill="#333" stroke="#333" stroke-width="0.16" >10</text>
<line x1="399.10" y1="20.55" x2="400.80" y2="20.55" stroke="#222" stroke-width="0.75" />
<text x="398.90" y="22.85" font-size="4.5" text-anchor="end" font-weight="bold" fill="#333" stroke="#333" stroke-width="0.16" >15</text>
<line x1="400.80" y1="139.50" x2="400.80" y2="141.50" stroke="#222" stroke-width="0.9" />
<text x="400.80" y="146.20" font-size="4.5" text-anchor="middle" font-weight="bold" fill="#222" stroke="#222" stroke-width="0.15" >-2</text>
<line x1="429.45" y1="139.50" x2="429.45" y2="141.50" stroke="#222" stroke-width="0.9" />
<text x="429.45" y="146.20" font-size="4.5" text-anchor="middle" font-weight="bold" fill="#222" stroke="#222" stroke-width="0.15" >-1</text>
<line x1="458.10" y1="139.50" x2="458.10" y2="141.50" stroke="#222" stroke-width="0.9" />
<text x="458.10" y="146.20" font-size="4.5" text-anchor="middle" font-weight="bold" fill="#222" stroke="#222" stroke-width="0.15" >0</text>
<line x1="486.75" y1="139.50" x2="486.75" y2="141.50" stroke="#222" stroke-width="0.9" />
<text x="486.75" y="146.20" font-size="4.5" text-anchor="middle" font-weight="bold" fill="#222" stroke="#222" stroke-width="0.15" >1</text>
<line x1="515.40" y1="139.50" x2="515.40" y2="141.50" stroke="#222" stroke-width="0.9" />
<text x="515.40" y="146.20" font-size="4.5" text-anchor="middle" font-weight="bold" fill="#222" stroke="#222" stroke-width="0.15" >2</text>
<text x="458.10" y="153.10" font-size="4.6" text-anchor="middle" font-weight="normal" fill="#111" stroke="#111" stroke-width="0.3" >Avg Log2 FC</text>
<text transform="translate(391.20,75.3) rotate(-90)" font-size="4.6" text-anchor="middle" font-weight="normal" fill="#111" stroke="#111" stroke-width="0.28">-Log (FDR)</text>
<text x="447.50" y="37.80" font-size="4.45" text-anchor="end" font-weight="bold" fill="#b040d8" stroke="#b040d8" stroke-width="0.16" >Down with CT</text>
<line x1="423.90" y1="39.40" x2="447.50" y2="39.40" stroke="#b040d8" stroke-width="0.55" />
<path d="M422.40,39.4 l2.4,-1.2 l0,2.4 z" fill="#b040d8"/>
<text x="469.80" y="37.80" font-size="4.45" text-anchor="start" font-weight="bold" fill="#6a10a0" stroke="#6a10a0" stroke-width="0.16" >Up with CT</text>
<line x1="469.80" y1="39.40" x2="492.30" y2="39.40" stroke="#6a10a0" stroke-width="0.55" />
<path d="M493.80,39.4 l-2.4,-1.2 l0,2.4 z" fill="#6a10a0"/>
<text x="3.00" y="171.60" font-size="14.6" text-anchor="start" font-weight="bold" fill="#000" >E</text>
<rect x="35.00" y="261.80" width="13.00" height="24.40" fill="#0f7a0f" />
<text x="41.50" y="259.80" font-size="5.8" text-anchor="middle" font-weight="normal" fill="#222" stroke="#222" stroke-width="0.16" >12</text>
<rect x="49.00" y="276.03" width="13.00" height="10.16" fill="#ff6600" />
<text x="55.50" y="274.03" font-size="5.8" text-anchor="middle" font-weight="normal" fill="#222" stroke="#222" stroke-width="0.16" >5</text>
<rect x="63.00" y="229.28" width="13.00" height="56.92" fill="#6f0aa0" />
<text x="69.50" y="227.28" font-size="5.8" text-anchor="middle" font-weight="normal" fill="#222" stroke="#222" stroke-width="0.16" >28</text>
<text x="55.30" y="296.50" font-size="6.6" text-anchor="middle" font-weight="bold" fill="#111" stroke="#111" stroke-width="0.16" >Fatty Acyls</text>
<text x="95.70" y="284.20" font-size="5.8" text-anchor="middle" font-weight="normal" fill="#222" stroke="#222" stroke-width="0.16" >0</text>
<rect x="103.20" y="284.17" width="13.00" height="2.03" fill="#ff6600" />
<text x="109.70" y="282.17" font-size="5.8" text-anchor="middle" font-weight="normal" fill="#222" stroke="#222" stroke-width="0.16" >1</text>
<rect x="117.20" y="284.17" width="13.00" height="2.03" fill="#6f0aa0" />
<text x="123.70" y="282.17" font-size="5.8" text-anchor="middle" font-weight="normal" fill="#222" stroke="#222" stroke-width="0.16" >1</text>
<text x="109.50" y="296.50" font-size="6.6" text-anchor="middle" font-weight="bold" fill="#111" stroke="#111" stroke-width="0.16" >Glycerolipids</text>
<rect x="143.70" y="231.31" width="13.00" height="54.89" fill="#0f7a0f" />
<text x="150.20" y="229.31" font-size="5.8" text-anchor="middle" font-weight="normal" fill="#222" stroke="#222" stroke-width="0.16" >27</text>
<rect x="157.70" y="213.01" width="13.00" height="73.19" fill="#ff6600" />
<text x="164.20" y="211.01" font-size="5.8" text-anchor="middle" font-weight="normal" fill="#222" stroke="#222" stroke-width="0.16" >36</text>
<rect x="171.70" y="176.42" width="13.00" height="109.78" fill="#6f0aa0" />
<text x="178.20" y="174.42" font-size="5.8" text-anchor="middle" font-weight="normal" fill="#222" stroke="#222" stroke-width="0.16" >54</text>
<text x="164.00" y="296.50" font-size="6.6" text-anchor="middle" font-weight="bold" fill="#111" stroke="#111" stroke-width="0.16" >Phospholipids</text>
<text x="205.00" y="284.20" font-size="5.8" text-anchor="middle" font-weight="normal" fill="#222" stroke="#222" stroke-width="0.16" >0</text>
<rect x="212.50" y="276.03" width="13.00" height="10.16" fill="#ff6600" />
<text x="219.00" y="274.03" font-size="5.8" text-anchor="middle" font-weight="normal" fill="#222" stroke="#222" stroke-width="0.16" >5</text>
<rect x="226.50" y="278.07" width="13.00" height="8.13" fill="#6f0aa0" />
<text x="233.00" y="276.07" font-size="5.8" text-anchor="middle" font-weight="normal" fill="#222" stroke="#222" stroke-width="0.16" >4</text>
<text x="218.80" y="296.50" font-size="6.6" text-anchor="middle" font-weight="bold" fill="#111" stroke="#111" stroke-width="0.16" >Sphingolipids</text>
<line x1="28.60" y1="164.00" x2="28.60" y2="286.80" stroke="#000" stroke-width="1.3" />
<line x1="28.00" y1="286.45" x2="245.60" y2="286.45" stroke="#000" stroke-width="1.4" />
<line x1="26.20" y1="286.20" x2="28.60" y2="286.20" stroke="#000" stroke-width="0.85" />
<line x1="26.80" y1="282.13" x2="28.60" y2="282.13" stroke="#000" stroke-width="0.85" />
<line x1="26.80" y1="278.07" x2="28.60" y2="278.07" stroke="#000" stroke-width="0.85" />
<line x1="26.80" y1="274.00" x2="28.60" y2="274.00" stroke="#000" stroke-width="0.85" />
<line x1="26.80" y1="269.94" x2="28.60" y2="269.94" stroke="#000" stroke-width="0.85" />
<line x1="26.80" y1="265.87" x2="28.60" y2="265.87" stroke="#000" stroke-width="0.85" />
<line x1="26.80" y1="261.80" x2="28.60" y2="261.80" stroke="#000" stroke-width="0.85" />
<line x1="26.80" y1="257.74" x2="28.60" y2="257.74" stroke="#000" stroke-width="0.85" />
<line x1="26.80" y1="253.67" x2="28.60" y2="253.67" stroke="#000" stroke-width="0.85" />
<line x1="26.80" y1="249.61" x2="28.60" y2="249.61" stroke="#000" stroke-width="0.85" />
<line x1="26.20" y1="245.54" x2="28.60" y2="245.54" stroke="#000" stroke-width="0.85" />
<line x1="26.80" y1="241.47" x2="28.60" y2="241.47" stroke="#000" stroke-width="0.85" />
<line x1="26.80" y1="237.41" x2="28.60" y2="237.41" stroke="#000" stroke-width="0.85" />
<line x1="26.80" y1="233.34" x2="28.60" y2="233.34" stroke="#000" stroke-width="0.85" />
<line x1="26.80" y1="229.28" x2="28.60" y2="229.28" stroke="#000" stroke-width="0.85" />
<line x1="26.80" y1="225.21" x2="28.60" y2="225.21" stroke="#000" stroke-width="0.85" />
<line x1="26.80" y1="221.14" x2="28.60" y2="221.14" stroke="#000" stroke-width="0.85" />
<line x1="26.80" y1="217.08" x2="28.60" y2="217.08" stroke="#000" stroke-width="0.85" />
<line x1="26.80" y1="213.01" x2="28.60" y2="213.01" stroke="#000" stroke-width="0.85" />
<line x1="26.80" y1="208.95" x2="28.60" y2="208.95" stroke="#000" stroke-width="0.85" />
<line x1="26.20" y1="204.88" x2="28.60" y2="204.88" stroke="#000" stroke-width="0.85" />
<line x1="26.80" y1="200.81" x2="28.60" y2="200.81" stroke="#000" stroke-width="0.85" />
<line x1="26.80" y1="196.75" x2="28.60" y2="196.75" stroke="#000" stroke-width="0.85" />
<line x1="26.80" y1="192.68" x2="28.60" y2="192.68" stroke="#000" stroke-width="0.85" />
<line x1="26.80" y1="188.62" x2="28.60" y2="188.62" stroke="#000" stroke-width="0.85" />
<line x1="26.80" y1="184.55" x2="28.60" y2="184.55" stroke="#000" stroke-width="0.85" />
<line x1="26.80" y1="180.48" x2="28.60" y2="180.48" stroke="#000" stroke-width="0.85" />
<line x1="26.80" y1="176.42" x2="28.60" y2="176.42" stroke="#000" stroke-width="0.85" />
<line x1="26.80" y1="172.35" x2="28.60" y2="172.35" stroke="#000" stroke-width="0.85" />
<line x1="26.80" y1="168.29" x2="28.60" y2="168.29" stroke="#000" stroke-width="0.85" />
<line x1="26.20" y1="164.22" x2="28.60" y2="164.22" stroke="#000" stroke-width="0.85" />
<text x="25.00" y="288.70" font-size="6.6" text-anchor="end" font-weight="normal" fill="#222" stroke="#222" stroke-width="0.25" >0</text>
<text x="25.00" y="248.04" font-size="6.6" text-anchor="end" font-weight="normal" fill="#222" stroke="#222" stroke-width="0.25" >20</text>
<text x="25.00" y="207.38" font-size="6.6" text-anchor="end" font-weight="normal" fill="#222" stroke="#222" stroke-width="0.25" >40</text>
<text x="25.00" y="166.72" font-size="6.6" text-anchor="end" font-weight="normal" fill="#222" stroke="#222" stroke-width="0.25" >60</text>
<line x1="55.30" y1="286.20" x2="55.30" y2="289.20" stroke="#000" stroke-width="0.95" />
<line x1="109.50" y1="286.20" x2="109.50" y2="289.20" stroke="#000" stroke-width="0.95" />
<line x1="164.00" y1="286.20" x2="164.00" y2="289.20" stroke="#000" stroke-width="0.95" />
<line x1="218.80" y1="286.20" x2="218.80" y2="289.20" stroke="#000" stroke-width="0.95" />
<text transform="translate(6.5,224.5) rotate(-90)" font-size="6.6" text-anchor="middle" font-weight="bold" fill="#111" stroke="#111" stroke-width="0.15"><tspan x="0" y="0"># of different lipid species</tspan><tspan x="0" y="7.7">altered by exercise training</tspan></text>
<rect x="63.20" y="173.00" width="7.60" height="4.30" fill="#0f7a0f" />
<text x="75.00" y="177.50" font-size="6.4" text-anchor="start" font-weight="bold" fill="#222" stroke="#222" stroke-width="0.16" >HIIT</text>
<rect x="63.20" y="182.20" width="7.60" height="4.30" fill="#ff6600" />
<text x="75.00" y="186.70" font-size="6.4" text-anchor="start" font-weight="bold" fill="#222" stroke="#222" stroke-width="0.16" >RT</text>
<rect x="63.20" y="191.40" width="7.60" height="4.30" fill="#6f0aa0" />
<text x="75.00" y="195.90" font-size="6.4" text-anchor="start" font-weight="bold" fill="#222" stroke="#222" stroke-width="0.16" >CT</text>
<text x="270.90" y="185.40" font-size="15.0" text-anchor="start" font-weight="bold" fill="#000" >F</text>
<text x="290.00" y="191.70" font-size="9.85" text-anchor="start" font-weight="bold" fill="#000" stroke="#000" stroke-width="0.25" >Top 3 phospholipids altered by exercise training</text>
<line x1="285.00" y1="196.10" x2="520.00" y2="196.10" stroke="#000" stroke-width="1.3" />
<text x="311.70" y="208.30" font-size="6.25" text-anchor="middle" font-weight="bold" fill="#000" stroke="#000" stroke-width="0.22" >Cardiolipin</text>
<rect x="290.30" y="224.02" width="13.20" height="47.28" fill="#0f7a0f" />
<rect x="305.10" y="259.48" width="13.20" height="11.82" fill="#ff6600" />
<rect x="319.90" y="241.75" width="13.20" height="29.55" fill="#6f0aa0" />
<line x1="283.40" y1="212.00" x2="283.40" y2="271.70" stroke="#333" stroke-width="0.8" />
<line x1="283.00" y1="271.30" x2="340.00" y2="271.30" stroke="#333" stroke-width="0.9" />
<line x1="281.60" y1="271.30" x2="283.40" y2="271.30" stroke="#333" stroke-width="0.75" />
<text x="281.20" y="272.90" font-size="4.4" text-anchor="end" font-weight="bold" fill="#333" stroke="#333" stroke-width="0.16" >0</text>
<line x1="281.60" y1="259.48" x2="283.40" y2="259.48" stroke="#333" stroke-width="0.75" />
<text x="281.20" y="261.08" font-size="4.4" text-anchor="end" font-weight="bold" fill="#333" stroke="#333" stroke-width="0.16" >2</text>
<line x1="281.60" y1="247.66" x2="283.40" y2="247.66" stroke="#333" stroke-width="0.75" />
<text x="281.20" y="249.26" font-size="4.4" text-anchor="end" font-weight="bold" fill="#333" stroke="#333" stroke-width="0.16" >4</text>
<line x1="281.60" y1="235.84" x2="283.40" y2="235.84" stroke="#333" stroke-width="0.75" />
<text x="281.20" y="237.44" font-size="4.4" text-anchor="end" font-weight="bold" fill="#333" stroke="#333" stroke-width="0.16" >6</text>
<line x1="281.60" y1="224.02" x2="283.40" y2="224.02" stroke="#333" stroke-width="0.75" />
<text x="281.20" y="225.62" font-size="4.4" text-anchor="end" font-weight="bold" fill="#333" stroke="#333" stroke-width="0.16" >8</text>
<line x1="281.60" y1="212.20" x2="283.40" y2="212.20" stroke="#333" stroke-width="0.75" />
<text x="281.20" y="213.80" font-size="4.4" text-anchor="end" font-weight="bold" fill="#333" stroke="#333" stroke-width="0.16" >10</text>
<line x1="296.90" y1="271.30" x2="296.90" y2="272.60" stroke="#333" stroke-width="0.5" />
<text x="296.90" y="278.40" font-size="4.3" text-anchor="middle" font-weight="bold" fill="#222" stroke="#222" stroke-width="0.16" >HIIT</text>
<line x1="311.70" y1="271.30" x2="311.70" y2="272.60" stroke="#333" stroke-width="0.5" />
<text x="311.70" y="278.40" font-size="4.3" text-anchor="middle" font-weight="bold" fill="#222" stroke="#222" stroke-width="0.16" >RT</text>
<line x1="326.50" y1="271.30" x2="326.50" y2="272.60" stroke="#333" stroke-width="0.5" />
<text x="326.50" y="278.40" font-size="4.3" text-anchor="middle" font-weight="bold" fill="#222" stroke="#222" stroke-width="0.16" >CT</text>
<text x="296.90" y="222.52" font-size="4.4" text-anchor="middle" font-weight="normal" fill="#222" stroke="#222" stroke-width="0.16" >8</text>
<text x="311.70" y="257.98" font-size="4.4" text-anchor="middle" font-weight="normal" fill="#222" stroke="#222" stroke-width="0.16" >2</text>
<text x="326.50" y="240.25" font-size="4.4" text-anchor="middle" font-weight="normal" fill="#222" stroke="#222" stroke-width="0.16" >5</text>
<text transform="translate(269.20,241.60) rotate(-90)" font-size="4.15" text-anchor="middle" font-weight="bold" fill="#222" stroke="#222" stroke-width="0.16" ># of CLs increased by</text>
<text transform="translate(274.30,241.10) rotate(-90)" font-size="4.15" text-anchor="middle" font-weight="bold" fill="#222" stroke="#222" stroke-width="0.16" >exercise training</text>
<text x="397.40" y="208.30" font-size="6.25" text-anchor="middle" font-weight="bold" fill="#000" stroke="#000" stroke-width="0.22" >Phosphatidylethanolamine</text>
<rect x="376.60" y="254.84" width="13.20" height="16.55" fill="#0f7a0f" />
<rect x="391.00" y="231.19" width="13.20" height="40.21" fill="#ff6600" />
<rect x="405.50" y="221.73" width="13.20" height="49.67" fill="#6f0aa0" />
<line x1="369.30" y1="212.00" x2="369.30" y2="271.80" stroke="#333" stroke-width="0.8" />
<line x1="368.90" y1="271.40" x2="426.00" y2="271.40" stroke="#333" stroke-width="0.9" />
<line x1="367.50" y1="271.40" x2="369.30" y2="271.40" stroke="#333" stroke-width="0.75" />
<text x="367.10" y="273.00" font-size="4.4" text-anchor="end" font-weight="bold" fill="#333" stroke="#333" stroke-width="0.16" >0</text>
<line x1="367.50" y1="259.57" x2="369.30" y2="259.57" stroke="#333" stroke-width="0.75" />
<text x="367.10" y="261.18" font-size="4.4" text-anchor="end" font-weight="bold" fill="#333" stroke="#333" stroke-width="0.16" >5</text>
<line x1="367.50" y1="247.75" x2="369.30" y2="247.75" stroke="#333" stroke-width="0.75" />
<text x="367.10" y="249.35" font-size="4.4" text-anchor="end" font-weight="bold" fill="#333" stroke="#333" stroke-width="0.16" >10</text>
<line x1="367.50" y1="235.92" x2="369.30" y2="235.92" stroke="#333" stroke-width="0.75" />
<text x="367.10" y="237.52" font-size="4.4" text-anchor="end" font-weight="bold" fill="#333" stroke="#333" stroke-width="0.16" >15</text>
<line x1="367.50" y1="224.10" x2="369.30" y2="224.10" stroke="#333" stroke-width="0.75" />
<text x="367.10" y="225.70" font-size="4.4" text-anchor="end" font-weight="bold" fill="#333" stroke="#333" stroke-width="0.16" >20</text>
<line x1="367.50" y1="212.27" x2="369.30" y2="212.27" stroke="#333" stroke-width="0.75" />
<text x="367.10" y="213.87" font-size="4.4" text-anchor="end" font-weight="bold" fill="#333" stroke="#333" stroke-width="0.16" >25</text>
<line x1="383.20" y1="271.40" x2="383.20" y2="272.70" stroke="#333" stroke-width="0.5" />
<text x="383.20" y="278.40" font-size="4.3" text-anchor="middle" font-weight="bold" fill="#222" stroke="#222" stroke-width="0.16" >HIIT</text>
<line x1="397.60" y1="271.40" x2="397.60" y2="272.70" stroke="#333" stroke-width="0.5" />
<text x="397.60" y="278.40" font-size="4.3" text-anchor="middle" font-weight="bold" fill="#222" stroke="#222" stroke-width="0.16" >RT</text>
<line x1="412.10" y1="271.40" x2="412.10" y2="272.70" stroke="#333" stroke-width="0.5" />
<text x="412.10" y="278.40" font-size="4.3" text-anchor="middle" font-weight="bold" fill="#222" stroke="#222" stroke-width="0.16" >CT</text>
<text x="383.20" y="253.34" font-size="4.4" text-anchor="middle" font-weight="normal" fill="#222" stroke="#222" stroke-width="0.16" >7</text>
<text x="397.60" y="229.69" font-size="4.4" text-anchor="middle" font-weight="normal" fill="#222" stroke="#222" stroke-width="0.16" >17</text>
<text x="412.10" y="220.23" font-size="4.4" text-anchor="middle" font-weight="normal" fill="#222" stroke="#222" stroke-width="0.16" >21</text>
<text transform="translate(355.10,241.60) rotate(-90)" font-size="4.15" text-anchor="middle" font-weight="bold" fill="#222" stroke="#222" stroke-width="0.16" ># of PEs increased by</text>
<text transform="translate(360.30,241.30) rotate(-90)" font-size="4.15" text-anchor="middle" font-weight="bold" fill="#222" stroke="#222" stroke-width="0.16" >exercise training</text>
<text x="488.60" y="208.30" font-size="6.25" text-anchor="middle" font-weight="bold" fill="#000" stroke="#000" stroke-width="0.22" >Phosphatidylcholine</text>
<rect x="467.60" y="251.30" width="13.20" height="10.40" fill="#22dd22" />
<rect x="482.20" y="240.90" width="13.20" height="10.40" fill="#ff6600" />
<rect x="496.70" y="221.40" width="13.20" height="29.90" fill="#6f0aa0" />
<rect x="496.70" y="251.30" width="13.20" height="1.30" fill="#6f0aa0" />
<line x1="460.30" y1="212.00" x2="460.30" y2="271.80" stroke="#333" stroke-width="0.8" />
<line x1="459.90" y1="271.40" x2="516.90" y2="271.40" stroke="#333" stroke-width="0.9" />
<line x1="460.30" y1="251.30" x2="516.90" y2="251.30" stroke="#333" stroke-width="0.8" />
<line x1="458.50" y1="264.30" x2="460.30" y2="264.30" stroke="#333" stroke-width="0.75" />
<text x="458.10" y="265.90" font-size="4.4" text-anchor="end" font-weight="bold" fill="#333" stroke="#333" stroke-width="0.16" >-10</text>
<line x1="458.50" y1="251.30" x2="460.30" y2="251.30" stroke="#333" stroke-width="0.75" />
<text x="458.10" y="252.90" font-size="4.4" text-anchor="end" font-weight="bold" fill="#333" stroke="#333" stroke-width="0.16" >0</text>
<line x1="458.50" y1="238.30" x2="460.30" y2="238.30" stroke="#333" stroke-width="0.75" />
<text x="458.10" y="239.90" font-size="4.4" text-anchor="end" font-weight="bold" fill="#333" stroke="#333" stroke-width="0.16" >10</text>
<line x1="458.50" y1="225.30" x2="460.30" y2="225.30" stroke="#333" stroke-width="0.75" />
<text x="458.10" y="226.90" font-size="4.4" text-anchor="end" font-weight="bold" fill="#333" stroke="#333" stroke-width="0.16" >20</text>
<line x1="458.50" y1="212.30" x2="460.30" y2="212.30" stroke="#333" stroke-width="0.75" />
<text x="458.10" y="213.90" font-size="4.4" text-anchor="end" font-weight="bold" fill="#333" stroke="#333" stroke-width="0.16" >30</text>
<line x1="474.20" y1="271.40" x2="474.20" y2="272.70" stroke="#333" stroke-width="0.5" />
<text x="474.20" y="278.40" font-size="4.3" text-anchor="middle" font-weight="bold" fill="#222" stroke="#222" stroke-width="0.16" >HIIT</text>
<line x1="488.80" y1="271.40" x2="488.80" y2="272.70" stroke="#333" stroke-width="0.5" />
<text x="488.80" y="278.40" font-size="4.3" text-anchor="middle" font-weight="bold" fill="#222" stroke="#222" stroke-width="0.16" >RT</text>
<line x1="503.30" y1="271.40" x2="503.30" y2="272.70" stroke="#333" stroke-width="0.5" />
<text x="503.30" y="278.40" font-size="4.3" text-anchor="middle" font-weight="bold" fill="#222" stroke="#222" stroke-width="0.16" >CT</text>
<text x="474.20" y="267.20" font-size="4.4" text-anchor="middle" font-weight="normal" fill="#222" stroke="#222" stroke-width="0.16" >8</text>
<text x="488.80" y="239.40" font-size="4.4" text-anchor="middle" font-weight="normal" fill="#222" stroke="#222" stroke-width="0.16" >8</text>
<text x="503.30" y="219.90" font-size="4.4" text-anchor="middle" font-weight="normal" fill="#222" stroke="#222" stroke-width="0.16" >23</text>
<text x="503.30" y="258.60" font-size="4.4" text-anchor="middle" font-weight="normal" fill="#222" stroke="#222" stroke-width="0.16" >1</text>
<text transform="translate(442.40,240.10) rotate(-90)" font-size="4.0" text-anchor="middle" font-weight="bold" fill="#222" stroke="#222" stroke-width="0.16" >#of PCs</text>
<text transform="translate(447.30,242.00) rotate(-90)" font-size="4.05" text-anchor="middle" font-weight="bold" fill="#222" stroke="#222" stroke-width="0.16" text-decoration="underline">decreased&#160;&#160;or&#160;&#160;increased</text>
<text transform="translate(453.00,241.50) rotate(-90)" font-size="4.05" text-anchor="middle" font-weight="bold" fill="#222" stroke="#222" stroke-width="0.16" >by exercise training</text>
<line x1="448.20" y1="217.00" x2="448.20" y2="266.50" stroke="#111" stroke-width="0.7" />
<path d="M448.2,214.4 l-1.4,3.2 l2.8,0 z M448.2,269.0 l-1.4,-3.2 l2.8,0 z" fill="#111"/>
</svg>
</body></html>
